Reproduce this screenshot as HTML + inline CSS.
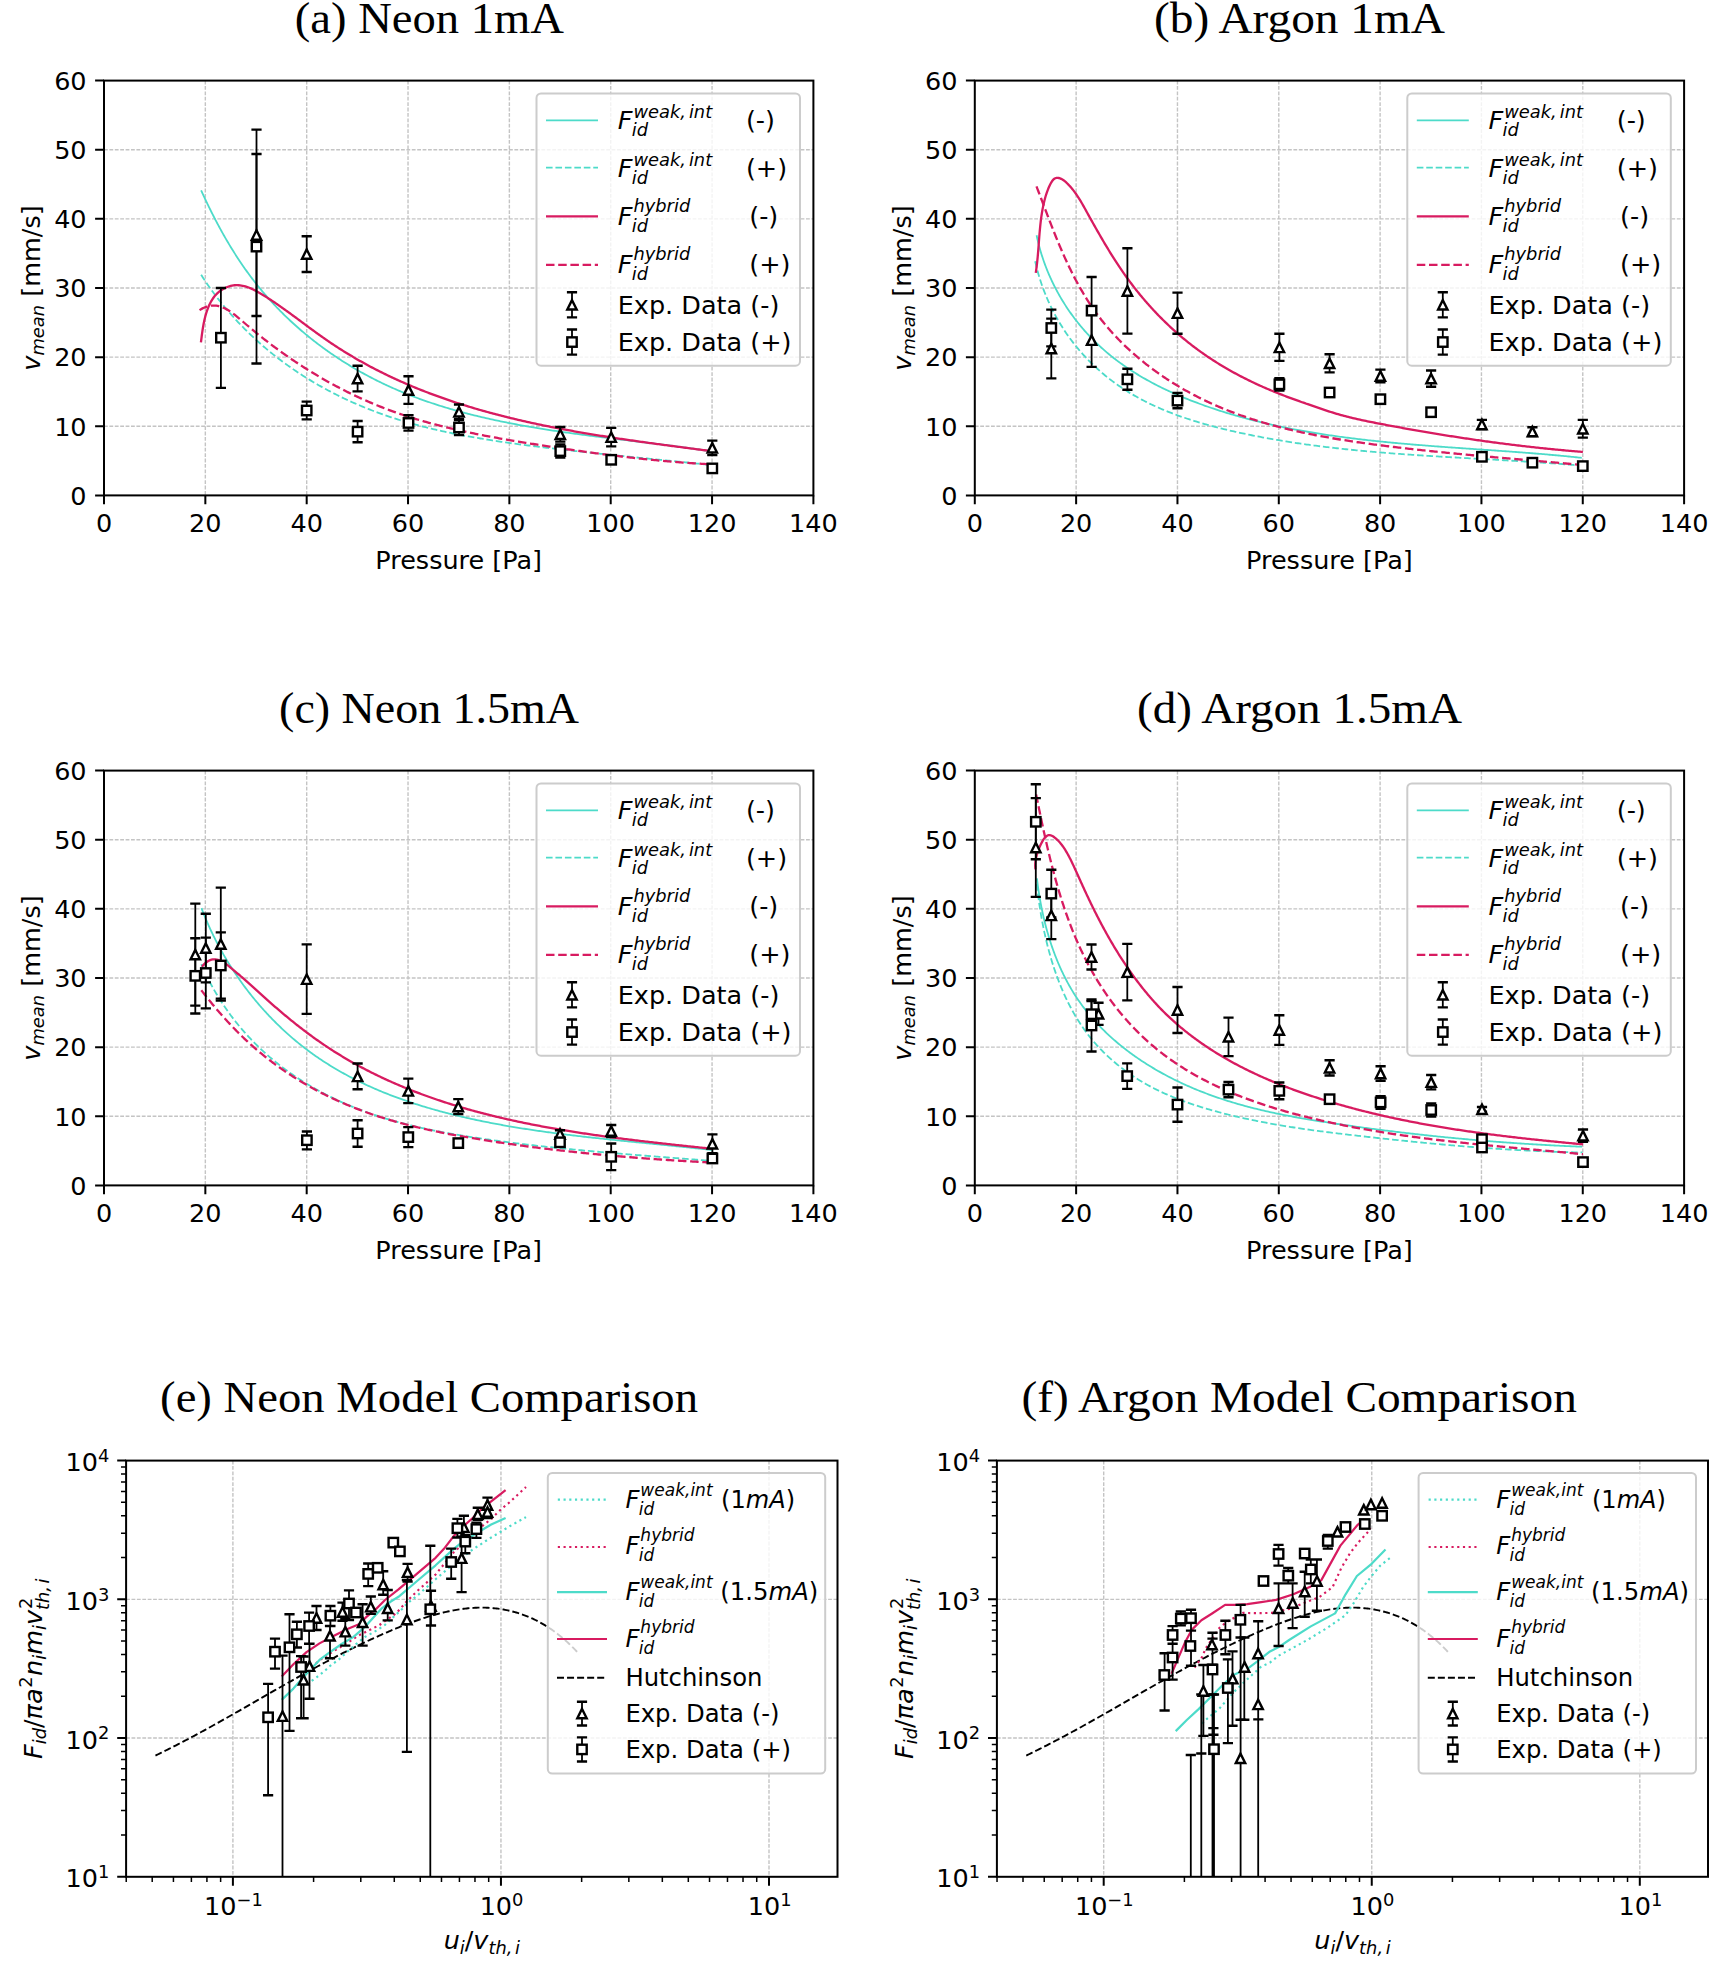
<!DOCTYPE html><html><head><meta charset="utf-8"><style>html,body{margin:0;padding:0;background:#fff;}svg{display:block;}.grid{stroke:#c4c4c4;stroke-width:1.4;stroke-dasharray:3.8 1.6;fill:none;}.spine{fill:none;stroke:#000;stroke-width:2.0;}.tick{stroke:#000;stroke-width:2;fill:none;}.mtick{stroke:#000;stroke-width:1.5;fill:none;}.eb{stroke:#000;stroke-width:1.8;fill:none;}.cap{stroke:#000;stroke-width:2.4;fill:none;}.mk{stroke:#000;stroke-width:2.4;fill:#fff;stroke-linejoin:miter;}</style></head><body>
<svg xmlns="http://www.w3.org/2000/svg" width="1727" height="1976" viewBox="0 0 1727 1976">
<rect width="1727" height="1976" fill="#fff"/>
<text x="294.8" y="33" font-size="44" font-family="'Liberation Serif', 'DejaVu Serif', serif" textLength="269.2" lengthAdjust="spacingAndGlyphs">(a) Neon 1mA</text>
<text x="1154" y="33" font-size="44" font-family="'Liberation Serif', 'DejaVu Serif', serif" textLength="291" lengthAdjust="spacingAndGlyphs">(b) Argon 1mA</text>
<text x="279.1" y="723" font-size="44" font-family="'Liberation Serif', 'DejaVu Serif', serif" textLength="299.9" lengthAdjust="spacingAndGlyphs">(c) Neon 1.5mA</text>
<text x="1137.1" y="723" font-size="44" font-family="'Liberation Serif', 'DejaVu Serif', serif" textLength="324.8" lengthAdjust="spacingAndGlyphs">(d) Argon 1.5mA</text>
<text x="160.1" y="1412" font-size="44" font-family="'Liberation Serif', 'DejaVu Serif', serif" textLength="537.9" lengthAdjust="spacingAndGlyphs">(e) Neon Model Comparison</text>
<text x="1021.5" y="1412" font-size="44" font-family="'Liberation Serif', 'DejaVu Serif', serif" textLength="555.3" lengthAdjust="spacingAndGlyphs">(f) Argon Model Comparison</text>
<path d="M205.34 80.6V495.4M306.69 80.6V495.4M408.03 80.6V495.4M509.37 80.6V495.4M610.71 80.6V495.4M712.06 80.6V495.4M104 426.27H813.4M104 357.13H813.4M104 288H813.4M104 218.87H813.4M104 149.73H813.4" class="grid"/>
<path d="M1076.13 80.6V495.4M1177.46 80.6V495.4M1278.79 80.6V495.4M1380.11 80.6V495.4M1481.44 80.6V495.4M1582.77 80.6V495.4M974.8 426.27H1684.1M974.8 357.13H1684.1M974.8 288H1684.1M974.8 218.87H1684.1M974.8 149.73H1684.1" class="grid"/>
<path d="M205.34 770.6V1185.4M306.69 770.6V1185.4M408.03 770.6V1185.4M509.37 770.6V1185.4M610.71 770.6V1185.4M712.06 770.6V1185.4M104 1116.27H813.4M104 1047.13H813.4M104 978H813.4M104 908.87H813.4M104 839.73H813.4" class="grid"/>
<path d="M1076.13 770.6V1185.4M1177.46 770.6V1185.4M1278.79 770.6V1185.4M1380.11 770.6V1185.4M1481.44 770.6V1185.4M1582.77 770.6V1185.4M974.8 1116.27H1684.1M974.8 1047.13H1684.1M974.8 978H1684.1M974.8 908.87H1684.1M974.8 839.73H1684.1" class="grid"/>
<path d="M232.9 1460.6V1876.8M500.95 1460.6V1876.8M769 1460.6V1876.8M126.1 1738.06H837.5M126.1 1599.33H837.5" class="grid"/>
<path d="M1103.7 1460.6V1876.8M1371.75 1460.6V1876.8M1639.8 1460.6V1876.8M996.9 1738.06H1708M996.9 1599.33H1708" class="grid"/>
<path d="M201.1 190.35L201.73 191.72L202.36 193.1L203 194.47L203.64 195.85L204.28 197.22L204.92 198.59L205.57 199.96L206.22 201.33L206.88 202.7L207.53 204.07L208.2 205.43L208.86 206.79L209.53 208.15L210.2 209.51L210.87 210.87L211.55 212.23L212.23 213.58L212.92 214.93L213.61 216.28L214.3 217.63L215 218.98L215.7 220.32L216.4 221.67L217.11 223.01L217.82 224.34L218.53 225.68L219.25 227.01L219.98 228.34L220.7 229.67L221.44 231L222.17 232.32L222.91 233.64L223.65 234.96L224.4 236.28L225.15 237.59L225.91 238.9L226.67 240.21L227.44 241.51L228.21 242.81L228.98 244.11L229.76 245.41L230.54 246.7L231.33 247.99L232.12 249.28L232.92 250.56L233.72 251.84L234.52 253.12L235.33 254.39L236.15 255.66L236.97 256.93L237.79 258.19L238.62 259.45L239.45 260.71L240.29 261.96L241.14 263.21L241.98 264.46L242.84 265.7L243.7 266.94L244.56 268.17L245.43 269.4L246.3 270.63L247.18 271.85L248.06 273.07L248.95 274.28L249.84 275.49L250.74 276.7L251.65 277.9L252.55 279.1L253.47 280.29L254.39 281.48L255.31 282.67L256.24 283.85L257.18 285.02L258.12 286.19L259.07 287.36L260.02 288.52L260.97 289.68L261.94 290.83L262.9 291.98L263.88 293.13L264.85 294.26L265.84 295.4L266.82 296.53L267.82 297.66L268.81 298.78L269.82 299.89L270.82 301L271.84 302.11L272.85 303.21L273.88 304.31L274.9 305.41L275.93 306.5L276.97 307.58L278.01 308.66L279.06 309.73L280.11 310.8L281.17 311.87L282.23 312.93L283.29 313.99L284.36 315.04L285.43 316.08L286.51 317.13L287.6 318.16L288.68 319.2L289.78 320.22L290.87 321.25L291.97 322.26L293.08 323.28L294.19 324.29L295.3 325.29L296.42 326.29L297.54 327.28L298.67 328.27L299.8 329.26L300.93 330.24L302.07 331.21L303.22 332.18L304.36 333.15L305.52 334.11L306.67 335.06L307.83 336.02L308.99 336.96L310.16 337.9L311.33 338.84L312.51 339.77L313.69 340.7L314.87 341.62L316.06 342.53L317.25 343.45L318.44 344.35L319.64 345.25L320.84 346.15L322.05 347.04L323.26 347.93L324.47 348.81L325.68 349.69L326.9 350.56L328.13 351.43L329.35 352.29L330.58 353.14L331.82 354L333.05 354.84L334.3 355.68L335.54 356.52L336.79 357.35L338.04 358.18L339.29 359L340.55 359.81L341.81 360.63L343.07 361.43L344.34 362.23L345.61 363.03L346.88 363.82L348.16 364.6L349.44 365.39L350.72 366.16L352 366.93L353.29 367.7L354.58 368.45L355.88 369.21L357.17 369.96L358.47 370.7L359.77 371.44L361.08 372.18L362.39 372.9L363.7 373.63L365.01 374.35L366.33 375.06L367.65 375.77L368.97 376.47L370.29 377.16L371.62 377.86L372.95 378.54L374.28 379.22L375.61 379.9L376.95 380.57L378.29 381.24L379.63 381.89L380.97 382.55L382.32 383.2L383.67 383.84L385.02 384.48L386.37 385.11L387.73 385.74L389.09 386.36L390.45 386.98L391.81 387.59L393.17 388.2L394.54 388.8L395.91 389.4L397.28 389.99L398.65 390.58L400.03 391.16L401.4 391.74L402.78 392.31L404.16 392.87L405.55 393.44L406.93 393.99L408.32 394.55L409.71 395.09L411.1 395.64L412.49 396.17L413.89 396.71L415.28 397.24L416.68 397.76L418.08 398.28L419.49 398.79L420.89 399.3L422.3 399.81L423.71 400.31L425.12 400.81L426.53 401.3L427.94 401.79L429.36 402.27L430.77 402.75L432.19 403.23L433.61 403.7L435.04 404.16L436.46 404.63L437.89 405.09L439.31 405.54L440.74 405.99L442.17 406.44L443.6 406.88L445.04 407.32L446.47 407.75L447.91 408.18L449.35 408.6L450.79 409.03L452.23 409.45L453.67 409.86L455.11 410.27L456.56 410.68L458.01 411.08L459.45 411.48L460.9 411.88L462.35 412.27L463.81 412.66L465.26 413.04L466.71 413.42L468.17 413.8L469.63 414.17L471.09 414.54L472.55 414.91L474.01 415.28L475.47 415.64L476.93 415.99L478.4 416.35L479.86 416.7L481.33 417.05L482.8 417.39L484.27 417.73L485.74 418.07L487.21 418.41L488.68 418.74L490.16 419.07L491.63 419.39L493.11 419.71L494.58 420.03L496.06 420.35L497.54 420.66L499.02 420.98L500.5 421.28L501.98 421.59L503.46 421.89L504.94 422.19L506.43 422.49L507.91 422.78L509.4 423.08L510.88 423.37L512.37 423.65L513.86 423.94L515.34 424.22L516.83 424.5L518.32 424.77L519.81 425.05L521.3 425.32L522.8 425.59L524.29 425.86L525.78 426.12L527.28 426.38L528.77 426.64L530.26 426.9L531.76 427.16L533.26 427.41L534.75 427.66L536.25 427.91L537.75 428.16L539.24 428.41L540.74 428.65L542.24 428.89L543.74 429.13L545.24 429.37L546.74 429.6L548.24 429.84L549.74 430.07L551.24 430.3L552.74 430.53L554.24 430.75L555.75 430.98L557.25 431.2L558.75 431.42L560.25 431.65L561.75 431.86L563.26 432.08L564.76 432.3L566.26 432.51L567.77 432.72L569.27 432.93L570.77 433.14L572.28 433.35L573.78 433.56L575.29 433.77L576.79 433.97L578.29 434.18L579.8 434.38L581.3 434.58L582.81 434.78L584.31 434.98L585.81 435.18L587.32 435.37L588.82 435.57L590.32 435.76L591.83 435.96L593.33 436.15L594.83 436.34L596.34 436.53L597.84 436.72L599.34 436.91L600.84 437.1L602.34 437.29L603.85 437.48L605.35 437.66L606.85 437.85L608.35 438.04L609.85 438.22L611.35 438.41L612.85 438.59L614.35 438.77L615.85 438.96L617.34 439.14L618.84 439.32L620.34 439.5L621.84 439.68L623.33 439.87L624.83 440.05L626.32 440.23L627.82 440.41L629.31 440.59L630.81 440.77L632.3 440.95L633.79 441.13L635.29 441.31L636.78 441.49L638.27 441.67L639.76 441.85L641.25 442.03L642.73 442.21L644.22 442.39L645.71 442.57L647.2 442.75L648.68 442.93L650.17 443.11L651.65 443.3L653.13 443.48L654.61 443.66L656.1 443.84L657.58 444.03L659.06 444.21L660.53 444.39L662.01 444.58L663.49 444.76L664.96 444.95L666.44 445.13L667.91 445.32L669.38 445.51L670.86 445.7L672.33 445.89L673.8 446.08L675.26 446.27L676.73 446.46L678.2 446.65L679.66 446.84L681.13 447.04L682.59 447.23L684.05 447.43L685.51 447.62L686.97 447.82L688.43 448.02L689.88 448.22L691.34 448.42L692.79 448.63L694.25 448.83L695.7 449.03L697.15 449.24L698.6 449.45L700.04 449.66L701.49 449.87L702.93 450.08L704.37 450.29L705.82 450.51L707.26 450.72L708.69 450.94L710.13 451.16L711.57 451.38" style="stroke:#4ddbc9;stroke-width:1.8;fill:none;"/>
<path d="M201.12 274.8L201.97 276.11L202.82 277.43L203.68 278.73L204.55 280.03L205.42 281.33L206.29 282.62L207.17 283.9L208.06 285.18L208.95 286.45L209.84 287.72L210.75 288.98L211.65 290.23L212.56 291.48L213.48 292.73L214.4 293.96L215.33 295.2L216.26 296.43L217.19 297.65L218.14 298.86L219.08 300.08L220.03 301.28L220.99 302.48L221.95 303.67L222.92 304.86L223.89 306.05L224.86 307.22L225.84 308.4L226.83 309.56L227.82 310.72L228.81 311.88L229.81 313.03L230.82 314.18L231.82 315.31L232.84 316.45L233.86 317.58L234.88 318.7L235.91 319.82L236.94 320.93L237.97 322.03L239.01 323.14L240.06 324.23L241.11 325.32L242.16 326.41L243.22 327.48L244.28 328.56L245.35 329.63L246.42 330.69L247.5 331.75L248.58 332.8L249.66 333.84L250.75 334.89L251.84 335.92L252.94 336.95L254.04 337.98L255.15 339L256.26 340.01L257.37 341.02L258.49 342.02L259.61 343.02L260.74 344.01L261.86 345L263 345.98L264.14 346.96L265.28 347.93L266.42 348.89L267.57 349.85L268.73 350.81L269.88 351.76L271.04 352.7L272.21 353.64L273.38 354.58L274.55 355.5L275.73 356.43L276.91 357.34L278.09 358.26L279.28 359.16L280.47 360.07L281.66 360.96L282.86 361.85L284.06 362.74L285.27 363.62L286.48 364.49L287.69 365.36L288.9 366.23L290.12 367.09L291.35 367.94L292.57 368.79L293.8 369.63L295.04 370.47L296.27 371.31L297.51 372.13L298.75 372.96L300 373.77L301.25 374.59L302.5 375.39L303.76 376.19L305.02 376.99L306.28 377.78L307.55 378.57L308.81 379.35L310.09 380.12L311.36 380.89L312.64 381.66L313.92 382.42L315.2 383.17L316.49 383.92L317.78 384.67L319.07 385.41L320.37 386.14L321.67 386.87L322.97 387.59L324.27 388.31L325.58 389.02L326.89 389.73L328.2 390.44L329.52 391.13L330.83 391.83L332.16 392.51L333.48 393.2L334.81 393.87L336.13 394.55L337.47 395.21L338.8 395.87L340.14 396.53L341.48 397.18L342.82 397.83L344.16 398.47L345.51 399.11L346.86 399.74L348.21 400.37L349.56 400.99L350.92 401.6L352.28 402.21L353.64 402.82L355 403.42L356.37 404.02L357.74 404.61L359.11 405.19L360.48 405.77L361.85 406.35L363.23 406.92L364.61 407.48L365.99 408.05L367.37 408.6L368.76 409.15L370.15 409.7L371.54 410.24L372.93 410.77L374.32 411.3L375.72 411.83L377.12 412.35L378.52 412.86L379.92 413.37L381.32 413.88L382.72 414.38L384.13 414.87L385.54 415.37L386.95 415.85L388.36 416.33L389.78 416.81L391.19 417.28L392.61 417.74L394.03 418.21L395.45 418.66L396.87 419.12L398.3 419.56L399.73 420.01L401.15 420.44L402.58 420.88L404.01 421.31L405.45 421.73L406.88 422.15L408.32 422.57L409.75 422.98L411.19 423.39L412.63 423.8L414.08 424.19L415.52 424.59L416.96 424.98L418.41 425.37L419.86 425.75L421.31 426.13L422.76 426.51L424.21 426.88L425.66 427.25L427.12 427.61L428.57 427.97L430.03 428.33L431.49 428.68L432.95 429.03L434.41 429.37L435.88 429.71L437.34 430.05L438.8 430.39L440.27 430.72L441.74 431.05L443.21 431.37L444.68 431.69L446.15 432.01L447.62 432.32L449.09 432.63L450.57 432.94L452.04 433.25L453.52 433.55L455 433.85L456.48 434.14L457.96 434.44L459.44 434.72L460.92 435.01L462.4 435.29L463.89 435.58L465.37 435.85L466.86 436.13L468.34 436.4L469.83 436.67L471.32 436.94L472.81 437.2L474.3 437.46L475.79 437.72L477.28 437.98L478.77 438.23L480.27 438.49L481.76 438.73L483.26 438.98L484.75 439.23L486.25 439.47L487.74 439.71L489.24 439.95L490.74 440.18L492.24 440.42L493.74 440.65L495.24 440.88L496.74 441.11L498.24 441.33L499.74 441.55L501.25 441.78L502.75 442L504.25 442.21L505.76 442.43L507.26 442.65L508.77 442.86L510.27 443.07L511.78 443.28L513.29 443.49L514.79 443.69L516.3 443.9L517.81 444.1L519.32 444.3L520.83 444.5L522.34 444.7L523.84 444.9L525.35 445.1L526.86 445.29L528.37 445.49L529.88 445.68L531.4 445.87L532.91 446.06L534.42 446.25L535.93 446.44L537.44 446.63L538.95 446.82L540.46 447L541.98 447.19L543.49 447.37L545 447.56L546.51 447.74L548.02 447.92L549.54 448.1L551.05 448.28L552.56 448.46L554.07 448.64L555.59 448.81L557.1 448.99L558.61 449.17L560.12 449.34L561.64 449.52L563.15 449.69L564.66 449.86L566.17 450.03L567.69 450.21L569.2 450.38L570.71 450.55L572.22 450.72L573.73 450.88L575.24 451.05L576.75 451.22L578.26 451.39L579.77 451.55L581.28 451.72L582.79 451.88L584.3 452.05L585.81 452.21L587.32 452.37L588.83 452.53L590.34 452.7L591.84 452.86L593.35 453.02L594.86 453.18L596.36 453.34L597.87 453.5L599.38 453.65L600.88 453.81L602.38 453.97L603.89 454.13L605.39 454.28L606.89 454.44L608.4 454.59L609.9 454.75L611.4 454.9L612.9 455.06L614.4 455.21L615.9 455.37L617.4 455.52L618.9 455.67L620.39 455.83L621.89 455.98L623.38 456.13L624.88 456.28L626.37 456.43L627.87 456.58L629.36 456.73L630.85 456.88L632.34 457.03L633.83 457.18L635.32 457.33L636.81 457.48L638.3 457.63L639.78 457.78L641.27 457.93L642.76 458.08L644.24 458.23L645.72 458.37L647.2 458.52L648.68 458.67L650.16 458.82L651.64 458.97L653.12 459.11L654.6 459.26L656.07 459.41L657.55 459.55L659.02 459.7L660.49 459.85L661.97 460L663.44 460.14L664.9 460.29L666.37 460.44L667.84 460.58L669.3 460.73L670.77 460.88L672.23 461.02L673.69 461.17L675.15 461.32L676.61 461.46L678.07 461.61L679.53 461.76L680.98 461.9L682.44 462.05L683.89 462.2L685.34 462.35L686.79 462.49L688.24 462.64L689.68 462.79L691.13 462.94L692.57 463.08L694.01 463.23L695.45 463.38L696.89 463.53L698.33 463.68L699.77 463.83L701.2 463.98L702.63 464.13L704.07 464.28L705.5 464.43L706.92 464.58L708.35 464.73L709.77 464.88L711.2 465.03" style="stroke:#4ddbc9;stroke-width:1.8;fill:none;stroke-dasharray:6.6 2.85;"/>
<path d="M200.92 342.48L201.07 341.26L201.23 340L201.4 338.68L201.57 337.33L201.74 335.93L201.93 334.5L202.13 333.04L202.34 331.55L202.57 330.04L202.81 328.5L203.06 326.95L203.34 325.38L203.63 323.8L203.95 322.21L204.29 320.61L204.65 319.01L205.04 317.42L205.45 315.82L205.9 314.24L206.37 312.67L206.88 311.11L207.41 309.56L207.99 308.04L208.59 306.55L209.24 305.08L209.92 303.64L210.65 302.24L211.42 300.87L212.22 299.55L213.08 298.27L213.98 297.03L214.93 295.85L215.92 294.72L216.97 293.65L218.06 292.63L219.19 291.68L220.36 290.78L221.57 289.95L222.8 289.18L224.07 288.47L225.36 287.83L226.66 287.25L227.99 286.74L229.32 286.31L230.67 285.94L232.02 285.64L233.37 285.41L234.72 285.26L236.06 285.18L237.4 285.17L238.74 285.23L240.07 285.36L241.4 285.54L242.72 285.79L244.04 286.09L245.36 286.44L246.67 286.85L247.97 287.29L249.28 287.79L250.57 288.32L251.87 288.89L253.16 289.5L254.45 290.14L255.74 290.81L257.02 291.5L258.3 292.21L259.57 292.95L260.85 293.7L262.12 294.47L263.38 295.24L264.65 296.03L265.91 296.82L267.17 297.62L268.43 298.43L269.68 299.24L270.94 300.06L272.19 300.89L273.44 301.72L274.68 302.56L275.93 303.41L277.17 304.26L278.41 305.12L279.65 305.98L280.89 306.85L282.13 307.72L283.36 308.6L284.6 309.48L285.83 310.36L287.07 311.25L288.3 312.14L289.53 313.04L290.76 313.93L291.99 314.83L293.22 315.73L294.45 316.64L295.68 317.54L296.91 318.45L298.13 319.36L299.36 320.27L300.59 321.18L301.82 322.09L303.05 323L304.28 323.91L305.51 324.83L306.74 325.74L307.97 326.65L309.2 327.56L310.44 328.46L311.67 329.37L312.9 330.27L314.14 331.18L315.38 332.08L316.62 332.97L317.86 333.87L319.1 334.76L320.34 335.65L321.58 336.53L322.83 337.42L324.08 338.29L325.33 339.17L326.58 340.03L327.84 340.9L329.09 341.76L330.35 342.61L331.61 343.46L332.88 344.3L334.14 345.14L335.41 345.97L336.68 346.8L337.96 347.62L339.23 348.44L340.51 349.26L341.79 350.07L343.07 350.87L344.35 351.67L345.64 352.46L346.92 353.25L348.21 354.04L349.5 354.82L350.8 355.59L352.09 356.36L353.39 357.13L354.69 357.89L356 358.64L357.3 359.4L358.61 360.14L359.91 360.89L361.22 361.62L362.54 362.36L363.85 363.08L365.17 363.81L366.48 364.53L367.8 365.24L369.13 365.95L370.45 366.66L371.78 367.36L373.1 368.06L374.43 368.75L375.77 369.44L377.1 370.12L378.43 370.8L379.77 371.48L381.11 372.15L382.45 372.82L383.79 373.48L385.14 374.14L386.48 374.79L387.83 375.44L389.18 376.09L390.53 376.73L391.89 377.37L393.24 378L394.6 378.63L395.96 379.25L397.32 379.87L398.68 380.49L400.04 381.1L401.41 381.71L402.77 382.32L404.14 382.92L405.51 383.51L406.88 384.11L408.26 384.7L409.63 385.28L411.01 385.86L412.38 386.44L413.76 387.01L415.15 387.58L416.53 388.15L417.91 388.71L419.3 389.27L420.69 389.82L422.07 390.37L423.46 390.92L424.86 391.46L426.25 392L427.64 392.54L429.04 393.07L430.44 393.6L431.84 394.13L433.24 394.65L434.64 395.17L436.04 395.68L437.45 396.19L438.85 396.7L440.26 397.2L441.67 397.7L443.08 398.2L444.49 398.69L445.9 399.18L447.32 399.67L448.73 400.15L450.15 400.63L451.56 401.11L452.98 401.58L454.4 402.05L455.83 402.52L457.25 402.98L458.67 403.45L460.1 403.9L461.52 404.36L462.95 404.81L464.38 405.26L465.81 405.7L467.24 406.14L468.67 406.58L470.1 407.02L471.54 407.45L472.97 407.88L474.41 408.3L475.85 408.73L477.29 409.15L478.73 409.56L480.17 409.98L481.61 410.39L483.05 410.8L484.5 411.2L485.94 411.61L487.39 412.01L488.83 412.4L490.28 412.8L491.73 413.19L493.18 413.58L494.63 413.96L496.08 414.35L497.53 414.73L498.99 415.11L500.44 415.48L501.9 415.85L503.35 416.22L504.81 416.59L506.27 416.95L507.72 417.32L509.18 417.68L510.64 418.03L512.1 418.39L513.57 418.74L515.03 419.09L516.49 419.44L517.96 419.78L519.42 420.12L520.89 420.46L522.35 420.8L523.82 421.14L525.29 421.47L526.75 421.8L528.22 422.13L529.69 422.45L531.16 422.78L532.63 423.1L534.11 423.42L535.58 423.73L537.05 424.05L538.52 424.36L540 424.67L541.47 424.98L542.95 425.28L544.42 425.59L545.9 425.89L547.38 426.19L548.85 426.49L550.33 426.78L551.81 427.08L553.29 427.37L554.77 427.66L556.25 427.95L557.73 428.23L559.21 428.52L560.69 428.8L562.17 429.08L563.65 429.36L565.14 429.63L566.62 429.91L568.1 430.18L569.58 430.45L571.07 430.72L572.55 430.99L574.04 431.26L575.52 431.52L577.01 431.78L578.49 432.05L579.98 432.31L581.46 432.56L582.95 432.82L584.44 433.07L585.92 433.33L587.41 433.58L588.9 433.83L590.39 434.08L591.87 434.32L593.36 434.57L594.85 434.81L596.34 435.06L597.83 435.3L599.31 435.54L600.8 435.78L602.29 436.01L603.78 436.25L605.27 436.49L606.76 436.72L608.25 436.95L609.74 437.18L611.23 437.41L612.71 437.64L614.2 437.87L615.69 438.09L617.18 438.32L618.67 438.54L620.16 438.77L621.65 438.99L623.14 439.21L624.63 439.43L626.12 439.65L627.61 439.86L629.1 440.08L630.58 440.29L632.07 440.51L633.56 440.72L635.05 440.94L636.54 441.15L638.03 441.36L639.52 441.57L641 441.78L642.49 441.99L643.98 442.19L645.47 442.4L646.95 442.61L648.44 442.81L649.93 443.02L651.41 443.22L652.9 443.42L654.39 443.63L655.87 443.83L657.36 444.03L658.84 444.23L660.33 444.43L661.81 444.63L663.3 444.83L664.78 445.03L666.26 445.22L667.75 445.42L669.23 445.62L670.71 445.81L672.19 446.01L673.68 446.21L675.16 446.4L676.64 446.6L678.12 446.79L679.6 446.98L681.08 447.18L682.56 447.37L684.03 447.56L685.51 447.76L686.99 447.95L688.47 448.14L689.94 448.34L691.42 448.53L692.89 448.72L694.37 448.91L695.84 449.1L697.32 449.29L698.79 449.49L700.26 449.68L701.73 449.87L703.2 450.06L704.67 450.25L706.14 450.44L707.61 450.63L709.08 450.82L710.55 451.02L712.02 451.21" style="stroke:#D81B60;stroke-width:2.3;fill:none;"/>
<path d="M199.53 310.11L201.03 309.19L202.51 308.38L203.97 307.68L205.42 307.09L206.84 306.6L208.24 306.2L209.62 305.9L210.99 305.69L212.34 305.57L213.68 305.54L215 305.59L216.3 305.71L217.59 305.91L218.87 306.18L220.14 306.52L221.39 306.93L222.63 307.39L223.87 307.92L225.09 308.5L226.3 309.13L227.51 309.8L228.71 310.53L229.9 311.29L231.08 312.1L232.26 312.93L233.43 313.8L234.61 314.7L235.77 315.63L236.94 316.57L238.1 317.53L239.26 318.51L240.42 319.5L241.58 320.5L242.74 321.5L243.9 322.5L245.06 323.5L246.23 324.5L247.4 325.5L248.57 326.49L249.74 327.48L250.92 328.46L252.1 329.44L253.28 330.42L254.46 331.39L255.65 332.36L256.84 333.33L258.03 334.29L259.22 335.25L260.42 336.2L261.61 337.15L262.81 338.1L264.02 339.05L265.22 339.99L266.43 340.92L267.64 341.85L268.85 342.78L270.07 343.71L271.28 344.63L272.5 345.55L273.72 346.46L274.94 347.37L276.17 348.27L277.4 349.18L278.63 350.07L279.86 350.97L281.1 351.86L282.33 352.74L283.57 353.62L284.81 354.5L286.06 355.38L287.3 356.25L288.55 357.11L289.8 357.97L291.05 358.83L292.31 359.69L293.56 360.54L294.82 361.38L296.09 362.22L297.35 363.06L298.61 363.89L299.88 364.72L301.15 365.55L302.42 366.37L303.7 367.18L304.97 368L306.25 368.8L307.53 369.61L308.81 370.41L310.1 371.2L311.38 371.99L312.67 372.78L313.96 373.56L315.26 374.34L316.55 375.11L317.85 375.88L319.15 376.65L320.45 377.41L321.75 378.17L323.05 378.92L324.36 379.67L325.67 380.41L326.98 381.15L328.29 381.88L329.61 382.61L330.92 383.34L332.24 384.06L333.56 384.77L334.88 385.48L336.21 386.19L337.53 386.89L338.86 387.59L340.19 388.28L341.52 388.97L342.86 389.66L344.19 390.34L345.53 391.01L346.87 391.68L348.21 392.35L349.56 393.01L350.9 393.66L352.25 394.32L353.6 394.96L354.95 395.6L356.3 396.24L357.65 396.87L359.01 397.5L360.37 398.12L361.73 398.74L363.09 399.35L364.45 399.96L365.81 400.57L367.18 401.16L368.55 401.76L369.92 402.35L371.29 402.93L372.66 403.51L374.04 404.08L375.42 404.65L376.79 405.22L378.17 405.78L379.56 406.33L380.94 406.88L382.33 407.42L383.71 407.96L385.1 408.5L386.49 409.02L387.88 409.55L389.28 410.07L390.67 410.58L392.07 411.09L393.47 411.6L394.87 412.1L396.27 412.59L397.67 413.08L399.07 413.57L400.48 414.05L401.89 414.52L403.3 415L404.71 415.46L406.12 415.93L407.53 416.38L408.95 416.84L410.36 417.29L411.78 417.73L413.2 418.18L414.62 418.61L416.04 419.05L417.47 419.48L418.89 419.9L420.32 420.32L421.74 420.74L423.17 421.15L424.6 421.56L426.03 421.97L427.47 422.37L428.9 422.77L430.33 423.16L431.77 423.55L433.21 423.94L434.65 424.32L436.09 424.7L437.53 425.08L438.97 425.45L440.41 425.82L441.86 426.18L443.3 426.55L444.75 426.91L446.2 427.26L447.65 427.61L449.1 427.96L450.55 428.31L452 428.65L453.46 428.99L454.91 429.33L456.37 429.67L457.82 430L459.28 430.33L460.74 430.65L462.2 430.97L463.66 431.29L465.12 431.61L466.59 431.93L468.05 432.24L469.51 432.55L470.98 432.86L472.45 433.16L473.91 433.46L475.38 433.76L476.85 434.06L478.32 434.35L479.79 434.65L481.26 434.94L482.74 435.22L484.21 435.51L485.68 435.79L487.16 436.08L488.63 436.36L490.11 436.63L491.59 436.91L493.06 437.18L494.54 437.46L496.02 437.73L497.5 437.99L498.98 438.26L500.46 438.52L501.95 438.79L503.43 439.05L504.91 439.31L506.4 439.57L507.88 439.82L509.37 440.08L510.85 440.33L512.34 440.59L513.83 440.84L515.31 441.09L516.8 441.34L518.29 441.58L519.78 441.83L521.27 442.08L522.76 442.32L524.25 442.56L525.74 442.81L527.23 443.05L528.72 443.29L530.22 443.53L531.71 443.77L533.2 444L534.7 444.24L536.19 444.48L537.68 444.71L539.18 444.95L540.67 445.18L542.17 445.42L543.67 445.65L545.16 445.88L546.66 446.11L548.15 446.34L549.65 446.57L551.15 446.8L552.65 447.03L554.14 447.26L555.64 447.49L557.14 447.71L558.64 447.94L560.14 448.17L561.64 448.39L563.13 448.61L564.63 448.83L566.13 449.06L567.63 449.28L569.13 449.5L570.63 449.71L572.13 449.93L573.63 450.15L575.13 450.36L576.63 450.58L578.13 450.79L579.63 451.01L581.13 451.22L582.63 451.43L584.13 451.64L585.63 451.85L587.13 452.06L588.63 452.26L590.13 452.47L591.63 452.67L593.13 452.88L594.63 453.08L596.13 453.28L597.63 453.48L599.13 453.68L600.63 453.88L602.12 454.07L603.62 454.27L605.12 454.46L606.62 454.65L608.12 454.84L609.62 455.04L611.11 455.22L612.61 455.41L614.11 455.6L615.61 455.78L617.1 455.97L618.6 456.15L620.1 456.33L621.59 456.51L623.09 456.69L624.58 456.86L626.08 457.04L627.57 457.21L629.07 457.39L630.56 457.56L632.05 457.73L633.55 457.9L635.04 458.06L636.53 458.23L638.02 458.39L639.51 458.55L641 458.71L642.5 458.87L643.98 459.03L645.47 459.19L646.96 459.34L648.45 459.49L649.94 459.65L651.43 459.79L652.91 459.94L654.4 460.09L655.88 460.23L657.37 460.38L658.85 460.52L660.34 460.66L661.82 460.79L663.3 460.93L664.78 461.06L666.26 461.2L667.74 461.33L669.22 461.46L670.7 461.58L672.18 461.71L673.66 461.83L675.14 461.95L676.61 462.07L678.09 462.19L679.56 462.31L681.03 462.42L682.51 462.53L683.98 462.64L685.45 462.75L686.92 462.86L688.39 462.96L689.86 463.06L691.33 463.16L692.79 463.26L694.26 463.36L695.72 463.45L697.19 463.55L698.65 463.64L700.11 463.72L701.57 463.81L703.03 463.89L704.49 463.97L705.95 464.05L707.41 464.13L708.86 464.21L710.32 464.28L711.77 464.35" style="stroke:#D81B60;stroke-width:2.3;fill:none;stroke-dasharray:8.5 3.7;"/>
<path d="M256.5 154V316" class="eb"/>
<path d="M251.4 154h10.2M251.4 316h10.2" class="cap"/>
<path d="M306.7 236.3V272" class="eb"/>
<path d="M301.6 236.3h10.2M301.6 272h10.2" class="cap"/>
<path d="M357.6 365.7V391.4" class="eb"/>
<path d="M352.5 365.7h10.2M352.5 391.4h10.2" class="cap"/>
<path d="M408.5 376.3V403.9" class="eb"/>
<path d="M403.4 376.3h10.2M403.4 403.9h10.2" class="cap"/>
<path d="M459 404.5V419.1" class="eb"/>
<path d="M453.9 404.5h10.2M453.9 419.1h10.2" class="cap"/>
<path d="M560.3 427V441.6" class="eb"/>
<path d="M555.2 427h10.2M555.2 441.6h10.2" class="cap"/>
<path d="M611.2 427.9V446.4" class="eb"/>
<path d="M606.1 427.9h10.2M606.1 446.4h10.2" class="cap"/>
<path d="M712.3 440.6V455.1" class="eb"/>
<path d="M707.2 440.6h10.2M707.2 455.1h10.2" class="cap"/>
<path d="M220.9 288V387.9" class="eb"/>
<path d="M215.8 288h10.2M215.8 387.9h10.2" class="cap"/>
<path d="M256.5 129.6V363.5" class="eb"/>
<path d="M251.4 129.6h10.2M251.4 363.5h10.2" class="cap"/>
<path d="M306.7 401.6V419.4" class="eb"/>
<path d="M301.6 401.6h10.2M301.6 419.4h10.2" class="cap"/>
<path d="M357.6 421V442.3" class="eb"/>
<path d="M352.5 421h10.2M352.5 442.3h10.2" class="cap"/>
<path d="M408.5 415.3V430.6" class="eb"/>
<path d="M403.4 415.3h10.2M403.4 430.6h10.2" class="cap"/>
<path d="M459 420V435" class="eb"/>
<path d="M453.9 420h10.2M453.9 435h10.2" class="cap"/>
<path d="M560.3 444.5V457.5" class="eb"/>
<path d="M555.2 444.5h10.2M555.2 457.5h10.2" class="cap"/>
<path d="M611.2 456V463" class="eb"/>
<path d="M606.1 456h10.2M606.1 463h10.2" class="cap"/>
<path d="M712.3 466V471" class="eb"/>
<path d="M707.2 466h10.2M707.2 471h10.2" class="cap"/>
<path d="M256.5 230.3L251.8 239.7L261.2 239.7Z" class="mk"/>
<path d="M306.7 249.4L302 258.8L311.4 258.8Z" class="mk"/>
<path d="M357.6 373.85L352.9 383.25L362.3 383.25Z" class="mk"/>
<path d="M408.5 385.4L403.8 394.8L413.2 394.8Z" class="mk"/>
<path d="M459 407.1L454.3 416.5L463.7 416.5Z" class="mk"/>
<path d="M560.3 429.6L555.6 439L565 439Z" class="mk"/>
<path d="M611.2 432.45L606.5 441.85L615.9 441.85Z" class="mk"/>
<path d="M712.3 443.15L707.6 452.55L717 452.55Z" class="mk"/>
<rect x="216.2" y="333" width="9.4" height="9.4" class="mk"/>
<rect x="251.8" y="241.9" width="9.4" height="9.4" class="mk"/>
<rect x="302" y="405.8" width="9.4" height="9.4" class="mk"/>
<rect x="352.9" y="426.95" width="9.4" height="9.4" class="mk"/>
<rect x="403.8" y="418.25" width="9.4" height="9.4" class="mk"/>
<rect x="454.3" y="422.8" width="9.4" height="9.4" class="mk"/>
<rect x="555.6" y="446.4" width="9.4" height="9.4" class="mk"/>
<rect x="606.5" y="455.1" width="9.4" height="9.4" class="mk"/>
<rect x="707.6" y="463.7" width="9.4" height="9.4" class="mk"/>
<path d="M1036.59 235.24L1036.91 236.76L1037.23 238.27L1037.58 239.77L1037.93 241.28L1038.29 242.78L1038.67 244.28L1039.06 245.77L1039.46 247.26L1039.87 248.75L1040.29 250.23L1040.72 251.71L1041.16 253.19L1041.62 254.66L1042.08 256.12L1042.56 257.59L1043.04 259.05L1043.54 260.5L1044.05 261.95L1044.57 263.4L1045.1 264.84L1045.64 266.27L1046.19 267.71L1046.75 269.13L1047.32 270.56L1047.9 271.97L1048.49 273.39L1049.1 274.8L1049.71 276.2L1050.33 277.6L1050.96 278.99L1051.6 280.38L1052.26 281.76L1052.92 283.13L1053.59 284.5L1054.27 285.87L1054.96 287.23L1055.66 288.58L1056.37 289.93L1057.09 291.27L1057.82 292.61L1058.55 293.94L1059.3 295.27L1060.06 296.58L1060.82 297.9L1061.59 299.2L1062.38 300.5L1063.17 301.79L1063.97 303.08L1064.78 304.36L1065.6 305.63L1066.42 306.9L1067.26 308.16L1068.1 309.42L1068.95 310.66L1069.81 311.9L1070.68 313.14L1071.56 314.36L1072.45 315.58L1073.34 316.79L1074.24 318L1075.15 319.2L1076.07 320.39L1076.99 321.57L1077.93 322.75L1078.87 323.92L1079.82 325.08L1080.78 326.24L1081.74 327.39L1082.71 328.53L1083.69 329.66L1084.68 330.78L1085.67 331.9L1086.67 333.01L1087.68 334.11L1088.7 335.21L1089.72 336.29L1090.75 337.37L1091.79 338.44L1092.83 339.5L1093.88 340.56L1094.94 341.6L1096 342.64L1097.07 343.67L1098.15 344.7L1099.23 345.71L1100.32 346.71L1101.42 347.71L1102.52 348.7L1103.63 349.68L1104.75 350.66L1105.87 351.62L1107 352.58L1108.13 353.53L1109.27 354.47L1110.42 355.41L1111.57 356.34L1112.73 357.26L1113.89 358.17L1115.06 359.07L1116.23 359.97L1117.41 360.86L1118.6 361.74L1119.79 362.62L1120.99 363.48L1122.19 364.34L1123.4 365.2L1124.61 366.04L1125.82 366.88L1127.05 367.71L1128.27 368.54L1129.51 369.36L1130.74 370.17L1131.99 370.97L1133.23 371.77L1134.48 372.56L1135.74 373.34L1137 374.12L1138.26 374.89L1139.53 375.66L1140.81 376.41L1142.09 377.17L1143.37 377.91L1144.65 378.65L1145.94 379.38L1147.24 380.11L1148.54 380.83L1149.84 381.54L1151.15 382.25L1152.46 382.95L1153.77 383.64L1155.09 384.33L1156.41 385.01L1157.73 385.69L1159.06 386.36L1160.4 387.03L1161.73 387.69L1163.07 388.34L1164.41 388.99L1165.76 389.63L1167.1 390.27L1168.45 390.9L1169.81 391.53L1171.17 392.15L1172.53 392.76L1173.89 393.37L1175.25 393.98L1176.62 394.57L1177.99 395.17L1179.37 395.76L1180.74 396.34L1182.12 396.92L1183.5 397.49L1184.88 398.06L1186.27 398.63L1187.66 399.18L1189.05 399.74L1190.44 400.29L1191.83 400.83L1193.23 401.37L1194.63 401.91L1196.02 402.44L1197.43 402.96L1198.83 403.49L1200.23 404L1201.64 404.51L1203.05 405.02L1204.46 405.53L1205.87 406.03L1207.28 406.52L1208.69 407.01L1210.11 407.5L1211.52 407.98L1212.94 408.46L1214.36 408.94L1215.78 409.41L1217.2 409.87L1218.62 410.33L1220.05 410.79L1221.47 411.25L1222.9 411.7L1224.33 412.14L1225.75 412.58L1227.18 413.02L1228.62 413.46L1230.05 413.89L1231.48 414.31L1232.92 414.74L1234.35 415.16L1235.79 415.57L1237.23 415.98L1238.67 416.39L1240.11 416.79L1241.55 417.19L1243 417.59L1244.44 417.98L1245.89 418.37L1247.33 418.76L1248.78 419.14L1250.23 419.52L1251.68 419.89L1253.13 420.26L1254.58 420.63L1256.04 421L1257.49 421.36L1258.95 421.72L1260.4 422.07L1261.86 422.42L1263.32 422.77L1264.78 423.11L1266.24 423.45L1267.7 423.79L1269.16 424.12L1270.62 424.45L1272.09 424.78L1273.55 425.11L1275.02 425.43L1276.49 425.75L1277.95 426.06L1279.42 426.37L1280.89 426.68L1282.36 426.99L1283.83 427.29L1285.31 427.59L1286.78 427.89L1288.25 428.18L1289.73 428.47L1291.2 428.76L1292.68 429.04L1294.16 429.33L1295.63 429.61L1297.11 429.88L1298.59 430.16L1300.07 430.43L1301.55 430.69L1303.03 430.96L1304.52 431.22L1306 431.48L1307.48 431.74L1308.97 431.99L1310.45 432.25L1311.94 432.49L1313.42 432.74L1314.91 432.99L1316.4 433.23L1317.89 433.47L1319.38 433.7L1320.87 433.94L1322.36 434.17L1323.85 434.4L1325.34 434.63L1326.83 434.85L1328.32 435.07L1329.81 435.29L1331.31 435.51L1332.8 435.73L1334.3 435.94L1335.79 436.15L1337.29 436.36L1338.78 436.56L1340.28 436.77L1341.78 436.97L1343.27 437.17L1344.77 437.37L1346.27 437.56L1347.77 437.76L1349.27 437.95L1350.77 438.14L1352.27 438.33L1353.77 438.51L1355.27 438.7L1356.77 438.88L1358.27 439.06L1359.77 439.24L1361.27 439.41L1362.78 439.59L1364.28 439.76L1365.78 439.93L1367.29 440.1L1368.79 440.27L1370.29 440.44L1371.8 440.6L1373.3 440.76L1374.81 440.92L1376.31 441.08L1377.82 441.24L1379.32 441.4L1380.83 441.55L1382.33 441.7L1383.84 441.85L1385.35 442L1386.85 442.15L1388.36 442.3L1389.87 442.45L1391.37 442.59L1392.88 442.73L1394.39 442.87L1395.89 443.02L1397.4 443.15L1398.91 443.29L1400.42 443.43L1401.92 443.56L1403.43 443.7L1404.94 443.83L1406.45 443.96L1407.95 444.09L1409.46 444.22L1410.97 444.35L1412.48 444.48L1413.98 444.6L1415.49 444.73L1417 444.85L1418.51 444.98L1420.01 445.1L1421.52 445.22L1423.03 445.34L1424.53 445.46L1426.04 445.58L1427.55 445.7L1429.06 445.82L1430.56 445.93L1432.07 446.05L1433.58 446.16L1435.08 446.28L1436.59 446.39L1438.09 446.5L1439.6 446.62L1441.11 446.73L1442.61 446.84L1444.12 446.95L1445.62 447.06L1447.13 447.17L1448.63 447.28L1450.13 447.38L1451.64 447.49L1453.14 447.6L1454.65 447.71L1456.15 447.81L1457.65 447.92L1459.15 448.02L1460.66 448.13L1462.16 448.24L1463.66 448.34L1465.16 448.44L1466.66 448.55L1468.16 448.65L1469.66 448.76L1471.16 448.86L1472.66 448.96L1474.16 449.07L1475.66 449.17L1477.15 449.28L1478.65 449.38L1480.15 449.48L1481.65 449.59L1483.14 449.69L1484.64 449.79L1486.13 449.9L1487.63 450L1489.12 450.1L1490.61 450.21L1492.11 450.31L1493.6 450.41L1495.09 450.52L1496.58 450.62L1498.07 450.73L1499.56 450.83L1501.05 450.94L1502.54 451.04L1504.03 451.15L1505.52 451.26L1507 451.36L1508.49 451.47L1509.98 451.58L1511.46 451.68L1512.95 451.79L1514.43 451.9L1515.91 452.01L1517.39 452.12L1518.88 452.23L1520.36 452.34L1521.84 452.46L1523.32 452.57L1524.79 452.68L1526.27 452.79L1527.75 452.91L1529.23 453.02L1530.7 453.14L1532.18 453.26L1533.65 453.37L1535.12 453.49L1536.59 453.61L1538.07 453.73L1539.54 453.85L1541.01 453.97L1542.47 454.1L1543.94 454.22L1545.41 454.35L1546.88 454.47L1548.34 454.6L1549.8 454.73L1551.27 454.86L1552.73 454.99L1554.19 455.12L1555.65 455.25L1557.11 455.38L1558.57 455.52L1560.03 455.65L1561.48 455.79L1562.94 455.93L1564.39 456.07L1565.85 456.21L1567.3 456.35L1568.75 456.49L1570.2 456.64L1571.65 456.78L1573.1 456.93L1574.54 457.08L1575.99 457.23L1577.43 457.38L1578.88 457.54L1580.32 457.69L1581.76 457.85" style="stroke:#4ddbc9;stroke-width:1.8;fill:none;"/>
<path d="M1035.15 261.22L1035.5 262.78L1035.86 264.33L1036.23 265.87L1036.61 267.42L1037 268.95L1037.41 270.48L1037.82 272.01L1038.25 273.52L1038.69 275.04L1039.13 276.55L1039.59 278.05L1040.06 279.55L1040.55 281.04L1041.04 282.53L1041.54 284.01L1042.05 285.48L1042.58 286.95L1043.11 288.42L1043.65 289.87L1044.21 291.33L1044.77 292.77L1045.35 294.21L1045.93 295.65L1046.53 297.07L1047.14 298.49L1047.75 299.91L1048.38 301.32L1049.01 302.72L1049.66 304.12L1050.32 305.51L1050.98 306.89L1051.66 308.27L1052.34 309.64L1053.03 311.01L1053.74 312.36L1054.45 313.71L1055.17 315.06L1055.91 316.4L1056.65 317.73L1057.4 319.05L1058.16 320.37L1058.93 321.68L1059.7 322.98L1060.49 324.28L1061.29 325.57L1062.09 326.85L1062.9 328.13L1063.73 329.39L1064.56 330.65L1065.4 331.91L1066.24 333.15L1067.1 334.39L1067.97 335.62L1068.84 336.85L1069.72 338.06L1070.61 339.27L1071.51 340.47L1072.42 341.66L1073.33 342.85L1074.25 344.03L1075.19 345.2L1076.12 346.36L1077.07 347.52L1078.03 348.66L1078.99 349.8L1079.96 350.94L1080.94 352.06L1081.92 353.18L1082.91 354.28L1083.91 355.38L1084.92 356.48L1085.94 357.56L1086.96 358.64L1087.99 359.71L1089.03 360.77L1090.07 361.82L1091.12 362.86L1092.18 363.9L1093.25 364.93L1094.32 365.95L1095.4 366.96L1096.48 367.96L1097.58 368.96L1098.68 369.95L1099.78 370.93L1100.89 371.9L1102.01 372.86L1103.14 373.81L1104.27 374.76L1105.41 375.69L1106.55 376.62L1107.7 377.54L1108.86 378.45L1110.02 379.35L1111.19 380.25L1112.37 381.13L1113.55 382.01L1114.74 382.88L1115.93 383.74L1117.13 384.59L1118.33 385.43L1119.54 386.26L1120.76 387.09L1121.98 387.91L1123.2 388.71L1124.43 389.51L1125.67 390.3L1126.91 391.09L1128.16 391.86L1129.41 392.62L1130.67 393.38L1131.94 394.13L1133.2 394.87L1134.48 395.61L1135.75 396.33L1137.04 397.05L1138.32 397.76L1139.62 398.46L1140.91 399.16L1142.22 399.85L1143.52 400.53L1144.83 401.2L1146.15 401.87L1147.47 402.52L1148.79 403.17L1150.12 403.82L1151.45 404.45L1152.79 405.08L1154.13 405.71L1155.47 406.32L1156.82 406.93L1158.17 407.53L1159.53 408.13L1160.89 408.72L1162.25 409.3L1163.62 409.87L1164.99 410.44L1166.36 411.01L1167.74 411.56L1169.12 412.11L1170.51 412.66L1171.9 413.19L1173.29 413.73L1174.68 414.25L1176.08 414.77L1177.48 415.29L1178.88 415.79L1180.29 416.3L1181.7 416.79L1183.11 417.28L1184.53 417.77L1185.95 418.25L1187.37 418.73L1188.79 419.2L1190.22 419.66L1191.65 420.12L1193.08 420.57L1194.51 421.02L1195.95 421.47L1197.39 421.9L1198.83 422.34L1200.27 422.77L1201.71 423.19L1203.16 423.61L1204.61 424.03L1206.06 424.44L1207.51 424.84L1208.97 425.24L1210.42 425.64L1211.88 426.03L1213.34 426.42L1214.8 426.81L1216.26 427.19L1217.73 427.56L1219.19 427.94L1220.66 428.3L1222.13 428.67L1223.6 429.03L1225.07 429.39L1226.54 429.74L1228.02 430.09L1229.49 430.44L1230.96 430.78L1232.44 431.12L1233.92 431.46L1235.39 431.79L1236.87 432.12L1238.35 432.44L1239.83 432.77L1241.31 433.09L1242.79 433.41L1244.27 433.72L1245.75 434.03L1247.24 434.34L1248.72 434.65L1250.2 434.95L1251.69 435.25L1253.17 435.55L1254.65 435.84L1256.14 436.13L1257.62 436.42L1259.11 436.71L1260.6 436.99L1262.08 437.27L1263.57 437.55L1265.06 437.83L1266.55 438.1L1268.04 438.37L1269.52 438.64L1271.01 438.9L1272.5 439.16L1273.99 439.42L1275.48 439.68L1276.98 439.94L1278.47 440.19L1279.96 440.44L1281.45 440.68L1282.94 440.93L1284.44 441.17L1285.93 441.41L1287.42 441.65L1288.92 441.88L1290.41 442.12L1291.91 442.35L1293.4 442.57L1294.9 442.8L1296.39 443.02L1297.89 443.24L1299.39 443.46L1300.88 443.68L1302.38 443.89L1303.88 444.11L1305.38 444.32L1306.87 444.52L1308.37 444.73L1309.87 444.93L1311.37 445.14L1312.87 445.33L1314.37 445.53L1315.87 445.73L1317.37 445.92L1318.87 446.11L1320.37 446.3L1321.87 446.49L1323.37 446.67L1324.87 446.86L1326.37 447.04L1327.87 447.22L1329.37 447.4L1330.88 447.57L1332.38 447.75L1333.88 447.92L1335.38 448.09L1336.89 448.26L1338.39 448.42L1339.89 448.59L1341.4 448.75L1342.9 448.91L1344.4 449.07L1345.91 449.23L1347.41 449.39L1348.91 449.54L1350.42 449.7L1351.92 449.85L1353.43 450L1354.93 450.15L1356.44 450.3L1357.94 450.44L1359.45 450.59L1360.95 450.73L1362.46 450.87L1363.96 451.01L1365.47 451.15L1366.97 451.28L1368.48 451.42L1369.98 451.55L1371.49 451.69L1372.99 451.82L1374.5 451.95L1376.01 452.08L1377.51 452.2L1379.02 452.33L1380.52 452.45L1382.03 452.58L1383.54 452.7L1385.04 452.82L1386.55 452.94L1388.05 453.06L1389.56 453.18L1391.07 453.3L1392.57 453.41L1394.08 453.53L1395.58 453.64L1397.09 453.75L1398.6 453.86L1400.1 453.97L1401.61 454.08L1403.11 454.19L1404.62 454.3L1406.12 454.41L1407.63 454.51L1409.14 454.62L1410.64 454.72L1412.15 454.82L1413.65 454.92L1415.16 455.03L1416.66 455.13L1418.17 455.23L1419.67 455.33L1421.18 455.42L1422.68 455.52L1424.19 455.62L1425.69 455.71L1427.2 455.81L1428.7 455.91L1430.2 456L1431.71 456.09L1433.21 456.19L1434.71 456.28L1436.22 456.37L1437.72 456.46L1439.22 456.55L1440.73 456.64L1442.23 456.73L1443.73 456.82L1445.24 456.91L1446.74 457L1448.24 457.09L1449.74 457.18L1451.24 457.26L1452.74 457.35L1454.25 457.44L1455.75 457.52L1457.25 457.61L1458.75 457.69L1460.25 457.78L1461.75 457.87L1463.25 457.95L1464.75 458.04L1466.25 458.12L1467.74 458.2L1469.24 458.29L1470.74 458.37L1472.24 458.46L1473.74 458.54L1475.23 458.62L1476.73 458.71L1478.23 458.79L1479.73 458.88L1481.22 458.96L1482.72 459.04L1484.21 459.13L1485.71 459.21L1487.2 459.3L1488.7 459.38L1490.19 459.46L1491.69 459.55L1493.18 459.63L1494.67 459.72L1496.16 459.8L1497.66 459.89L1499.15 459.97L1500.64 460.06L1502.13 460.14L1503.62 460.23L1505.11 460.32L1506.6 460.4L1508.09 460.49L1509.58 460.58L1511.07 460.67L1512.56 460.75L1514.05 460.84L1515.53 460.93L1517.02 461.02L1518.51 461.11L1519.99 461.2L1521.48 461.29L1522.96 461.38L1524.45 461.48L1525.93 461.57L1527.42 461.66L1528.9 461.75L1530.38 461.85L1531.86 461.94L1533.35 462.04L1534.83 462.14L1536.31 462.23L1537.79 462.33L1539.27 462.43L1540.75 462.53L1542.23 462.63L1543.7 462.73L1545.18 462.83L1546.66 462.93L1548.13 463.04L1549.61 463.14L1551.09 463.24L1552.56 463.35L1554.03 463.46L1555.51 463.56L1556.98 463.67L1558.45 463.78L1559.93 463.89L1561.4 464.01L1562.87 464.12L1564.34 464.23L1565.81 464.35L1567.27 464.46L1568.74 464.58L1570.21 464.7L1571.68 464.82L1573.14 464.94L1574.61 465.06L1576.07 465.18L1577.54 465.3L1579 465.43L1580.46 465.56L1581.93 465.68" style="stroke:#4ddbc9;stroke-width:1.8;fill:none;stroke-dasharray:6.6 2.85;"/>
<path d="M1035.75 272.92L1035.98 271.41L1036.2 269.91L1036.41 268.4L1036.61 266.9L1036.79 265.4L1036.97 263.89L1037.14 262.39L1037.3 260.89L1037.45 259.39L1037.6 257.89L1037.74 256.4L1037.87 254.9L1038 253.4L1038.12 251.91L1038.24 250.41L1038.36 248.92L1038.48 247.42L1038.59 245.93L1038.7 244.44L1038.81 242.94L1038.92 241.45L1039.04 239.96L1039.15 238.47L1039.26 236.99L1039.38 235.5L1039.5 234.01L1039.63 232.52L1039.76 231.04L1039.89 229.55L1040.03 228.07L1040.18 226.58L1040.33 225.1L1040.49 223.62L1040.66 222.13L1040.84 220.65L1041.02 219.17L1041.22 217.69L1041.43 216.21L1041.65 214.73L1041.88 213.25L1042.12 211.77L1042.38 210.3L1042.65 208.82L1042.93 207.34L1043.23 205.87L1043.55 204.39L1043.88 202.92L1044.23 201.44L1044.6 199.97L1044.99 198.49L1045.4 197.02L1045.84 195.54L1046.31 194.06L1046.81 192.57L1047.35 191.07L1047.93 189.57L1048.54 188.06L1049.21 186.54L1049.92 185.01L1050.68 183.51L1051.5 182.08L1052.37 180.79L1053.3 179.68L1054.29 178.82L1055.34 178.24L1056.45 177.92L1057.6 177.85L1058.78 177.99L1059.97 178.32L1061.18 178.84L1062.39 179.5L1063.58 180.3L1064.76 181.2L1065.92 182.19L1067.06 183.25L1068.16 184.34L1069.23 185.46L1070.27 186.6L1071.28 187.76L1072.26 188.94L1073.21 190.13L1074.14 191.34L1075.04 192.56L1075.92 193.79L1076.78 195.04L1077.62 196.3L1078.44 197.57L1079.25 198.85L1080.04 200.13L1080.82 201.43L1081.58 202.73L1082.34 204.04L1083.09 205.35L1083.83 206.67L1084.57 207.98L1085.3 209.3L1086.03 210.62L1086.76 211.94L1087.49 213.26L1088.22 214.58L1088.95 215.9L1089.68 217.22L1090.41 218.54L1091.15 219.85L1091.88 221.17L1092.62 222.48L1093.35 223.79L1094.09 225.1L1094.83 226.41L1095.57 227.72L1096.31 229.03L1097.05 230.33L1097.8 231.64L1098.55 232.94L1099.3 234.24L1100.05 235.54L1100.8 236.84L1101.56 238.14L1102.31 239.43L1103.07 240.73L1103.84 242.02L1104.6 243.31L1105.37 244.6L1106.14 245.88L1106.91 247.17L1107.69 248.45L1108.47 249.73L1109.25 251.01L1110.04 252.28L1110.83 253.55L1111.62 254.83L1112.42 256.09L1113.22 257.36L1114.02 258.62L1114.83 259.89L1115.64 261.14L1116.46 262.4L1117.28 263.65L1118.1 264.9L1118.93 266.15L1119.77 267.4L1120.61 268.64L1121.45 269.88L1122.3 271.12L1123.15 272.35L1124.01 273.58L1124.87 274.81L1125.74 276.03L1126.61 277.25L1127.49 278.47L1128.38 279.68L1129.27 280.9L1130.16 282.1L1131.06 283.31L1131.97 284.51L1132.88 285.71L1133.8 286.9L1134.73 288.09L1135.66 289.28L1136.59 290.46L1137.53 291.64L1138.48 292.81L1139.43 293.98L1140.39 295.15L1141.35 296.31L1142.32 297.47L1143.3 298.63L1144.28 299.78L1145.26 300.92L1146.25 302.07L1147.25 303.21L1148.25 304.34L1149.26 305.47L1150.27 306.59L1151.28 307.71L1152.31 308.83L1153.33 309.94L1154.36 311.05L1155.4 312.15L1156.44 313.25L1157.49 314.34L1158.54 315.43L1159.6 316.51L1160.66 317.59L1161.73 318.66L1162.8 319.73L1163.88 320.79L1164.96 321.85L1166.04 322.9L1167.13 323.95L1168.23 324.99L1169.33 326.03L1170.43 327.06L1171.54 328.08L1172.66 329.1L1173.78 330.12L1174.9 331.13L1176.03 332.13L1177.16 333.13L1178.29 334.12L1179.43 335.11L1180.58 336.09L1181.73 337.06L1182.88 338.03L1184.04 338.99L1185.2 339.95L1186.37 340.9L1187.54 341.84L1188.71 342.78L1189.89 343.71L1191.08 344.64L1192.26 345.56L1193.45 346.47L1194.65 347.38L1195.85 348.28L1197.05 349.17L1198.26 350.06L1199.47 350.94L1200.68 351.81L1201.9 352.68L1203.12 353.54L1204.35 354.4L1205.58 355.25L1206.81 356.09L1208.05 356.93L1209.29 357.76L1210.53 358.58L1211.78 359.4L1213.03 360.21L1214.29 361.02L1215.54 361.82L1216.81 362.61L1218.07 363.4L1219.34 364.18L1220.61 364.96L1221.89 365.73L1223.17 366.5L1224.45 367.26L1225.73 368.01L1227.02 368.76L1228.31 369.5L1229.61 370.24L1230.91 370.97L1232.21 371.69L1233.51 372.41L1234.82 373.13L1236.13 373.84L1237.44 374.54L1238.76 375.24L1240.08 375.93L1241.4 376.62L1242.73 377.3L1244.06 377.98L1245.39 378.65L1246.72 379.32L1248.06 379.98L1249.4 380.64L1250.74 381.29L1252.08 381.93L1253.43 382.58L1254.78 383.21L1256.13 383.84L1257.49 384.47L1258.85 385.09L1260.21 385.71L1261.57 386.32L1262.94 386.93L1264.3 387.53L1265.67 388.13L1267.05 388.72L1268.42 389.31L1269.8 389.89L1271.18 390.47L1272.56 391.05L1273.95 391.62L1275.33 392.18L1276.72 392.74L1278.11 393.3L1279.51 393.85L1280.9 394.4L1282.3 394.94L1283.7 395.48L1285.1 396.02L1286.5 396.55L1287.91 397.08L1289.31 397.61L1290.72 398.13L1292.14 398.65L1293.55 399.16L1294.96 399.68L1296.38 400.19L1297.8 400.7L1299.22 401.2L1300.64 401.71L1302.06 402.21L1303.49 402.71L1304.92 403.21L1306.34 403.71L1307.77 404.21L1309.2 404.7L1310.64 405.2L1312.07 405.69L1313.51 406.19L1314.95 406.68L1316.38 407.17L1317.82 407.67L1319.27 408.16L1320.71 408.65L1322.15 409.14L1323.6 409.63L1325.04 410.12L1326.49 410.6L1327.94 411.07L1329.39 411.54L1330.84 412.01L1332.3 412.47L1333.75 412.92L1335.2 413.36L1336.66 413.8L1338.11 414.22L1339.57 414.64L1341.03 415.05L1342.49 415.45L1343.95 415.84L1345.41 416.23L1346.87 416.6L1348.33 416.98L1349.8 417.34L1351.26 417.7L1352.73 418.05L1354.19 418.39L1355.66 418.73L1357.12 419.07L1358.59 419.4L1360.06 419.72L1361.53 420.04L1363 420.35L1364.46 420.66L1365.93 420.97L1367.4 421.27L1368.87 421.57L1370.35 421.87L1371.82 422.16L1373.29 422.46L1374.76 422.75L1376.23 423.03L1377.7 423.32L1379.18 423.6L1380.65 423.88L1382.12 424.17L1383.59 424.45L1385.07 424.73L1386.54 425.01L1388.01 425.28L1389.48 425.56L1390.96 425.84L1392.43 426.11L1393.9 426.38L1395.38 426.66L1396.85 426.93L1398.33 427.2L1399.8 427.47L1401.27 427.74L1402.75 428.01L1404.22 428.27L1405.7 428.54L1407.17 428.8L1408.65 429.07L1410.12 429.33L1411.6 429.59L1413.08 429.85L1414.55 430.11L1416.03 430.37L1417.5 430.63L1418.98 430.88L1420.46 431.14L1421.93 431.39L1423.41 431.65L1424.89 431.9L1426.36 432.15L1427.84 432.4L1429.32 432.65L1430.8 432.9L1432.27 433.14L1433.75 433.39L1435.23 433.63L1436.71 433.88L1438.19 434.12L1439.67 434.36L1441.15 434.6L1442.63 434.84L1444.1 435.08L1445.58 435.32L1447.06 435.55L1448.54 435.79L1450.03 436.02L1451.51 436.25L1452.99 436.48L1454.47 436.71L1455.95 436.94L1457.43 437.17L1458.91 437.4L1460.39 437.62L1461.88 437.85L1463.36 438.07L1464.84 438.29L1466.32 438.51L1467.81 438.73L1469.29 438.95L1470.78 439.17L1472.26 439.39L1473.74 439.6L1475.23 439.82L1476.71 440.03L1478.2 440.24L1479.68 440.45L1481.17 440.66L1482.65 440.87L1484.14 441.08L1485.63 441.28L1487.11 441.49L1488.6 441.69L1490.09 441.89L1491.57 442.09L1493.06 442.29L1494.55 442.49L1496.04 442.69L1497.53 442.88L1499.01 443.08L1500.5 443.27L1501.99 443.46L1503.48 443.66L1504.97 443.85L1506.46 444.03L1507.95 444.22L1509.44 444.41L1510.93 444.59L1512.43 444.78L1513.92 444.96L1515.41 445.14L1516.9 445.32L1518.39 445.5L1519.89 445.68L1521.38 445.85L1522.87 446.03L1524.37 446.2L1525.86 446.37L1527.36 446.54L1528.85 446.71L1530.35 446.88L1531.84 447.05L1533.34 447.22L1534.83 447.38L1536.33 447.54L1537.83 447.71L1539.32 447.87L1540.82 448.03L1542.32 448.18L1543.82 448.34L1545.31 448.5L1546.81 448.65L1548.31 448.8L1549.81 448.95L1551.31 449.1L1552.81 449.25L1554.31 449.4L1555.81 449.55L1557.31 449.69L1558.82 449.83L1560.32 449.97L1561.82 450.12L1563.32 450.25L1564.83 450.39L1566.33 450.53L1567.83 450.66L1569.34 450.8L1570.84 450.93L1572.35 451.06L1573.85 451.19L1575.36 451.32L1576.86 451.45L1578.37 451.57L1579.88 451.7L1581.39 451.82L1582.89 451.94" style="stroke:#D81B60;stroke-width:2.3;fill:none;"/>
<path d="M1036.5 186.43L1037.05 187.88L1037.61 189.33L1038.17 190.78L1038.72 192.23L1039.28 193.68L1039.83 195.13L1040.38 196.58L1040.93 198.02L1041.48 199.47L1042.03 200.92L1042.58 202.36L1043.13 203.81L1043.67 205.25L1044.22 206.69L1044.77 208.14L1045.32 209.58L1045.86 211.02L1046.41 212.46L1046.96 213.9L1047.51 215.33L1048.06 216.77L1048.61 218.2L1049.16 219.63L1049.71 221.07L1050.27 222.5L1050.82 223.92L1051.38 225.35L1051.93 226.78L1052.49 228.2L1053.05 229.62L1053.62 231.04L1054.18 232.46L1054.75 233.88L1055.32 235.29L1055.89 236.7L1056.46 238.11L1057.04 239.52L1057.62 240.93L1058.2 242.33L1058.78 243.73L1059.37 245.13L1059.96 246.53L1060.55 247.92L1061.15 249.31L1061.75 250.7L1062.35 252.09L1062.96 253.47L1063.57 254.85L1064.19 256.23L1064.81 257.61L1065.43 258.98L1066.06 260.35L1066.69 261.71L1067.33 263.08L1067.97 264.44L1068.61 265.8L1069.26 267.15L1069.92 268.5L1070.58 269.85L1071.24 271.19L1071.91 272.53L1072.59 273.87L1073.27 275.21L1073.95 276.54L1074.64 277.86L1075.34 279.18L1076.04 280.5L1076.75 281.82L1077.46 283.13L1078.18 284.44L1078.9 285.74L1079.63 287.04L1080.37 288.34L1081.11 289.63L1081.86 290.92L1082.61 292.2L1083.37 293.48L1084.14 294.75L1084.91 296.02L1085.69 297.29L1086.48 298.55L1087.27 299.81L1088.07 301.06L1088.87 302.3L1089.69 303.55L1090.51 304.78L1091.34 306.02L1092.17 307.25L1093.01 308.47L1093.86 309.69L1094.72 310.9L1095.58 312.11L1096.45 313.31L1097.33 314.51L1098.22 315.7L1099.11 316.89L1100.02 318.07L1100.93 319.24L1101.85 320.42L1102.77 321.58L1103.71 322.74L1104.65 323.9L1105.6 325.04L1106.55 326.19L1107.52 327.33L1108.49 328.46L1109.47 329.59L1110.45 330.71L1111.44 331.82L1112.44 332.93L1113.45 334.04L1114.47 335.14L1115.49 336.23L1116.51 337.32L1117.55 338.4L1118.59 339.48L1119.64 340.55L1120.69 341.61L1121.75 342.67L1122.82 343.73L1123.89 344.78L1124.97 345.82L1126.06 346.86L1127.15 347.89L1128.25 348.91L1129.35 349.93L1130.46 350.95L1131.58 351.95L1132.7 352.96L1133.83 353.95L1134.96 354.94L1136.1 355.93L1137.25 356.91L1138.4 357.88L1139.55 358.85L1140.71 359.81L1141.88 360.76L1143.05 361.71L1144.23 362.66L1145.41 363.6L1146.59 364.53L1147.79 365.45L1148.98 366.37L1150.18 367.29L1151.39 368.19L1152.6 369.1L1153.82 369.99L1155.04 370.88L1156.26 371.76L1157.49 372.64L1158.72 373.51L1159.96 374.38L1161.2 375.24L1162.45 376.09L1163.7 376.94L1164.95 377.78L1166.21 378.61L1167.47 379.44L1168.73 380.26L1170 381.08L1171.28 381.89L1172.55 382.69L1173.83 383.49L1175.12 384.28L1176.4 385.07L1177.69 385.85L1178.99 386.62L1180.28 387.38L1181.58 388.14L1182.89 388.9L1184.19 389.65L1185.5 390.39L1186.81 391.12L1188.13 391.85L1189.45 392.57L1190.77 393.29L1192.09 393.99L1193.41 394.7L1194.74 395.39L1196.07 396.08L1197.4 396.76L1198.74 397.44L1200.08 398.11L1201.42 398.78L1202.76 399.43L1204.1 400.08L1205.45 400.73L1206.8 401.37L1208.15 402L1209.5 402.63L1210.86 403.25L1212.21 403.86L1213.57 404.47L1214.94 405.08L1216.3 405.67L1217.67 406.26L1219.04 406.85L1220.41 407.43L1221.78 408L1223.15 408.57L1224.53 409.13L1225.91 409.69L1227.29 410.24L1228.67 410.79L1230.06 411.33L1231.44 411.86L1232.83 412.39L1234.22 412.92L1235.62 413.44L1237.01 413.95L1238.41 414.46L1239.81 414.96L1241.21 415.46L1242.61 415.95L1244.01 416.44L1245.42 416.93L1246.83 417.4L1248.24 417.88L1249.65 418.35L1251.06 418.81L1252.47 419.27L1253.89 419.72L1255.31 420.17L1256.73 420.61L1258.15 421.05L1259.57 421.49L1261 421.92L1262.43 422.35L1263.85 422.77L1265.28 423.18L1266.72 423.6L1268.15 424L1269.58 424.41L1271.02 424.81L1272.46 425.2L1273.9 425.59L1275.34 425.98L1276.78 426.36L1278.22 426.74L1279.67 427.12L1281.12 427.49L1282.56 427.85L1284.01 428.22L1285.46 428.58L1286.92 428.93L1288.37 429.28L1289.82 429.63L1291.28 429.97L1292.74 430.31L1294.2 430.65L1295.66 430.98L1297.12 431.31L1298.58 431.64L1300.05 431.96L1301.51 432.28L1302.98 432.59L1304.45 432.91L1305.92 433.21L1307.39 433.52L1308.86 433.82L1310.33 434.12L1311.8 434.42L1313.28 434.71L1314.75 435L1316.23 435.29L1317.71 435.57L1319.19 435.85L1320.67 436.13L1322.15 436.4L1323.63 436.67L1325.11 436.94L1326.6 437.21L1328.08 437.47L1329.57 437.74L1331.05 437.99L1332.54 438.25L1334.03 438.5L1335.52 438.75L1337.01 439L1338.5 439.25L1339.99 439.49L1341.48 439.73L1342.98 439.97L1344.47 440.21L1345.97 440.44L1347.46 440.67L1348.96 440.9L1350.46 441.13L1351.96 441.36L1353.45 441.58L1354.95 441.8L1356.45 442.02L1357.95 442.24L1359.46 442.46L1360.96 442.67L1362.46 442.88L1363.96 443.09L1365.47 443.3L1366.97 443.51L1368.48 443.72L1369.98 443.92L1371.49 444.12L1372.99 444.33L1374.5 444.53L1376.01 444.72L1377.52 444.92L1379.02 445.12L1380.53 445.31L1382.04 445.5L1383.55 445.7L1385.06 445.89L1386.57 446.07L1388.08 446.26L1389.59 446.45L1391.1 446.64L1392.61 446.82L1394.13 447L1395.64 447.19L1397.15 447.37L1398.66 447.55L1400.18 447.73L1401.69 447.9L1403.2 448.08L1404.71 448.26L1406.23 448.43L1407.74 448.6L1409.25 448.78L1410.77 448.95L1412.28 449.12L1413.8 449.29L1415.31 449.46L1416.82 449.62L1418.34 449.79L1419.85 449.95L1421.37 450.12L1422.88 450.28L1424.39 450.45L1425.91 450.61L1427.42 450.77L1428.94 450.93L1430.45 451.09L1431.96 451.25L1433.48 451.4L1434.99 451.56L1436.5 451.72L1438.02 451.87L1439.53 452.02L1441.04 452.18L1442.55 452.33L1444.07 452.48L1445.58 452.63L1447.09 452.78L1448.6 452.93L1450.11 453.08L1451.62 453.23L1453.13 453.38L1454.64 453.52L1456.15 453.67L1457.66 453.82L1459.17 453.96L1460.68 454.11L1462.19 454.25L1463.7 454.39L1465.2 454.53L1466.71 454.68L1468.22 454.82L1469.72 454.96L1471.23 455.1L1472.73 455.24L1474.24 455.38L1475.74 455.52L1477.24 455.65L1478.75 455.79L1480.25 455.93L1481.75 456.07L1483.25 456.2L1484.75 456.34L1486.25 456.47L1487.75 456.61L1489.25 456.74L1490.74 456.88L1492.24 457.01L1493.74 457.14L1495.23 457.28L1496.73 457.41L1498.22 457.54L1499.71 457.68L1501.21 457.81L1502.7 457.94L1504.19 458.07L1505.68 458.2L1507.16 458.33L1508.65 458.46L1510.14 458.59L1511.62 458.72L1513.11 458.85L1514.59 458.98L1516.08 459.11L1517.56 459.24L1519.04 459.37L1520.52 459.5L1522 459.63L1523.48 459.76L1524.95 459.89L1526.43 460.02L1527.9 460.15L1529.38 460.27L1530.85 460.4L1532.32 460.53L1533.79 460.66L1535.26 460.79L1536.73 460.92L1538.19 461.05L1539.66 461.17L1541.12 461.3L1542.59 461.43L1544.05 461.56L1545.51 461.69L1546.97 461.82L1548.43 461.95L1549.88 462.08L1551.34 462.2L1552.79 462.33L1554.24 462.46L1555.69 462.59L1557.14 462.72L1558.59 462.85L1560.04 462.98L1561.48 463.11L1562.93 463.24L1564.37 463.37L1565.81 463.51L1567.25 463.64L1568.69 463.77L1570.13 463.9L1571.56 464.03L1572.99 464.16L1574.42 464.3L1575.85 464.43L1577.28 464.56L1578.71 464.7L1580.13 464.83L1581.56 464.97" style="stroke:#D81B60;stroke-width:2.3;fill:none;stroke-dasharray:8.5 3.7;"/>
<path d="M1051.3 318.6V378.4" class="eb"/>
<path d="M1046.2 318.6h10.2M1046.2 378.4h10.2" class="cap"/>
<path d="M1091.6 313.5V366.9" class="eb"/>
<path d="M1086.5 313.5h10.2M1086.5 366.9h10.2" class="cap"/>
<path d="M1127.4 248.3V333.6" class="eb"/>
<path d="M1122.3 248.3h10.2M1122.3 333.6h10.2" class="cap"/>
<path d="M1177.5 292.6V333.8" class="eb"/>
<path d="M1172.4 292.6h10.2M1172.4 333.8h10.2" class="cap"/>
<path d="M1279.4 333.8V360.9" class="eb"/>
<path d="M1274.3 333.8h10.2M1274.3 360.9h10.2" class="cap"/>
<path d="M1329.6 354.3V372.4" class="eb"/>
<path d="M1324.5 354.3h10.2M1324.5 372.4h10.2" class="cap"/>
<path d="M1380.4 369.6V382.4" class="eb"/>
<path d="M1375.3 369.6h10.2M1375.3 382.4h10.2" class="cap"/>
<path d="M1431.1 370.5V386.7" class="eb"/>
<path d="M1426 370.5h10.2M1426 386.7h10.2" class="cap"/>
<path d="M1481.9 419.9V429.1" class="eb"/>
<path d="M1476.8 419.9h10.2M1476.8 429.1h10.2" class="cap"/>
<path d="M1532.4 427.2V436" class="eb"/>
<path d="M1527.3 427.2h10.2M1527.3 436h10.2" class="cap"/>
<path d="M1582.8 419.9V437.6" class="eb"/>
<path d="M1577.7 419.9h10.2M1577.7 437.6h10.2" class="cap"/>
<path d="M1051.3 309.6V346.4" class="eb"/>
<path d="M1046.2 309.6h10.2M1046.2 346.4h10.2" class="cap"/>
<path d="M1091.6 277V344.3" class="eb"/>
<path d="M1086.5 277h10.2M1086.5 344.3h10.2" class="cap"/>
<path d="M1127.4 368.8V389.7" class="eb"/>
<path d="M1122.3 368.8h10.2M1122.3 389.7h10.2" class="cap"/>
<path d="M1177.5 392.9V408.2" class="eb"/>
<path d="M1172.4 392.9h10.2M1172.4 408.2h10.2" class="cap"/>
<path d="M1279.4 378.1V390.6" class="eb"/>
<path d="M1274.3 378.1h10.2M1274.3 390.6h10.2" class="cap"/>
<path d="M1051.3 343.8L1046.6 353.2L1056 353.2Z" class="mk"/>
<path d="M1091.6 335.5L1086.9 344.9L1096.3 344.9Z" class="mk"/>
<path d="M1127.4 286.3L1122.7 295.7L1132.1 295.7Z" class="mk"/>
<path d="M1177.5 308.5L1172.8 317.9L1182.2 317.9Z" class="mk"/>
<path d="M1279.4 342.7L1274.7 352.1L1284.1 352.1Z" class="mk"/>
<path d="M1329.6 358.65L1324.9 368.05L1334.3 368.05Z" class="mk"/>
<path d="M1380.4 371.3L1375.7 380.7L1385.1 380.7Z" class="mk"/>
<path d="M1431.1 373.9L1426.4 383.3L1435.8 383.3Z" class="mk"/>
<path d="M1481.9 419.8L1477.2 429.2L1486.6 429.2Z" class="mk"/>
<path d="M1532.4 426.9L1527.7 436.3L1537.1 436.3Z" class="mk"/>
<path d="M1582.8 424.05L1578.1 433.45L1587.5 433.45Z" class="mk"/>
<rect x="1046.6" y="323.3" width="9.4" height="9.4" class="mk"/>
<rect x="1086.9" y="305.95" width="9.4" height="9.4" class="mk"/>
<rect x="1122.7" y="374.6" width="9.4" height="9.4" class="mk"/>
<rect x="1172.8" y="395.9" width="9.4" height="9.4" class="mk"/>
<rect x="1274.7" y="379.6" width="9.4" height="9.4" class="mk"/>
<rect x="1324.9" y="387.8" width="9.4" height="9.4" class="mk"/>
<rect x="1375.7" y="394.5" width="9.4" height="9.4" class="mk"/>
<rect x="1426.4" y="407.5" width="9.4" height="9.4" class="mk"/>
<rect x="1477.2" y="452.1" width="9.4" height="9.4" class="mk"/>
<rect x="1527.7" y="458" width="9.4" height="9.4" class="mk"/>
<rect x="1578.1" y="461.4" width="9.4" height="9.4" class="mk"/>
<path d="M201.5 908.17L202.03 909.56L202.56 910.95L203.1 912.33L203.65 913.71L204.21 915.09L204.77 916.47L205.34 917.85L205.91 919.22L206.49 920.59L207.08 921.96L207.68 923.33L208.28 924.7L208.89 926.06L209.51 927.42L210.13 928.78L210.76 930.14L211.4 931.49L212.05 932.84L212.7 934.19L213.35 935.54L214.02 936.88L214.69 938.22L215.36 939.56L216.05 940.9L216.74 942.23L217.43 943.56L218.13 944.89L218.84 946.22L219.56 947.54L220.28 948.86L221.01 950.18L221.74 951.49L222.48 952.8L223.23 954.11L223.98 955.41L224.74 956.71L225.51 958.01L226.28 959.31L227.06 960.6L227.84 961.89L228.63 963.17L229.43 964.45L230.23 965.73L231.04 967L231.86 968.28L232.68 969.54L233.5 970.81L234.33 972.07L235.17 973.32L236.02 974.58L236.87 975.83L237.72 977.07L238.58 978.31L239.45 979.55L240.32 980.79L241.2 982.02L242.09 983.24L242.98 984.46L243.87 985.68L244.77 986.9L245.68 988.1L246.59 989.31L247.51 990.51L248.43 991.71L249.36 992.9L250.3 994.09L251.24 995.27L252.18 996.45L253.13 997.63L254.09 998.8L255.05 999.96L256.02 1001.12L256.99 1002.28L257.97 1003.43L258.95 1004.58L259.94 1005.72L260.93 1006.86L261.93 1007.99L262.93 1009.12L263.94 1010.24L264.96 1011.36L265.97 1012.47L267 1013.58L268.03 1014.69L269.06 1015.78L270.1 1016.88L271.14 1017.96L272.19 1019.05L273.25 1020.12L274.3 1021.19L275.37 1022.26L276.43 1023.32L277.51 1024.38L278.59 1025.43L279.67 1026.47L280.75 1027.51L281.85 1028.54L282.94 1029.57L284.04 1030.59L285.15 1031.61L286.26 1032.62L287.37 1033.62L288.49 1034.62L289.62 1035.61L290.75 1036.6L291.88 1037.58L293.02 1038.56L294.16 1039.53L295.3 1040.49L296.46 1041.45L297.61 1042.4L298.77 1043.34L299.93 1044.28L301.1 1045.21L302.27 1046.14L303.45 1047.05L304.63 1047.97L305.81 1048.87L307 1049.77L308.2 1050.67L309.39 1051.55L310.59 1052.43L311.8 1053.31L313.01 1054.17L314.22 1055.04L315.44 1055.89L316.66 1056.74L317.88 1057.58L319.11 1058.42L320.34 1059.25L321.58 1060.07L322.82 1060.89L324.06 1061.7L325.31 1062.5L326.56 1063.3L327.82 1064.09L329.08 1064.88L330.34 1065.66L331.6 1066.43L332.87 1067.2L334.14 1067.97L335.42 1068.72L336.7 1069.47L337.98 1070.22L339.27 1070.96L340.56 1071.69L341.85 1072.42L343.14 1073.14L344.44 1073.86L345.75 1074.57L347.05 1075.27L348.36 1075.97L349.67 1076.67L350.99 1077.36L352.3 1078.04L353.62 1078.72L354.95 1079.39L356.27 1080.05L357.6 1080.72L358.94 1081.37L360.27 1082.02L361.61 1082.67L362.95 1083.31L364.3 1083.94L365.64 1084.57L366.99 1085.2L368.34 1085.82L369.7 1086.43L371.06 1087.04L372.41 1087.64L373.78 1088.24L375.14 1088.84L376.51 1089.43L377.88 1090.01L379.25 1090.59L380.63 1091.16L382 1091.73L383.38 1092.3L384.76 1092.86L386.15 1093.41L387.53 1093.96L388.92 1094.51L390.31 1095.05L391.71 1095.58L393.1 1096.12L394.5 1096.64L395.9 1097.17L397.3 1097.68L398.7 1098.2L400.11 1098.71L401.51 1099.21L402.92 1099.71L404.34 1100.21L405.75 1100.7L407.16 1101.19L408.58 1101.67L410 1102.15L411.42 1102.62L412.84 1103.09L414.27 1103.56L415.69 1104.02L417.12 1104.48L418.55 1104.93L419.98 1105.38L421.41 1105.83L422.85 1106.27L424.28 1106.7L425.72 1107.14L427.16 1107.57L428.6 1107.99L430.04 1108.42L431.49 1108.83L432.93 1109.25L434.38 1109.66L435.83 1110.07L437.28 1110.47L438.73 1110.87L440.18 1111.27L441.63 1111.66L443.09 1112.05L444.54 1112.43L446 1112.81L447.46 1113.19L448.92 1113.57L450.38 1113.94L451.84 1114.31L453.3 1114.67L454.77 1115.03L456.23 1115.39L457.7 1115.74L459.16 1116.1L460.63 1116.44L462.1 1116.79L463.57 1117.13L465.04 1117.47L466.51 1117.8L467.99 1118.14L469.46 1118.47L470.93 1118.79L472.41 1119.12L473.88 1119.44L475.36 1119.75L476.84 1120.07L478.32 1120.38L479.79 1120.69L481.27 1121L482.75 1121.3L484.23 1121.6L485.71 1121.9L487.19 1122.19L488.68 1122.48L490.16 1122.77L491.64 1123.06L493.13 1123.35L494.61 1123.63L496.09 1123.91L497.58 1124.18L499.06 1124.46L500.55 1124.73L502.04 1125L503.52 1125.27L505.01 1125.53L506.5 1125.79L507.99 1126.05L509.48 1126.31L510.97 1126.57L512.46 1126.82L513.95 1127.07L515.44 1127.32L516.93 1127.56L518.42 1127.81L519.91 1128.05L521.4 1128.29L522.9 1128.53L524.39 1128.76L525.88 1128.99L527.38 1129.23L528.87 1129.45L530.36 1129.68L531.86 1129.91L533.35 1130.13L534.85 1130.35L536.34 1130.57L537.84 1130.79L539.33 1131L540.83 1131.22L542.33 1131.43L543.82 1131.64L545.32 1131.85L546.82 1132.06L548.31 1132.26L549.81 1132.46L551.31 1132.67L552.81 1132.87L554.3 1133.06L555.8 1133.26L557.3 1133.46L558.8 1133.65L560.29 1133.84L561.79 1134.03L563.29 1134.22L564.79 1134.41L566.29 1134.6L567.79 1134.78L569.28 1134.97L570.78 1135.15L572.28 1135.33L573.78 1135.51L575.28 1135.69L576.78 1135.87L578.28 1136.04L579.78 1136.22L581.27 1136.39L582.77 1136.56L584.27 1136.74L585.77 1136.91L587.27 1137.08L588.77 1137.24L590.26 1137.41L591.76 1137.58L593.26 1137.74L594.76 1137.91L596.26 1138.07L597.75 1138.23L599.25 1138.4L600.75 1138.56L602.25 1138.72L603.74 1138.88L605.24 1139.04L606.74 1139.19L608.23 1139.35L609.73 1139.51L611.22 1139.66L612.72 1139.82L614.22 1139.97L615.71 1140.13L617.21 1140.28L618.7 1140.43L620.19 1140.59L621.69 1140.74L623.18 1140.89L624.68 1141.04L626.17 1141.19L627.66 1141.34L629.15 1141.49L630.65 1141.64L632.14 1141.79L633.63 1141.94L635.12 1142.09L636.61 1142.23L638.1 1142.38L639.59 1142.53L641.08 1142.68L642.57 1142.82L644.06 1142.97L645.55 1143.12L647.03 1143.27L648.52 1143.41L650.01 1143.56L651.49 1143.71L652.98 1143.85L654.47 1144L655.95 1144.15L657.43 1144.3L658.92 1144.44L660.4 1144.59L661.88 1144.74L663.37 1144.89L664.85 1145.03L666.33 1145.18L667.81 1145.33L669.29 1145.48L670.77 1145.63L672.24 1145.78L673.72 1145.93L675.2 1146.08L676.68 1146.23L678.15 1146.38L679.63 1146.53L681.1 1146.68L682.57 1146.84L684.05 1146.99L685.52 1147.14L686.99 1147.3L688.46 1147.45L689.93 1147.61L691.4 1147.77L692.87 1147.92L694.34 1148.08L695.81 1148.24L697.27 1148.4L698.74 1148.56L700.2 1148.72L701.67 1148.88L703.13 1149.04L704.59 1149.2L706.05 1149.37L707.51 1149.53L708.97 1149.7L710.43 1149.87L711.89 1150.03" style="stroke:#4ddbc9;stroke-width:1.8;fill:none;"/>
<path d="M201.36 964.2L201.97 965.62L202.58 967.03L203.21 968.44L203.84 969.85L204.49 971.25L205.14 972.65L205.8 974.04L206.46 975.42L207.14 976.8L207.82 978.18L208.52 979.55L209.22 980.91L209.93 982.27L210.64 983.63L211.37 984.98L212.1 986.32L212.84 987.66L213.59 988.99L214.34 990.32L215.11 991.64L215.88 992.96L216.66 994.27L217.45 995.57L218.24 996.87L219.04 998.17L219.85 999.46L220.67 1000.74L221.49 1002.02L222.33 1003.29L223.16 1004.56L224.01 1005.82L224.86 1007.08L225.73 1008.33L226.59 1009.57L227.47 1010.81L228.35 1012.04L229.24 1013.27L230.14 1014.49L231.04 1015.7L231.95 1016.91L232.87 1018.12L233.79 1019.31L234.72 1020.5L235.66 1021.69L236.6 1022.87L237.55 1024.04L238.51 1025.21L239.47 1026.37L240.44 1027.53L241.42 1028.68L242.4 1029.82L243.39 1030.96L244.38 1032.09L245.39 1033.21L246.39 1034.33L247.41 1035.44L248.43 1036.55L249.45 1037.65L250.49 1038.74L251.53 1039.83L252.57 1040.91L253.62 1041.99L254.68 1043.06L255.74 1044.12L256.81 1045.17L257.88 1046.22L258.96 1047.26L260.04 1048.3L261.13 1049.33L262.23 1050.35L263.33 1051.37L264.44 1052.38L265.55 1053.38L266.67 1054.38L267.79 1055.37L268.92 1056.35L270.05 1057.33L271.19 1058.3L272.33 1059.26L273.48 1060.21L274.64 1061.16L275.8 1062.11L276.96 1063.04L278.13 1063.97L279.3 1064.89L280.48 1065.81L281.67 1066.72L282.85 1067.62L284.05 1068.52L285.25 1069.41L286.45 1070.29L287.65 1071.17L288.87 1072.03L290.08 1072.9L291.3 1073.75L292.53 1074.6L293.76 1075.45L294.99 1076.28L296.23 1077.11L297.47 1077.94L298.72 1078.76L299.97 1079.57L301.22 1080.37L302.48 1081.17L303.74 1081.96L305.01 1082.75L306.28 1083.53L307.55 1084.3L308.83 1085.07L310.11 1085.83L311.4 1086.58L312.69 1087.33L313.98 1088.07L315.28 1088.8L316.58 1089.53L317.88 1090.25L319.19 1090.97L320.5 1091.68L321.81 1092.38L323.13 1093.08L324.45 1093.77L325.77 1094.46L327.1 1095.14L328.43 1095.81L329.77 1096.48L331.1 1097.14L332.44 1097.8L333.78 1098.45L335.13 1099.09L336.48 1099.73L337.83 1100.36L339.18 1100.98L340.54 1101.6L341.9 1102.21L343.26 1102.82L344.63 1103.42L345.99 1104.02L347.36 1104.61L348.74 1105.19L350.11 1105.77L351.49 1106.34L352.87 1106.91L354.25 1107.47L355.63 1108.02L357.02 1108.57L358.41 1109.12L359.8 1109.65L361.19 1110.19L362.59 1110.71L363.99 1111.23L365.38 1111.75L366.79 1112.26L368.19 1112.76L369.59 1113.26L371 1113.75L372.41 1114.23L373.82 1114.72L375.23 1115.19L376.64 1115.66L378.06 1116.13L379.47 1116.58L380.89 1117.04L382.31 1117.49L383.73 1117.93L385.16 1118.37L386.58 1118.8L388.01 1119.23L389.44 1119.65L390.86 1120.07L392.3 1120.48L393.73 1120.89L395.16 1121.29L396.6 1121.69L398.03 1122.09L399.47 1122.48L400.91 1122.86L402.35 1123.24L403.8 1123.62L405.24 1123.99L406.68 1124.36L408.13 1124.72L409.58 1125.08L411.03 1125.43L412.48 1125.79L413.93 1126.13L415.38 1126.47L416.84 1126.81L418.29 1127.15L419.75 1127.48L421.21 1127.81L422.67 1128.13L424.13 1128.45L425.59 1128.77L427.05 1129.08L428.52 1129.39L429.98 1129.69L431.45 1129.99L432.92 1130.29L434.39 1130.59L435.86 1130.88L437.33 1131.17L438.8 1131.46L440.27 1131.74L441.75 1132.02L443.22 1132.3L444.7 1132.57L446.18 1132.84L447.65 1133.11L449.13 1133.38L450.61 1133.64L452.09 1133.9L453.58 1134.16L455.06 1134.41L456.54 1134.67L458.03 1134.92L459.51 1135.17L461 1135.41L462.49 1135.65L463.97 1135.9L465.46 1136.14L466.95 1136.37L468.44 1136.61L469.93 1136.84L471.43 1137.07L472.92 1137.3L474.41 1137.53L475.91 1137.76L477.4 1137.98L478.9 1138.2L480.39 1138.42L481.89 1138.64L483.39 1138.86L484.89 1139.08L486.38 1139.29L487.88 1139.51L489.38 1139.72L490.88 1139.93L492.38 1140.14L493.89 1140.34L495.39 1140.55L496.89 1140.76L498.39 1140.96L499.9 1141.16L501.4 1141.36L502.91 1141.56L504.41 1141.76L505.92 1141.95L507.42 1142.15L508.93 1142.34L510.44 1142.53L511.94 1142.72L513.45 1142.91L514.96 1143.1L516.47 1143.29L517.97 1143.48L519.48 1143.66L520.99 1143.84L522.5 1144.02L524.01 1144.21L525.52 1144.38L527.03 1144.56L528.54 1144.74L530.05 1144.92L531.56 1145.09L533.07 1145.26L534.58 1145.44L536.09 1145.61L537.61 1145.78L539.12 1145.95L540.63 1146.11L542.14 1146.28L543.65 1146.45L545.16 1146.61L546.68 1146.77L548.19 1146.94L549.7 1147.1L551.21 1147.26L552.72 1147.42L554.23 1147.57L555.75 1147.73L557.26 1147.89L558.77 1148.04L560.28 1148.2L561.79 1148.35L563.3 1148.5L564.82 1148.65L566.33 1148.8L567.84 1148.95L569.35 1149.1L570.86 1149.25L572.37 1149.4L573.88 1149.54L575.39 1149.69L576.9 1149.83L578.41 1149.98L579.92 1150.12L581.43 1150.26L582.94 1150.4L584.44 1150.54L585.95 1150.68L587.46 1150.82L588.97 1150.96L590.48 1151.09L591.98 1151.23L593.49 1151.37L594.99 1151.5L596.5 1151.64L598 1151.77L599.51 1151.9L601.01 1152.03L602.52 1152.17L604.02 1152.3L605.52 1152.43L607.03 1152.56L608.53 1152.69L610.03 1152.81L611.53 1152.94L613.03 1153.07L614.53 1153.2L616.03 1153.32L617.53 1153.45L619.02 1153.57L620.52 1153.7L622.02 1153.82L623.51 1153.95L625.01 1154.07L626.5 1154.19L627.99 1154.31L629.49 1154.44L630.98 1154.56L632.47 1154.68L633.96 1154.8L635.45 1154.92L636.94 1155.04L638.43 1155.16L639.92 1155.27L641.4 1155.39L642.89 1155.51L644.37 1155.63L645.86 1155.75L647.34 1155.86L648.82 1155.98L650.3 1156.1L651.78 1156.21L653.26 1156.33L654.74 1156.44L656.22 1156.56L657.69 1156.68L659.17 1156.79L660.64 1156.9L662.12 1157.02L663.59 1157.13L665.06 1157.25L666.53 1157.36L668 1157.48L669.47 1157.59L670.93 1157.7L672.4 1157.82L673.86 1157.93L675.33 1158.04L676.79 1158.16L678.25 1158.27L679.71 1158.38L681.17 1158.49L682.62 1158.61L684.08 1158.72L685.54 1158.83L686.99 1158.94L688.44 1159.06L689.89 1159.17L691.34 1159.28L692.79 1159.39L694.24 1159.51L695.68 1159.62L697.13 1159.73L698.57 1159.85L700.01 1159.96L701.45 1160.07L702.89 1160.19L704.32 1160.3L705.76 1160.41L707.19 1160.53L708.63 1160.64L710.06 1160.75L711.49 1160.87" style="stroke:#4ddbc9;stroke-width:1.8;fill:none;stroke-dasharray:6.6 2.85;"/>
<path d="M201.91 966.7L203.31 965.07L204.7 963.67L206.08 962.49L207.45 961.51L208.8 960.73L210.14 960.13L211.47 959.71L212.79 959.45L214.1 959.34L215.4 959.38L216.69 959.56L217.97 959.85L219.24 960.26L220.5 960.78L221.75 961.38L223 962.07L224.23 962.83L225.45 963.66L226.67 964.53L227.88 965.45L229.09 966.39L230.28 967.36L231.47 968.34L232.65 969.32L233.83 970.31L235 971.29L236.16 972.28L237.32 973.27L238.47 974.25L239.62 975.24L240.76 976.24L241.9 977.23L243.04 978.22L244.17 979.21L245.3 980.21L246.42 981.2L247.54 982.2L248.66 983.19L249.77 984.19L250.89 985.19L252 986.18L253.11 987.18L254.22 988.18L255.32 989.17L256.43 990.17L257.53 991.17L258.64 992.16L259.74 993.16L260.84 994.15L261.95 995.15L263.05 996.14L264.16 997.13L265.27 998.13L266.37 999.12L267.48 1000.11L268.6 1001.1L269.71 1002.09L270.83 1003.07L271.95 1004.06L273.07 1005.04L274.19 1006.03L275.32 1007.01L276.45 1007.99L277.59 1008.96L278.72 1009.94L279.86 1010.91L281.01 1011.88L282.15 1012.85L283.3 1013.82L284.45 1014.79L285.61 1015.75L286.76 1016.71L287.93 1017.67L289.09 1018.63L290.25 1019.58L291.42 1020.53L292.59 1021.48L293.77 1022.42L294.95 1023.36L296.13 1024.3L297.31 1025.23L298.5 1026.17L299.68 1027.1L300.88 1028.02L302.07 1028.94L303.27 1029.86L304.47 1030.77L305.67 1031.68L306.88 1032.59L308.08 1033.49L309.29 1034.39L310.51 1035.29L311.72 1036.18L312.94 1037.06L314.16 1037.95L315.39 1038.82L316.62 1039.7L317.85 1040.56L319.08 1041.43L320.31 1042.29L321.55 1043.14L322.79 1043.99L324.03 1044.83L325.28 1045.67L326.53 1046.51L327.78 1047.34L329.03 1048.16L330.29 1048.98L331.55 1049.79L332.81 1050.6L334.07 1051.41L335.34 1052.2L336.61 1053L337.88 1053.79L339.15 1054.57L340.43 1055.35L341.71 1056.13L342.99 1056.9L344.27 1057.66L345.56 1058.42L346.85 1059.18L348.14 1059.93L349.43 1060.67L350.73 1061.42L352.03 1062.15L353.33 1062.89L354.63 1063.61L355.93 1064.34L357.24 1065.05L358.55 1065.77L359.86 1066.48L361.18 1067.18L362.49 1067.88L363.81 1068.58L365.13 1069.27L366.46 1069.96L367.78 1070.64L369.11 1071.32L370.44 1071.99L371.77 1072.66L373.1 1073.32L374.44 1073.98L375.78 1074.64L377.12 1075.29L378.46 1075.94L379.8 1076.58L381.15 1077.22L382.5 1077.85L383.85 1078.48L385.2 1079.11L386.55 1079.73L387.91 1080.35L389.27 1080.96L390.63 1081.57L391.99 1082.18L393.35 1082.78L394.72 1083.38L396.08 1083.97L397.45 1084.56L398.82 1085.14L400.2 1085.72L401.57 1086.3L402.95 1086.87L404.33 1087.44L405.71 1088.01L407.09 1088.57L408.47 1089.13L409.86 1089.68L411.25 1090.23L412.64 1090.78L414.03 1091.32L415.42 1091.86L416.81 1092.39L418.21 1092.92L419.61 1093.45L421 1093.97L422.41 1094.49L423.81 1095.01L425.21 1095.52L426.62 1096.03L428.02 1096.53L429.43 1097.03L430.84 1097.53L432.25 1098.03L433.67 1098.52L435.08 1099L436.5 1099.49L437.92 1099.97L439.33 1100.44L440.75 1100.92L442.18 1101.39L443.6 1101.85L445.02 1102.32L446.45 1102.77L447.88 1103.23L449.31 1103.68L450.74 1104.13L452.17 1104.58L453.6 1105.02L455.03 1105.46L456.47 1105.9L457.91 1106.33L459.34 1106.76L460.78 1107.19L462.22 1107.61L463.66 1108.03L465.11 1108.45L466.55 1108.86L468 1109.27L469.44 1109.68L470.89 1110.09L472.34 1110.49L473.79 1110.89L475.24 1111.28L476.69 1111.67L478.14 1112.06L479.6 1112.45L481.05 1112.83L482.51 1113.21L483.96 1113.59L485.42 1113.97L486.88 1114.34L488.34 1114.71L489.8 1115.08L491.26 1115.44L492.73 1115.8L494.19 1116.16L495.65 1116.51L497.12 1116.87L498.59 1117.22L500.05 1117.56L501.52 1117.91L502.99 1118.25L504.46 1118.59L505.93 1118.93L507.4 1119.26L508.87 1119.59L510.35 1119.92L511.82 1120.25L513.29 1120.57L514.77 1120.89L516.24 1121.21L517.72 1121.53L519.2 1121.84L520.68 1122.15L522.15 1122.46L523.63 1122.77L525.11 1123.07L526.59 1123.38L528.07 1123.67L529.56 1123.97L531.04 1124.27L532.52 1124.56L534 1124.85L535.49 1125.14L536.97 1125.42L538.46 1125.71L539.94 1125.99L541.43 1126.27L542.91 1126.55L544.4 1126.82L545.89 1127.09L547.37 1127.37L548.86 1127.63L550.35 1127.9L551.84 1128.17L553.33 1128.43L554.82 1128.69L556.31 1128.95L557.8 1129.2L559.29 1129.46L560.78 1129.71L562.27 1129.96L563.76 1130.21L565.25 1130.46L566.74 1130.7L568.23 1130.95L569.72 1131.19L571.22 1131.43L572.71 1131.67L574.2 1131.9L575.69 1132.14L577.19 1132.37L578.68 1132.6L580.17 1132.83L581.66 1133.06L583.16 1133.29L584.65 1133.51L586.14 1133.73L587.64 1133.95L589.13 1134.17L590.62 1134.39L592.12 1134.61L593.61 1134.82L595.1 1135.04L596.6 1135.25L598.09 1135.46L599.58 1135.67L601.07 1135.88L602.57 1136.08L604.06 1136.29L605.55 1136.49L607.04 1136.7L608.54 1136.9L610.03 1137.1L611.52 1137.29L613.01 1137.49L614.5 1137.69L615.99 1137.88L617.49 1138.08L618.98 1138.27L620.47 1138.46L621.96 1138.65L623.45 1138.84L624.94 1139.03L626.43 1139.21L627.91 1139.4L629.4 1139.58L630.89 1139.76L632.38 1139.95L633.87 1140.13L635.35 1140.31L636.84 1140.49L638.33 1140.67L639.81 1140.84L641.3 1141.02L642.78 1141.19L644.26 1141.37L645.75 1141.54L647.23 1141.72L648.71 1141.89L650.2 1142.06L651.68 1142.23L653.16 1142.4L654.64 1142.57L656.12 1142.74L657.6 1142.9L659.08 1143.07L660.55 1143.24L662.03 1143.4L663.51 1143.57L664.98 1143.73L666.46 1143.9L667.93 1144.06L669.41 1144.22L670.88 1144.38L672.35 1144.54L673.82 1144.71L675.29 1144.87L676.76 1145.03L678.23 1145.19L679.7 1145.34L681.17 1145.5L682.63 1145.66L684.1 1145.82L685.56 1145.98L687.03 1146.13L688.49 1146.29L689.95 1146.45L691.41 1146.6L692.87 1146.76L694.33 1146.91L695.79 1147.07L697.24 1147.23L698.7 1147.38L700.15 1147.54L701.61 1147.69L703.06 1147.84L704.51 1148L705.96 1148.15L707.41 1148.31L708.86 1148.46L710.31 1148.62L711.75 1148.77" style="stroke:#D81B60;stroke-width:2.3;fill:none;"/>
<path d="M201.27 990.19L202.2 991.39L203.13 992.59L204.06 993.79L205 994.98L205.94 996.17L206.88 997.35L207.83 998.53L208.78 999.71L209.73 1000.89L210.69 1002.06L211.65 1003.23L212.61 1004.4L213.57 1005.56L214.54 1006.72L215.52 1007.87L216.49 1009.02L217.47 1010.17L218.46 1011.31L219.44 1012.45L220.44 1013.59L221.43 1014.72L222.43 1015.85L223.43 1016.97L224.44 1018.09L225.45 1019.21L226.46 1020.32L227.48 1021.43L228.5 1022.53L229.52 1023.63L230.55 1024.73L231.59 1025.82L232.63 1026.91L233.67 1027.99L234.71 1029.07L235.76 1030.14L236.82 1031.21L237.88 1032.27L238.94 1033.33L240.01 1034.39L241.08 1035.44L242.16 1036.48L243.24 1037.52L244.32 1038.56L245.41 1039.59L246.51 1040.61L247.61 1041.63L248.71 1042.65L249.82 1043.66L250.93 1044.67L252.05 1045.67L253.18 1046.66L254.3 1047.65L255.44 1048.64L256.57 1049.62L257.72 1050.59L258.87 1051.56L260.02 1052.52L261.18 1053.48L262.34 1054.43L263.51 1055.38L264.68 1056.32L265.85 1057.26L267.03 1058.19L268.22 1059.11L269.41 1060.03L270.61 1060.94L271.81 1061.85L273.01 1062.76L274.22 1063.65L275.43 1064.55L276.65 1065.43L277.87 1066.31L279.09 1067.19L280.32 1068.06L281.55 1068.92L282.79 1069.78L284.03 1070.64L285.28 1071.48L286.53 1072.33L287.78 1073.16L289.04 1074L290.3 1074.82L291.56 1075.64L292.83 1076.46L294.1 1077.27L295.38 1078.07L296.66 1078.87L297.94 1079.66L299.23 1080.45L300.51 1081.23L301.81 1082L303.1 1082.77L304.4 1083.54L305.7 1084.29L307.01 1085.05L308.32 1085.8L309.63 1086.54L310.95 1087.27L312.26 1088L313.58 1088.73L314.91 1089.45L316.24 1090.16L317.56 1090.87L318.9 1091.57L320.23 1092.27L321.57 1092.96L322.91 1093.64L324.25 1094.32L325.6 1094.99L326.95 1095.66L328.3 1096.32L329.65 1096.98L331 1097.63L332.36 1098.27L333.72 1098.91L335.08 1099.55L336.45 1100.17L337.81 1100.79L339.18 1101.41L340.55 1102.02L341.92 1102.62L343.3 1103.22L344.68 1103.81L346.05 1104.4L347.43 1104.98L348.82 1105.56L350.2 1106.13L351.58 1106.69L352.97 1107.25L354.36 1107.8L355.75 1108.35L357.14 1108.89L358.53 1109.42L359.93 1109.95L361.33 1110.47L362.72 1110.99L364.12 1111.51L365.53 1112.01L366.93 1112.52L368.33 1113.01L369.74 1113.51L371.15 1113.99L372.56 1114.47L373.97 1114.95L375.38 1115.42L376.79 1115.89L378.21 1116.35L379.62 1116.81L381.04 1117.26L382.46 1117.71L383.88 1118.15L385.3 1118.59L386.73 1119.02L388.15 1119.45L389.58 1119.88L391.01 1120.3L392.43 1120.71L393.86 1121.12L395.3 1121.53L396.73 1121.93L398.16 1122.33L399.6 1122.73L401.04 1123.12L402.47 1123.5L403.91 1123.88L405.35 1124.26L406.8 1124.64L408.24 1125.01L409.68 1125.37L411.13 1125.74L412.58 1126.1L414.02 1126.45L415.47 1126.8L416.92 1127.15L418.37 1127.5L419.83 1127.84L421.28 1128.18L422.74 1128.51L424.19 1128.84L425.65 1129.17L427.11 1129.5L428.57 1129.82L430.03 1130.14L431.49 1130.45L432.95 1130.76L434.41 1131.07L435.88 1131.38L437.34 1131.68L438.81 1131.98L440.28 1132.28L441.74 1132.58L443.21 1132.87L444.68 1133.16L446.15 1133.45L447.63 1133.73L449.1 1134.02L450.57 1134.3L452.05 1134.57L453.52 1134.85L455 1135.12L456.48 1135.39L457.95 1135.66L459.43 1135.93L460.91 1136.19L462.39 1136.46L463.87 1136.72L465.36 1136.98L466.84 1137.23L468.32 1137.49L469.81 1137.74L471.29 1137.99L472.78 1138.24L474.26 1138.49L475.75 1138.74L477.24 1138.98L478.73 1139.23L480.22 1139.47L481.71 1139.71L483.2 1139.95L484.69 1140.18L486.18 1140.42L487.67 1140.66L489.17 1140.89L490.66 1141.12L492.15 1141.35L493.65 1141.58L495.14 1141.81L496.64 1142.04L498.13 1142.26L499.63 1142.49L501.13 1142.71L502.63 1142.93L504.12 1143.15L505.62 1143.37L507.12 1143.59L508.62 1143.8L510.12 1144.02L511.62 1144.23L513.12 1144.44L514.63 1144.66L516.13 1144.86L517.63 1145.07L519.13 1145.28L520.63 1145.49L522.14 1145.69L523.64 1145.89L525.15 1146.09L526.65 1146.29L528.15 1146.49L529.66 1146.69L531.16 1146.89L532.67 1147.08L534.17 1147.28L535.68 1147.47L537.19 1147.66L538.69 1147.85L540.2 1148.04L541.71 1148.23L543.21 1148.42L544.72 1148.6L546.23 1148.78L547.73 1148.97L549.24 1149.15L550.75 1149.33L552.26 1149.51L553.76 1149.69L555.27 1149.86L556.78 1150.04L558.29 1150.21L559.8 1150.39L561.3 1150.56L562.81 1150.73L564.32 1150.9L565.83 1151.07L567.34 1151.24L568.85 1151.4L570.35 1151.57L571.86 1151.73L573.37 1151.89L574.88 1152.05L576.39 1152.21L577.89 1152.37L579.4 1152.53L580.91 1152.69L582.42 1152.85L583.92 1153L585.43 1153.15L586.94 1153.31L588.45 1153.46L589.95 1153.61L591.46 1153.76L592.97 1153.9L594.47 1154.05L595.98 1154.2L597.48 1154.34L598.99 1154.49L600.5 1154.63L602 1154.77L603.51 1154.91L605.01 1155.05L606.51 1155.19L608.02 1155.33L609.52 1155.46L611.02 1155.6L612.53 1155.73L614.03 1155.86L615.53 1156L617.03 1156.13L618.54 1156.26L620.04 1156.39L621.54 1156.51L623.04 1156.64L624.54 1156.77L626.04 1156.89L627.54 1157.01L629.03 1157.14L630.53 1157.26L632.03 1157.38L633.53 1157.5L635.02 1157.62L636.52 1157.74L638.01 1157.85L639.51 1157.97L641 1158.08L642.5 1158.2L643.99 1158.31L645.48 1158.42L646.97 1158.53L648.47 1158.64L649.96 1158.75L651.45 1158.86L652.94 1158.97L654.42 1159.08L655.91 1159.18L657.4 1159.29L658.89 1159.39L660.37 1159.49L661.86 1159.59L663.34 1159.69L664.83 1159.79L666.31 1159.89L667.79 1159.99L669.27 1160.09L670.75 1160.19L672.23 1160.28L673.71 1160.38L675.19 1160.47L676.67 1160.56L678.14 1160.65L679.62 1160.75L681.1 1160.84L682.57 1160.92L684.04 1161.01L685.51 1161.1L686.99 1161.19L688.46 1161.27L689.93 1161.36L691.39 1161.44L692.86 1161.53L694.33 1161.61L695.79 1161.69L697.26 1161.77L698.72 1161.85L700.18 1161.93L701.65 1162.01L703.11 1162.09L704.57 1162.17L706.02 1162.24L707.48 1162.32L708.94 1162.39L710.39 1162.47L711.85 1162.54" style="stroke:#D81B60;stroke-width:2.3;fill:none;stroke-dasharray:8.5 3.7;"/>
<path d="M195.3 903.6V1005.6" class="eb"/>
<path d="M190.2 903.6h10.2M190.2 1005.6h10.2" class="cap"/>
<path d="M205.8 913.8V982.4" class="eb"/>
<path d="M200.7 913.8h10.2M200.7 982.4h10.2" class="cap"/>
<path d="M220.8 887.6V1000.6" class="eb"/>
<path d="M215.7 887.6h10.2M215.7 1000.6h10.2" class="cap"/>
<path d="M306.7 944.4V1013.9" class="eb"/>
<path d="M301.6 944.4h10.2M301.6 1013.9h10.2" class="cap"/>
<path d="M357.6 1063.5V1089.2" class="eb"/>
<path d="M352.5 1063.5h10.2M352.5 1089.2h10.2" class="cap"/>
<path d="M408.3 1078.6V1103.1" class="eb"/>
<path d="M403.2 1078.6h10.2M403.2 1103.1h10.2" class="cap"/>
<path d="M458.3 1099.1V1114.1" class="eb"/>
<path d="M453.2 1099.1h10.2M453.2 1114.1h10.2" class="cap"/>
<path d="M560 1130.2V1137.8" class="eb"/>
<path d="M554.9 1130.2h10.2M554.9 1137.8h10.2" class="cap"/>
<path d="M611.2 1125V1137" class="eb"/>
<path d="M606.1 1125h10.2M606.1 1137h10.2" class="cap"/>
<path d="M712.4 1134.4V1153.2" class="eb"/>
<path d="M707.3 1134.4h10.2M707.3 1153.2h10.2" class="cap"/>
<path d="M195.3 938.2V1013.5" class="eb"/>
<path d="M190.2 938.2h10.2M190.2 1013.5h10.2" class="cap"/>
<path d="M205.8 937.6V1008.4" class="eb"/>
<path d="M200.7 937.6h10.2M200.7 1008.4h10.2" class="cap"/>
<path d="M220.8 932.4V998.6" class="eb"/>
<path d="M215.7 932.4h10.2M215.7 998.6h10.2" class="cap"/>
<path d="M306.9 1131.5V1149.4" class="eb"/>
<path d="M301.8 1131.5h10.2M301.8 1149.4h10.2" class="cap"/>
<path d="M357.6 1120.3V1146.8" class="eb"/>
<path d="M352.5 1120.3h10.2M352.5 1146.8h10.2" class="cap"/>
<path d="M408.3 1127.1V1147.1" class="eb"/>
<path d="M403.2 1127.1h10.2M403.2 1147.1h10.2" class="cap"/>
<path d="M560 1138V1146.6" class="eb"/>
<path d="M554.9 1138h10.2M554.9 1146.6h10.2" class="cap"/>
<path d="M611.2 1143.5V1170.1" class="eb"/>
<path d="M606.1 1143.5h10.2M606.1 1170.1h10.2" class="cap"/>
<path d="M195.3 949.9L190.6 959.3L200 959.3Z" class="mk"/>
<path d="M205.8 943.4L201.1 952.8L210.5 952.8Z" class="mk"/>
<path d="M220.8 939.4L216.1 948.8L225.5 948.8Z" class="mk"/>
<path d="M306.7 974.5L302 983.9L311.4 983.9Z" class="mk"/>
<path d="M357.6 1071.7L352.9 1081.1L362.3 1081.1Z" class="mk"/>
<path d="M408.3 1086.2L403.6 1095.6L413 1095.6Z" class="mk"/>
<path d="M458.3 1101.9L453.6 1111.3L463 1111.3Z" class="mk"/>
<path d="M560 1129.3L555.3 1138.7L564.7 1138.7Z" class="mk"/>
<path d="M611.2 1126.3L606.5 1135.7L615.9 1135.7Z" class="mk"/>
<path d="M712.4 1139.1L707.7 1148.5L717.1 1148.5Z" class="mk"/>
<rect x="190.6" y="971.15" width="9.4" height="9.4" class="mk"/>
<rect x="201.1" y="968.3" width="9.4" height="9.4" class="mk"/>
<rect x="216.1" y="960.8" width="9.4" height="9.4" class="mk"/>
<rect x="302.2" y="1135.5" width="9.4" height="9.4" class="mk"/>
<rect x="352.9" y="1128.8" width="9.4" height="9.4" class="mk"/>
<rect x="403.6" y="1132.4" width="9.4" height="9.4" class="mk"/>
<rect x="453.6" y="1138.4" width="9.4" height="9.4" class="mk"/>
<rect x="555.3" y="1137.6" width="9.4" height="9.4" class="mk"/>
<rect x="606.5" y="1152.1" width="9.4" height="9.4" class="mk"/>
<rect x="707.7" y="1153.8" width="9.4" height="9.4" class="mk"/>
<path d="M1036.93 878.37L1037.11 879.85L1037.29 881.34L1037.48 882.83L1037.67 884.32L1037.87 885.81L1038.08 887.3L1038.29 888.79L1038.51 890.28L1038.74 891.78L1038.97 893.27L1039.21 894.76L1039.45 896.26L1039.7 897.75L1039.96 899.24L1040.22 900.74L1040.49 902.23L1040.77 903.72L1041.05 905.21L1041.34 906.7L1041.64 908.19L1041.94 909.68L1042.26 911.17L1042.57 912.66L1042.9 914.15L1043.23 915.63L1043.57 917.12L1043.91 918.6L1044.27 920.08L1044.63 921.56L1044.99 923.04L1045.37 924.52L1045.75 925.99L1046.14 927.47L1046.54 928.94L1046.94 930.41L1047.35 931.87L1047.77 933.34L1048.2 934.8L1048.63 936.26L1049.07 937.71L1049.52 939.17L1049.98 940.62L1050.44 942.07L1050.92 943.51L1051.4 944.95L1051.88 946.39L1052.38 947.83L1052.88 949.26L1053.4 950.69L1053.92 952.11L1054.44 953.53L1054.98 954.95L1055.52 956.36L1056.08 957.77L1056.64 959.18L1057.21 960.58L1057.78 961.97L1058.37 963.37L1058.96 964.75L1059.57 966.14L1060.18 967.51L1060.8 968.89L1061.43 970.26L1062.06 971.62L1062.71 972.98L1063.36 974.33L1064.03 975.68L1064.7 977.02L1065.38 978.36L1066.07 979.69L1066.77 981.01L1067.47 982.33L1068.19 983.65L1068.92 984.95L1069.65 986.25L1070.39 987.55L1071.15 988.84L1071.91 990.12L1072.68 991.4L1073.46 992.67L1074.25 993.93L1075.05 995.18L1075.86 996.43L1076.68 997.67L1077.51 998.91L1078.34 1000.14L1079.19 1001.36L1080.04 1002.57L1080.91 1003.78L1081.78 1004.98L1082.66 1006.17L1083.55 1007.36L1084.45 1008.54L1085.36 1009.71L1086.28 1010.88L1087.2 1012.04L1088.13 1013.19L1089.08 1014.34L1090.03 1015.48L1090.98 1016.61L1091.95 1017.74L1092.92 1018.85L1093.91 1019.97L1094.9 1021.07L1095.89 1022.17L1096.9 1023.26L1097.91 1024.35L1098.93 1025.42L1099.96 1026.49L1101 1027.56L1102.04 1028.62L1103.09 1029.67L1104.15 1030.71L1105.21 1031.75L1106.29 1032.78L1107.37 1033.81L1108.45 1034.82L1109.54 1035.84L1110.64 1036.84L1111.75 1037.84L1112.86 1038.83L1113.98 1039.81L1115.11 1040.79L1116.24 1041.76L1117.38 1042.73L1118.52 1043.69L1119.68 1044.64L1120.83 1045.58L1122 1046.52L1123.17 1047.45L1124.34 1048.38L1125.52 1049.3L1126.71 1050.21L1127.9 1051.11L1129.1 1052.01L1130.3 1052.91L1131.51 1053.79L1132.72 1054.67L1133.94 1055.54L1135.17 1056.41L1136.4 1057.27L1137.63 1058.12L1138.87 1058.97L1140.12 1059.81L1141.37 1060.65L1142.62 1061.47L1143.88 1062.29L1145.15 1063.11L1146.41 1063.92L1147.69 1064.72L1148.97 1065.52L1150.25 1066.31L1151.53 1067.09L1152.82 1067.86L1154.12 1068.63L1155.42 1069.4L1156.72 1070.16L1158.02 1070.91L1159.33 1071.65L1160.65 1072.39L1161.96 1073.12L1163.29 1073.85L1164.61 1074.57L1165.94 1075.28L1167.27 1075.99L1168.6 1076.69L1169.94 1077.38L1171.28 1078.07L1172.63 1078.75L1173.97 1079.43L1175.32 1080.09L1176.68 1080.76L1178.03 1081.41L1179.39 1082.06L1180.75 1082.71L1182.11 1083.35L1183.48 1083.98L1184.85 1084.6L1186.22 1085.22L1187.59 1085.84L1188.97 1086.44L1190.34 1087.04L1191.72 1087.64L1193.1 1088.23L1194.49 1088.81L1195.87 1089.39L1197.26 1089.96L1198.65 1090.52L1200.04 1091.08L1201.43 1091.63L1202.82 1092.17L1204.22 1092.71L1205.61 1093.25L1207.01 1093.78L1208.41 1094.3L1209.81 1094.81L1211.21 1095.33L1212.61 1095.83L1214.02 1096.33L1215.43 1096.82L1216.83 1097.31L1218.24 1097.8L1219.65 1098.27L1221.07 1098.75L1222.48 1099.21L1223.89 1099.67L1225.31 1100.13L1226.73 1100.58L1228.15 1101.03L1229.57 1101.47L1230.99 1101.91L1232.41 1102.34L1233.84 1102.76L1235.26 1103.19L1236.69 1103.6L1238.12 1104.02L1239.55 1104.42L1240.98 1104.83L1242.41 1105.23L1243.84 1105.62L1245.28 1106.01L1246.71 1106.4L1248.15 1106.78L1249.59 1107.15L1251.03 1107.53L1252.47 1107.9L1253.91 1108.26L1255.35 1108.62L1256.8 1108.98L1258.24 1109.33L1259.69 1109.68L1261.14 1110.02L1262.58 1110.36L1264.03 1110.7L1265.48 1111.03L1266.94 1111.36L1268.39 1111.69L1269.84 1112.01L1271.3 1112.33L1272.75 1112.65L1274.21 1112.96L1275.67 1113.27L1277.13 1113.58L1278.59 1113.88L1280.05 1114.18L1281.51 1114.48L1282.97 1114.77L1284.44 1115.06L1285.9 1115.35L1287.37 1115.63L1288.83 1115.92L1290.3 1116.2L1291.77 1116.47L1293.24 1116.75L1294.71 1117.02L1296.18 1117.29L1297.65 1117.55L1299.13 1117.82L1300.6 1118.08L1302.07 1118.34L1303.55 1118.6L1305.03 1118.85L1306.5 1119.1L1307.98 1119.35L1309.46 1119.6L1310.94 1119.85L1312.42 1120.09L1313.9 1120.34L1315.38 1120.58L1316.86 1120.81L1318.34 1121.05L1319.83 1121.29L1321.31 1121.52L1322.8 1121.75L1324.28 1121.98L1325.77 1122.21L1327.26 1122.44L1328.74 1122.67L1330.23 1122.89L1331.72 1123.12L1333.21 1123.34L1334.7 1123.56L1336.19 1123.78L1337.68 1124L1339.17 1124.22L1340.66 1124.44L1342.16 1124.65L1343.65 1124.87L1345.14 1125.08L1346.64 1125.3L1348.13 1125.51L1349.63 1125.72L1351.12 1125.93L1352.62 1126.14L1354.12 1126.35L1355.61 1126.56L1357.11 1126.77L1358.61 1126.97L1360.11 1127.18L1361.61 1127.38L1363.11 1127.58L1364.6 1127.79L1366.1 1127.99L1367.61 1128.19L1369.11 1128.39L1370.61 1128.59L1372.11 1128.78L1373.61 1128.98L1375.11 1129.18L1376.61 1129.37L1378.12 1129.56L1379.62 1129.76L1381.12 1129.95L1382.63 1130.14L1384.13 1130.33L1385.63 1130.52L1387.14 1130.71L1388.64 1130.89L1390.15 1131.08L1391.65 1131.26L1393.16 1131.45L1394.66 1131.63L1396.17 1131.81L1397.67 1131.99L1399.18 1132.17L1400.68 1132.35L1402.19 1132.53L1403.69 1132.71L1405.2 1132.89L1406.71 1133.06L1408.21 1133.24L1409.72 1133.41L1411.23 1133.58L1412.73 1133.75L1414.24 1133.92L1415.74 1134.09L1417.25 1134.26L1418.76 1134.43L1420.26 1134.6L1421.77 1134.76L1423.28 1134.93L1424.78 1135.09L1426.29 1135.25L1427.8 1135.41L1429.3 1135.57L1430.81 1135.73L1432.31 1135.89L1433.82 1136.05L1435.33 1136.21L1436.83 1136.36L1438.34 1136.52L1439.84 1136.67L1441.35 1136.82L1442.85 1136.98L1444.36 1137.13L1445.86 1137.28L1447.37 1137.43L1448.87 1137.57L1450.37 1137.72L1451.88 1137.87L1453.38 1138.01L1454.89 1138.15L1456.39 1138.3L1457.89 1138.44L1459.39 1138.58L1460.9 1138.72L1462.4 1138.86L1463.9 1139L1465.4 1139.13L1466.9 1139.27L1468.4 1139.4L1469.9 1139.54L1471.4 1139.67L1472.9 1139.8L1474.4 1139.93L1475.9 1140.06L1477.4 1140.19L1478.9 1140.32L1480.4 1140.45L1481.89 1140.57L1483.39 1140.7L1484.89 1140.82L1486.38 1140.94L1487.88 1141.07L1489.37 1141.19L1490.87 1141.31L1492.36 1141.43L1493.86 1141.54L1495.35 1141.66L1496.84 1141.78L1498.33 1141.89L1499.82 1142L1501.31 1142.12L1502.8 1142.23L1504.29 1142.34L1505.78 1142.45L1507.27 1142.56L1508.76 1142.66L1510.25 1142.77L1511.73 1142.88L1513.22 1142.98L1514.7 1143.08L1516.19 1143.19L1517.67 1143.29L1519.15 1143.39L1520.64 1143.49L1522.12 1143.59L1523.6 1143.68L1525.08 1143.78L1526.56 1143.88L1528.04 1143.97L1529.51 1144.06L1530.99 1144.15L1532.47 1144.25L1533.94 1144.34L1535.42 1144.42L1536.89 1144.51L1538.37 1144.6L1539.84 1144.69L1541.31 1144.77L1542.78 1144.85L1544.25 1144.94L1545.72 1145.02L1547.19 1145.1L1548.65 1145.18L1550.12 1145.26L1551.58 1145.34L1553.05 1145.41L1554.51 1145.49L1555.97 1145.56L1557.43 1145.64L1558.89 1145.71L1560.35 1145.78L1561.81 1145.85L1563.27 1145.92L1564.73 1145.99L1566.18 1146.05L1567.64 1146.12L1569.09 1146.18L1570.54 1146.25L1571.99 1146.31L1573.44 1146.37L1574.89 1146.43L1576.34 1146.49L1577.78 1146.55L1579.23 1146.61L1580.67 1146.67L1582.12 1146.72" style="stroke:#4ddbc9;stroke-width:1.8;fill:none;"/>
<path d="M1036.8 884.17L1036.96 885.58L1037.11 887L1037.27 888.43L1037.44 889.86L1037.61 891.29L1037.78 892.72L1037.96 894.16L1038.15 895.6L1038.33 897.05L1038.53 898.49L1038.73 899.94L1038.93 901.4L1039.14 902.85L1039.35 904.31L1039.57 905.77L1039.79 907.23L1040.02 908.7L1040.25 910.17L1040.49 911.64L1040.73 913.11L1040.98 914.58L1041.24 916.05L1041.5 917.53L1041.76 919.01L1042.03 920.48L1042.31 921.96L1042.59 923.44L1042.88 924.93L1043.17 926.41L1043.47 927.89L1043.78 929.37L1044.09 930.86L1044.4 932.34L1044.73 933.83L1045.06 935.31L1045.39 936.8L1045.73 938.28L1046.08 939.76L1046.43 941.25L1046.79 942.73L1047.16 944.21L1047.53 945.69L1047.91 947.17L1048.3 948.65L1048.69 950.13L1049.09 951.61L1049.5 953.09L1049.91 954.56L1050.33 956.03L1050.76 957.51L1051.19 958.97L1051.63 960.44L1052.08 961.91L1052.53 963.37L1052.99 964.83L1053.46 966.29L1053.94 967.75L1054.42 969.2L1054.91 970.65L1055.41 972.1L1055.92 973.54L1056.43 974.98L1056.95 976.42L1057.48 977.86L1058.01 979.29L1058.56 980.72L1059.11 982.14L1059.67 983.56L1060.24 984.98L1060.81 986.39L1061.39 987.8L1061.98 989.21L1062.58 990.61L1063.19 992L1063.81 993.39L1064.43 994.78L1065.06 996.16L1065.7 997.54L1066.35 998.91L1067.01 1000.27L1067.67 1001.64L1068.35 1002.99L1069.03 1004.34L1069.72 1005.69L1070.42 1007.02L1071.13 1008.36L1071.85 1009.68L1072.58 1011L1073.31 1012.32L1074.06 1013.63L1074.81 1014.93L1075.57 1016.22L1076.34 1017.51L1077.12 1018.79L1077.92 1020.07L1078.71 1021.33L1079.52 1022.59L1080.34 1023.85L1081.17 1025.09L1082.01 1026.33L1082.85 1027.56L1083.71 1028.78L1084.58 1030L1085.45 1031.21L1086.34 1032.4L1087.23 1033.59L1088.14 1034.78L1089.06 1035.95L1089.98 1037.12L1090.92 1038.27L1091.86 1039.42L1092.81 1040.56L1093.78 1041.69L1094.75 1042.82L1095.73 1043.93L1096.72 1045.04L1097.72 1046.14L1098.73 1047.23L1099.75 1048.31L1100.78 1049.38L1101.81 1050.44L1102.86 1051.5L1103.91 1052.55L1104.97 1053.58L1106.04 1054.61L1107.12 1055.63L1108.2 1056.65L1109.3 1057.65L1110.4 1058.65L1111.51 1059.63L1112.63 1060.61L1113.75 1061.58L1114.89 1062.54L1116.03 1063.5L1117.17 1064.44L1118.33 1065.37L1119.49 1066.3L1120.66 1067.22L1121.84 1068.13L1123.02 1069.03L1124.21 1069.92L1125.41 1070.8L1126.61 1071.68L1127.82 1072.54L1129.04 1073.4L1130.26 1074.25L1131.49 1075.09L1132.73 1075.92L1133.97 1076.74L1135.22 1077.55L1136.48 1078.36L1137.74 1079.15L1139 1079.94L1140.27 1080.71L1141.55 1081.48L1142.83 1082.24L1144.12 1082.99L1145.42 1083.74L1146.71 1084.47L1148.02 1085.2L1149.33 1085.91L1150.64 1086.62L1151.96 1087.32L1153.28 1088L1154.61 1088.68L1155.94 1089.36L1157.28 1090.02L1158.62 1090.67L1159.97 1091.32L1161.32 1091.96L1162.68 1092.58L1164.03 1093.21L1165.4 1093.82L1166.76 1094.42L1168.13 1095.02L1169.51 1095.61L1170.89 1096.19L1172.27 1096.77L1173.65 1097.33L1175.04 1097.89L1176.43 1098.45L1177.82 1098.99L1179.22 1099.53L1180.62 1100.06L1182.02 1100.59L1183.43 1101.11L1184.84 1101.62L1186.25 1102.12L1187.66 1102.62L1189.08 1103.12L1190.5 1103.6L1191.92 1104.08L1193.34 1104.56L1194.77 1105.03L1196.19 1105.49L1197.62 1105.95L1199.05 1106.41L1200.49 1106.85L1201.92 1107.3L1203.36 1107.74L1204.79 1108.17L1206.23 1108.6L1207.67 1109.02L1209.11 1109.44L1210.55 1109.85L1211.99 1110.26L1213.44 1110.67L1214.88 1111.07L1216.33 1111.47L1217.77 1111.86L1219.22 1112.25L1220.67 1112.63L1222.12 1113.02L1223.57 1113.39L1225.02 1113.76L1226.47 1114.13L1227.92 1114.5L1229.37 1114.86L1230.83 1115.22L1232.28 1115.57L1233.74 1115.92L1235.19 1116.27L1236.65 1116.61L1238.11 1116.95L1239.57 1117.28L1241.03 1117.61L1242.49 1117.94L1243.95 1118.26L1245.41 1118.59L1246.87 1118.9L1248.33 1119.22L1249.8 1119.53L1251.26 1119.84L1252.73 1120.14L1254.19 1120.44L1255.66 1120.74L1257.13 1121.03L1258.6 1121.32L1260.07 1121.61L1261.54 1121.9L1263.01 1122.18L1264.48 1122.46L1265.95 1122.74L1267.42 1123.01L1268.89 1123.28L1270.37 1123.55L1271.84 1123.82L1273.32 1124.08L1274.79 1124.34L1276.27 1124.6L1277.74 1124.85L1279.22 1125.1L1280.7 1125.35L1282.18 1125.6L1283.66 1125.84L1285.14 1126.09L1286.62 1126.33L1288.1 1126.56L1289.58 1126.8L1291.06 1127.03L1292.54 1127.26L1294.03 1127.49L1295.51 1127.72L1296.99 1127.94L1298.48 1128.17L1299.96 1128.39L1301.45 1128.6L1302.94 1128.82L1304.42 1129.04L1305.91 1129.25L1307.4 1129.46L1308.89 1129.67L1310.37 1129.88L1311.86 1130.08L1313.35 1130.28L1314.84 1130.49L1316.33 1130.69L1317.82 1130.89L1319.32 1131.08L1320.81 1131.28L1322.3 1131.47L1323.79 1131.67L1325.28 1131.86L1326.78 1132.05L1328.27 1132.24L1329.77 1132.43L1331.26 1132.61L1332.75 1132.8L1334.25 1132.98L1335.75 1133.17L1337.24 1133.35L1338.74 1133.53L1340.23 1133.71L1341.73 1133.89L1343.23 1134.07L1344.73 1134.25L1346.22 1134.42L1347.72 1134.6L1349.22 1134.77L1350.72 1134.95L1352.22 1135.12L1353.72 1135.29L1355.22 1135.47L1356.72 1135.64L1358.22 1135.81L1359.72 1135.98L1361.22 1136.15L1362.72 1136.32L1364.22 1136.49L1365.72 1136.66L1367.22 1136.83L1368.72 1137L1370.23 1137.17L1371.73 1137.33L1373.23 1137.5L1374.73 1137.67L1376.24 1137.83L1377.74 1138L1379.24 1138.16L1380.75 1138.32L1382.25 1138.49L1383.75 1138.65L1385.26 1138.81L1386.76 1138.98L1388.26 1139.14L1389.77 1139.3L1391.27 1139.46L1392.78 1139.62L1394.28 1139.78L1395.78 1139.93L1397.29 1140.09L1398.79 1140.25L1400.3 1140.41L1401.8 1140.56L1403.31 1140.72L1404.81 1140.87L1406.32 1141.02L1407.82 1141.18L1409.33 1141.33L1410.83 1141.48L1412.34 1141.63L1413.84 1141.78L1415.35 1141.93L1416.85 1142.08L1418.36 1142.23L1419.86 1142.38L1421.37 1142.52L1422.87 1142.67L1424.38 1142.82L1425.88 1142.96L1427.39 1143.1L1428.89 1143.25L1430.4 1143.39L1431.9 1143.53L1433.41 1143.67L1434.91 1143.81L1436.42 1143.95L1437.92 1144.09L1439.42 1144.22L1440.93 1144.36L1442.43 1144.5L1443.94 1144.63L1445.44 1144.77L1446.94 1144.9L1448.45 1145.03L1449.95 1145.16L1451.45 1145.29L1452.96 1145.42L1454.46 1145.55L1455.96 1145.68L1457.47 1145.81L1458.97 1145.93L1460.47 1146.06L1461.97 1146.18L1463.47 1146.3L1464.98 1146.43L1466.48 1146.55L1467.98 1146.67L1469.48 1146.79L1470.98 1146.91L1472.48 1147.02L1473.98 1147.14L1475.48 1147.25L1476.98 1147.37L1478.48 1147.48L1479.98 1147.59L1481.48 1147.71L1482.98 1147.82L1484.48 1147.93L1485.97 1148.03L1487.47 1148.14L1488.97 1148.25L1490.47 1148.35L1491.96 1148.46L1493.46 1148.56L1494.96 1148.66L1496.45 1148.76L1497.95 1148.86L1499.44 1148.96L1500.94 1149.06L1502.43 1149.15L1503.92 1149.25L1505.42 1149.34L1506.91 1149.43L1508.4 1149.52L1509.9 1149.62L1511.39 1149.7L1512.88 1149.79L1514.37 1149.88L1515.86 1149.96L1517.35 1150.05L1518.84 1150.13L1520.33 1150.21L1521.82 1150.29L1523.31 1150.37L1524.8 1150.45L1526.28 1150.53L1527.77 1150.61L1529.26 1150.68L1530.74 1150.75L1532.23 1150.83L1533.71 1150.9L1535.2 1150.97L1536.68 1151.03L1538.16 1151.1L1539.65 1151.17L1541.13 1151.23L1542.61 1151.29L1544.09 1151.35L1545.57 1151.41L1547.05 1151.47L1548.53 1151.53L1550.01 1151.59L1551.49 1151.64L1552.97 1151.69L1554.44 1151.75L1555.92 1151.8L1557.4 1151.85L1558.87 1151.89L1560.35 1151.94L1561.82 1151.98L1563.29 1152.03L1564.77 1152.07L1566.24 1152.11L1567.71 1152.15L1569.18 1152.19L1570.65 1152.22L1572.12 1152.26L1573.59 1152.29L1575.06 1152.32L1576.52 1152.35L1577.99 1152.38L1579.46 1152.41L1580.92 1152.43L1582.39 1152.46" style="stroke:#4ddbc9;stroke-width:1.8;fill:none;stroke-dasharray:6.6 2.85;"/>
<path d="M1035.49 869.37L1035.34 868.04L1035.26 866.69L1035.24 865.31L1035.28 863.9L1035.39 862.46L1035.55 861.01L1035.78 859.53L1036.06 858.03L1036.4 856.52L1036.79 854.99L1037.24 853.44L1037.75 851.88L1038.3 850.31L1038.91 848.73L1039.56 847.14L1040.26 845.55L1041.01 843.95L1041.81 842.36L1042.65 840.83L1043.54 839.4L1044.46 838.11L1045.43 837.01L1046.44 836.15L1047.48 835.53L1048.54 835.17L1049.62 835.09L1050.71 835.29L1051.8 835.71L1052.89 836.31L1053.96 837.03L1055 837.82L1056.02 838.67L1057.02 839.57L1058 840.52L1058.96 841.53L1059.89 842.58L1060.81 843.68L1061.7 844.81L1062.58 845.99L1063.44 847.21L1064.28 848.46L1065.11 849.74L1065.92 851.05L1066.71 852.38L1067.49 853.74L1068.25 855.12L1069 856.52L1069.74 857.93L1070.46 859.35L1071.17 860.79L1071.88 862.23L1072.57 863.67L1073.25 865.12L1073.92 866.57L1074.58 868.01L1075.24 869.45L1075.88 870.87L1076.52 872.29L1077.16 873.69L1077.79 875.08L1078.41 876.47L1079.03 877.84L1079.65 879.2L1080.26 880.56L1080.87 881.91L1081.48 883.25L1082.09 884.59L1082.69 885.92L1083.3 887.25L1083.91 888.58L1084.52 889.9L1085.13 891.22L1085.74 892.55L1086.36 893.87L1086.98 895.2L1087.6 896.52L1088.23 897.85L1088.86 899.18L1089.5 900.51L1090.13 901.84L1090.78 903.17L1091.42 904.5L1092.07 905.83L1092.72 907.16L1093.38 908.49L1094.04 909.82L1094.71 911.15L1095.38 912.48L1096.05 913.81L1096.72 915.14L1097.4 916.47L1098.09 917.8L1098.78 919.13L1099.47 920.46L1100.16 921.79L1100.86 923.11L1101.57 924.44L1102.28 925.77L1102.99 927.09L1103.7 928.41L1104.43 929.74L1105.15 931.06L1105.88 932.38L1106.61 933.7L1107.35 935.01L1108.09 936.33L1108.84 937.64L1109.59 938.96L1110.34 940.27L1111.1 941.57L1111.86 942.88L1112.63 944.19L1113.4 945.49L1114.18 946.79L1114.96 948.09L1115.75 949.38L1116.54 950.68L1117.33 951.97L1118.13 953.25L1118.93 954.54L1119.74 955.82L1120.55 957.1L1121.37 958.38L1122.19 959.65L1123.02 960.92L1123.85 962.19L1124.69 963.45L1125.53 964.72L1126.38 965.97L1127.23 967.23L1128.08 968.48L1128.94 969.72L1129.81 970.97L1130.68 972.21L1131.55 973.44L1132.43 974.67L1133.32 975.9L1134.21 977.12L1135.1 978.34L1136 979.55L1136.91 980.76L1137.82 981.97L1138.73 983.17L1139.66 984.37L1140.58 985.56L1141.51 986.74L1142.45 987.93L1143.39 989.1L1144.34 990.27L1145.29 991.44L1146.25 992.6L1147.21 993.76L1148.18 994.91L1149.15 996.05L1150.13 997.19L1151.11 998.32L1152.1 999.45L1153.1 1000.57L1154.1 1001.69L1155.1 1002.8L1156.12 1003.9L1157.13 1005L1158.16 1006.09L1159.19 1007.18L1160.22 1008.26L1161.26 1009.33L1162.3 1010.4L1163.36 1011.46L1164.41 1012.51L1165.48 1013.56L1166.54 1014.59L1167.62 1015.63L1168.7 1016.65L1169.78 1017.67L1170.87 1018.69L1171.97 1019.69L1173.07 1020.69L1174.17 1021.69L1175.28 1022.68L1176.4 1023.66L1177.52 1024.63L1178.65 1025.6L1179.78 1026.57L1180.92 1027.52L1182.06 1028.47L1183.21 1029.42L1184.36 1030.35L1185.52 1031.29L1186.68 1032.21L1187.85 1033.13L1189.02 1034.05L1190.19 1034.95L1191.37 1035.86L1192.56 1036.75L1193.75 1037.64L1194.94 1038.53L1196.14 1039.4L1197.35 1040.28L1198.56 1041.14L1199.77 1042L1200.99 1042.86L1202.21 1043.71L1203.43 1044.55L1204.66 1045.39L1205.9 1046.22L1207.13 1047.05L1208.38 1047.87L1209.62 1048.68L1210.87 1049.49L1212.13 1050.3L1213.39 1051.1L1214.65 1051.89L1215.91 1052.68L1217.18 1053.46L1218.46 1054.24L1219.74 1055.01L1221.02 1055.78L1222.3 1056.54L1223.59 1057.3L1224.88 1058.05L1226.18 1058.79L1227.48 1059.53L1228.78 1060.27L1230.08 1061L1231.39 1061.73L1232.71 1062.45L1234.02 1063.16L1235.34 1063.87L1236.66 1064.58L1237.99 1065.28L1239.32 1065.97L1240.65 1066.66L1241.99 1067.35L1243.32 1068.03L1244.66 1068.71L1246.01 1069.38L1247.36 1070.04L1248.7 1070.71L1250.06 1071.36L1251.41 1072.02L1252.77 1072.66L1254.13 1073.31L1255.49 1073.94L1256.86 1074.58L1258.23 1075.21L1259.6 1075.83L1260.97 1076.45L1262.35 1077.07L1263.73 1077.68L1265.11 1078.29L1266.49 1078.89L1267.87 1079.49L1269.26 1080.08L1270.65 1080.67L1272.04 1081.26L1273.44 1081.84L1274.83 1082.42L1276.23 1082.99L1277.63 1083.56L1279.03 1084.13L1280.44 1084.69L1281.84 1085.24L1283.25 1085.8L1284.66 1086.34L1286.07 1086.89L1287.48 1087.43L1288.9 1087.97L1290.31 1088.5L1291.73 1089.03L1293.15 1089.55L1294.57 1090.08L1295.99 1090.59L1297.41 1091.11L1298.84 1091.62L1300.27 1092.12L1301.69 1092.63L1303.12 1093.13L1304.55 1093.62L1305.98 1094.11L1307.41 1094.6L1308.85 1095.09L1310.28 1095.57L1311.72 1096.05L1313.15 1096.52L1314.59 1096.99L1316.03 1097.46L1317.47 1097.92L1318.91 1098.38L1320.35 1098.84L1321.79 1099.3L1323.23 1099.75L1324.67 1100.19L1326.11 1100.64L1327.56 1101.08L1329 1101.52L1330.45 1101.95L1331.89 1102.39L1333.34 1102.81L1334.78 1103.24L1336.23 1103.66L1337.68 1104.08L1339.12 1104.5L1340.57 1104.91L1342.02 1105.32L1343.47 1105.73L1344.91 1106.14L1346.36 1106.54L1347.81 1106.94L1349.26 1107.33L1350.71 1107.73L1352.16 1108.12L1353.61 1108.51L1355.07 1108.89L1356.52 1109.27L1357.97 1109.65L1359.42 1110.03L1360.88 1110.4L1362.33 1110.77L1363.78 1111.14L1365.24 1111.51L1366.69 1111.87L1368.15 1112.23L1369.6 1112.59L1371.06 1112.94L1372.52 1113.29L1373.97 1113.64L1375.43 1113.99L1376.89 1114.33L1378.35 1114.68L1379.8 1115.01L1381.26 1115.35L1382.72 1115.69L1384.18 1116.02L1385.64 1116.35L1387.1 1116.67L1388.56 1117L1390.02 1117.32L1391.49 1117.64L1392.95 1117.95L1394.41 1118.27L1395.87 1118.58L1397.34 1118.89L1398.8 1119.2L1400.26 1119.5L1401.73 1119.81L1403.19 1120.11L1404.66 1120.4L1406.12 1120.7L1407.59 1120.99L1409.06 1121.28L1410.52 1121.57L1411.99 1121.86L1413.46 1122.15L1414.93 1122.43L1416.39 1122.71L1417.86 1122.99L1419.33 1123.26L1420.8 1123.54L1422.27 1123.81L1423.74 1124.08L1425.21 1124.35L1426.68 1124.61L1428.15 1124.88L1429.62 1125.14L1431.1 1125.4L1432.57 1125.66L1434.04 1125.91L1435.51 1126.16L1436.99 1126.42L1438.46 1126.67L1439.94 1126.92L1441.41 1127.16L1442.89 1127.41L1444.36 1127.65L1445.84 1127.89L1447.31 1128.13L1448.79 1128.37L1450.27 1128.6L1451.74 1128.83L1453.22 1129.07L1454.7 1129.3L1456.18 1129.52L1457.66 1129.75L1459.14 1129.98L1460.62 1130.2L1462.1 1130.42L1463.58 1130.64L1465.06 1130.86L1466.54 1131.08L1468.02 1131.29L1469.5 1131.5L1470.98 1131.72L1472.47 1131.93L1473.95 1132.14L1475.43 1132.34L1476.91 1132.55L1478.4 1132.75L1479.88 1132.96L1481.37 1133.16L1482.85 1133.36L1484.34 1133.56L1485.82 1133.76L1487.31 1133.95L1488.8 1134.15L1490.28 1134.34L1491.77 1134.53L1493.26 1134.72L1494.74 1134.91L1496.23 1135.1L1497.72 1135.29L1499.21 1135.47L1500.7 1135.66L1502.19 1135.84L1503.68 1136.02L1505.17 1136.2L1506.66 1136.38L1508.15 1136.56L1509.64 1136.74L1511.13 1136.91L1512.62 1137.09L1514.12 1137.26L1515.61 1137.43L1517.1 1137.61L1518.6 1137.78L1520.09 1137.95L1521.58 1138.12L1523.08 1138.28L1524.57 1138.45L1526.07 1138.62L1527.56 1138.78L1529.06 1138.95L1530.55 1139.11L1532.05 1139.27L1533.55 1139.43L1535.04 1139.59L1536.54 1139.75L1538.04 1139.91L1539.54 1140.07L1541.04 1140.23L1542.54 1140.38L1544.03 1140.54L1545.53 1140.69L1547.03 1140.85L1548.53 1141L1550.03 1141.15L1551.53 1141.3L1553.04 1141.46L1554.54 1141.61L1556.04 1141.76L1557.54 1141.91L1559.04 1142.05L1560.55 1142.2L1562.05 1142.35L1563.55 1142.5L1565.06 1142.64L1566.56 1142.79L1568.06 1142.94L1569.57 1143.08L1571.07 1143.22L1572.58 1143.37L1574.08 1143.51L1575.59 1143.66L1577.1 1143.8L1578.6 1143.94L1580.11 1144.08L1581.62 1144.22L1583.13 1144.37" style="stroke:#D81B60;stroke-width:2.3;fill:none;"/>
<path d="M1036.09 794.36L1036.38 795.79L1036.67 797.21L1036.96 798.64L1037.25 800.07L1037.54 801.5L1037.84 802.93L1038.13 804.37L1038.43 805.8L1038.72 807.24L1039.02 808.68L1039.32 810.12L1039.62 811.56L1039.92 813.01L1040.22 814.45L1040.52 815.9L1040.82 817.35L1041.13 818.8L1041.43 820.25L1041.74 821.7L1042.05 823.15L1042.36 824.6L1042.67 826.06L1042.98 827.51L1043.3 828.97L1043.61 830.42L1043.93 831.88L1044.25 833.34L1044.57 834.8L1044.9 836.26L1045.22 837.72L1045.55 839.18L1045.88 840.64L1046.21 842.1L1046.55 843.56L1046.88 845.03L1047.22 846.49L1047.56 847.95L1047.9 849.42L1048.25 850.88L1048.6 852.34L1048.95 853.81L1049.3 855.27L1049.66 856.73L1050.01 858.2L1050.38 859.66L1050.74 861.13L1051.11 862.59L1051.47 864.05L1051.85 865.51L1052.22 866.98L1052.6 868.44L1052.98 869.9L1053.37 871.36L1053.76 872.82L1054.15 874.28L1054.54 875.74L1054.94 877.2L1055.34 878.66L1055.74 880.12L1056.15 881.57L1056.56 883.03L1056.98 884.48L1057.4 885.94L1057.82 887.39L1058.25 888.84L1058.68 890.29L1059.11 891.74L1059.55 893.19L1059.99 894.64L1060.44 896.09L1060.89 897.53L1061.34 898.98L1061.8 900.42L1062.26 901.86L1062.73 903.3L1063.2 904.73L1063.67 906.17L1064.15 907.61L1064.64 909.04L1065.13 910.47L1065.62 911.9L1066.12 913.33L1066.62 914.75L1067.13 916.17L1067.64 917.6L1068.16 919.02L1068.68 920.43L1069.21 921.85L1069.74 923.26L1070.28 924.67L1070.82 926.08L1071.37 927.49L1071.92 928.89L1072.48 930.3L1073.04 931.69L1073.61 933.09L1074.18 934.49L1074.76 935.88L1075.35 937.27L1075.94 938.65L1076.54 940.04L1077.14 941.42L1077.74 942.8L1078.36 944.17L1078.98 945.55L1079.6 946.92L1080.23 948.28L1080.87 949.65L1081.51 951.01L1082.15 952.36L1082.81 953.72L1083.47 955.07L1084.13 956.42L1084.8 957.76L1085.48 959.1L1086.16 960.44L1086.85 961.78L1087.54 963.11L1088.24 964.43L1088.95 965.76L1089.66 967.08L1090.38 968.39L1091.1 969.71L1091.84 971.01L1092.57 972.32L1093.31 973.62L1094.06 974.92L1094.82 976.21L1095.58 977.5L1096.35 978.79L1097.12 980.07L1097.9 981.34L1098.69 982.62L1099.48 983.88L1100.28 985.15L1101.08 986.41L1101.9 987.66L1102.71 988.92L1103.54 990.16L1104.37 991.4L1105.21 992.64L1106.05 993.87L1106.9 995.1L1107.76 996.33L1108.62 997.54L1109.49 998.76L1110.37 999.97L1111.25 1001.17L1112.14 1002.37L1113.04 1003.56L1113.94 1004.75L1114.85 1005.94L1115.76 1007.12L1116.68 1008.29L1117.61 1009.46L1118.54 1010.62L1119.48 1011.78L1120.43 1012.93L1121.38 1014.08L1122.34 1015.22L1123.3 1016.36L1124.27 1017.49L1125.25 1018.61L1126.23 1019.73L1127.22 1020.85L1128.22 1021.96L1129.22 1023.06L1130.22 1024.15L1131.24 1025.24L1132.25 1026.33L1133.28 1027.41L1134.31 1028.48L1135.34 1029.55L1136.39 1030.61L1137.43 1031.66L1138.49 1032.71L1139.55 1033.75L1140.61 1034.79L1141.68 1035.82L1142.76 1036.84L1143.84 1037.86L1144.93 1038.87L1146.02 1039.87L1147.12 1040.87L1148.22 1041.86L1149.33 1042.84L1150.45 1043.82L1151.57 1044.79L1152.7 1045.75L1153.83 1046.71L1154.97 1047.65L1156.11 1048.6L1157.26 1049.53L1158.41 1050.46L1159.57 1051.38L1160.73 1052.3L1161.9 1053.2L1163.08 1054.1L1164.26 1055L1165.44 1055.88L1166.63 1056.76L1167.83 1057.64L1169.03 1058.5L1170.23 1059.36L1171.44 1060.21L1172.66 1061.06L1173.88 1061.9L1175.1 1062.73L1176.33 1063.56L1177.56 1064.38L1178.8 1065.19L1180.05 1066L1181.29 1066.8L1182.55 1067.59L1183.8 1068.38L1185.06 1069.16L1186.33 1069.94L1187.6 1070.7L1188.87 1071.47L1190.15 1072.22L1191.43 1072.97L1192.72 1073.72L1194.01 1074.45L1195.3 1075.19L1196.6 1075.91L1197.9 1076.63L1199.21 1077.35L1200.52 1078.05L1201.84 1078.76L1203.15 1079.45L1204.47 1080.14L1205.8 1080.83L1207.13 1081.51L1208.46 1082.18L1209.8 1082.85L1211.14 1083.51L1212.48 1084.17L1213.83 1084.82L1215.18 1085.46L1216.53 1086.1L1217.89 1086.74L1219.25 1087.37L1220.61 1087.99L1221.98 1088.61L1223.35 1089.22L1224.72 1089.83L1226.09 1090.44L1227.47 1091.03L1228.85 1091.63L1230.24 1092.21L1231.62 1092.8L1233.01 1093.37L1234.41 1093.95L1235.8 1094.51L1237.2 1095.08L1238.6 1095.63L1240 1096.19L1241.41 1096.73L1242.82 1097.28L1244.23 1097.82L1245.64 1098.35L1247.06 1098.88L1248.48 1099.4L1249.9 1099.92L1251.32 1100.44L1252.74 1100.95L1254.17 1101.46L1255.6 1101.96L1257.03 1102.45L1258.46 1102.95L1259.9 1103.44L1261.33 1103.92L1262.77 1104.4L1264.21 1104.88L1265.65 1105.35L1267.1 1105.82L1268.54 1106.28L1269.99 1106.74L1271.44 1107.19L1272.89 1107.64L1274.34 1108.09L1275.79 1108.54L1277.25 1108.97L1278.7 1109.41L1280.16 1109.84L1281.62 1110.27L1283.08 1110.69L1284.54 1111.11L1286 1111.53L1287.46 1111.94L1288.93 1112.35L1290.39 1112.76L1291.86 1113.16L1293.33 1113.56L1294.79 1113.95L1296.26 1114.35L1297.73 1114.73L1299.2 1115.12L1300.67 1115.5L1302.15 1115.88L1303.62 1116.25L1305.09 1116.62L1306.57 1116.99L1308.04 1117.36L1309.51 1117.72L1310.99 1118.08L1312.46 1118.44L1313.94 1118.79L1315.41 1119.14L1316.89 1119.49L1318.37 1119.83L1319.84 1120.17L1321.32 1120.51L1322.79 1120.84L1324.27 1121.18L1325.75 1121.51L1327.22 1121.83L1328.7 1122.16L1330.18 1122.48L1331.65 1122.8L1333.13 1123.12L1334.6 1123.43L1336.08 1123.74L1337.56 1124.05L1339.03 1124.36L1340.51 1124.66L1341.99 1124.96L1343.46 1125.26L1344.94 1125.55L1346.42 1125.85L1347.9 1126.14L1349.37 1126.43L1350.85 1126.71L1352.33 1127L1353.8 1127.28L1355.28 1127.56L1356.76 1127.83L1358.24 1128.11L1359.71 1128.38L1361.19 1128.65L1362.67 1128.92L1364.15 1129.18L1365.62 1129.44L1367.1 1129.7L1368.58 1129.96L1370.06 1130.22L1371.53 1130.47L1373.01 1130.72L1374.49 1130.97L1375.97 1131.22L1377.45 1131.47L1378.93 1131.71L1380.4 1131.95L1381.88 1132.19L1383.36 1132.43L1384.84 1132.66L1386.32 1132.9L1387.8 1133.13L1389.28 1133.36L1390.76 1133.59L1392.24 1133.81L1393.72 1134.04L1395.2 1134.26L1396.67 1134.48L1398.15 1134.7L1399.63 1134.91L1401.11 1135.13L1402.59 1135.34L1404.07 1135.55L1405.55 1135.76L1407.04 1135.97L1408.52 1136.18L1410 1136.38L1411.48 1136.59L1412.96 1136.79L1414.44 1136.99L1415.92 1137.19L1417.4 1137.38L1418.88 1137.58L1420.36 1137.77L1421.85 1137.96L1423.33 1138.16L1424.81 1138.34L1426.29 1138.53L1427.77 1138.72L1429.26 1138.9L1430.74 1139.09L1432.22 1139.27L1433.71 1139.45L1435.19 1139.63L1436.67 1139.81L1438.15 1139.99L1439.64 1140.16L1441.12 1140.34L1442.61 1140.51L1444.09 1140.68L1445.57 1140.86L1447.06 1141.03L1448.54 1141.19L1450.03 1141.36L1451.51 1141.53L1453 1141.7L1454.48 1141.86L1455.97 1142.02L1457.45 1142.19L1458.94 1142.35L1460.42 1142.51L1461.91 1142.67L1463.4 1142.83L1464.88 1142.98L1466.37 1143.14L1467.86 1143.3L1469.34 1143.45L1470.83 1143.61L1472.32 1143.76L1473.8 1143.91L1475.29 1144.06L1476.78 1144.22L1478.27 1144.37L1479.76 1144.52L1481.25 1144.66L1482.73 1144.81L1484.22 1144.96L1485.71 1145.11L1487.2 1145.25L1488.69 1145.4L1490.18 1145.54L1491.67 1145.69L1493.16 1145.83L1494.65 1145.98L1496.14 1146.12L1497.63 1146.26L1499.12 1146.4L1500.61 1146.55L1502.11 1146.69L1503.6 1146.83L1505.09 1146.97L1506.58 1147.11L1508.07 1147.25L1509.57 1147.39L1511.06 1147.53L1512.55 1147.67L1514.05 1147.8L1515.54 1147.94L1517.03 1148.08L1518.53 1148.22L1520.02 1148.36L1521.52 1148.49L1523.01 1148.63L1524.51 1148.77L1526 1148.91L1527.5 1149.04L1528.99 1149.18L1530.49 1149.32L1531.98 1149.45L1533.48 1149.59L1534.98 1149.73L1536.47 1149.86L1537.97 1150L1539.47 1150.14L1540.97 1150.28L1542.46 1150.41L1543.96 1150.55L1545.46 1150.69L1546.96 1150.83L1548.46 1150.96L1549.96 1151.1L1551.46 1151.24L1552.96 1151.38L1554.46 1151.52L1555.96 1151.66L1557.46 1151.8L1558.96 1151.94L1560.46 1152.08L1561.96 1152.22L1563.47 1152.36L1564.97 1152.5L1566.47 1152.64L1567.97 1152.78L1569.48 1152.92L1570.98 1153.07L1572.48 1153.21L1573.99 1153.36L1575.49 1153.5L1577 1153.65L1578.5 1153.79L1580.01 1153.94L1581.51 1154.08L1583.02 1154.23" style="stroke:#D81B60;stroke-width:2.3;fill:none;stroke-dasharray:8.5 3.7;"/>
<path d="M1035.8 798.1V896.9" class="eb"/>
<path d="M1030.7 798.1h10.2M1030.7 896.9h10.2" class="cap"/>
<path d="M1051.3 891.7V939.1" class="eb"/>
<path d="M1046.2 891.7h10.2M1046.2 939.1h10.2" class="cap"/>
<path d="M1091.5 944.5V969.5" class="eb"/>
<path d="M1086.4 944.5h10.2M1086.4 969.5h10.2" class="cap"/>
<path d="M1098.5 1002.7V1024.9" class="eb"/>
<path d="M1093.4 1002.7h10.2M1093.4 1024.9h10.2" class="cap"/>
<path d="M1127.3 943.9V1000.4" class="eb"/>
<path d="M1122.2 943.9h10.2M1122.2 1000.4h10.2" class="cap"/>
<path d="M1177.5 987V1033" class="eb"/>
<path d="M1172.4 987h10.2M1172.4 1033h10.2" class="cap"/>
<path d="M1228.5 1017.6V1056.1" class="eb"/>
<path d="M1223.4 1017.6h10.2M1223.4 1056.1h10.2" class="cap"/>
<path d="M1279.3 1015.3V1044.9" class="eb"/>
<path d="M1274.2 1015.3h10.2M1274.2 1044.9h10.2" class="cap"/>
<path d="M1329.6 1060.2V1075.5" class="eb"/>
<path d="M1324.5 1060.2h10.2M1324.5 1075.5h10.2" class="cap"/>
<path d="M1380.6 1066.3V1080.7" class="eb"/>
<path d="M1375.5 1066.3h10.2M1375.5 1080.7h10.2" class="cap"/>
<path d="M1431.2 1075V1089.4" class="eb"/>
<path d="M1426.1 1075h10.2M1426.1 1089.4h10.2" class="cap"/>
<path d="M1482 1107V1111.6" class="eb"/>
<path d="M1476.9 1107h10.2M1476.9 1111.6h10.2" class="cap"/>
<path d="M1583 1129.5V1141.9" class="eb"/>
<path d="M1577.9 1129.5h10.2M1577.9 1141.9h10.2" class="cap"/>
<path d="M1035.8 784.2V859.3" class="eb"/>
<path d="M1030.7 784.2h10.2M1030.7 859.3h10.2" class="cap"/>
<path d="M1051.3 869.7V917.5" class="eb"/>
<path d="M1046.2 869.7h10.2M1046.2 917.5h10.2" class="cap"/>
<path d="M1091.5 1001.1V1027.3" class="eb"/>
<path d="M1086.4 1001.1h10.2M1086.4 1027.3h10.2" class="cap"/>
<path d="M1091.5 999.5V1051.5" class="eb"/>
<path d="M1086.4 999.5h10.2M1086.4 1051.5h10.2" class="cap"/>
<path d="M1127.2 1063.4V1088.9" class="eb"/>
<path d="M1122.1 1063.4h10.2M1122.1 1088.9h10.2" class="cap"/>
<path d="M1177.5 1087.5V1121.8" class="eb"/>
<path d="M1172.4 1087.5h10.2M1172.4 1121.8h10.2" class="cap"/>
<path d="M1228.5 1082V1097.3" class="eb"/>
<path d="M1223.4 1082h10.2M1223.4 1097.3h10.2" class="cap"/>
<path d="M1279.3 1082.5V1099.2" class="eb"/>
<path d="M1274.2 1082.5h10.2M1274.2 1099.2h10.2" class="cap"/>
<path d="M1380.6 1096.1V1108.7" class="eb"/>
<path d="M1375.5 1096.1h10.2M1375.5 1108.7h10.2" class="cap"/>
<path d="M1431.2 1103.4V1116.6" class="eb"/>
<path d="M1426.1 1103.4h10.2M1426.1 1116.6h10.2" class="cap"/>
<path d="M1035.8 842.8L1031.1 852.2L1040.5 852.2Z" class="mk"/>
<path d="M1051.3 910.7L1046.6 920.1L1056 920.1Z" class="mk"/>
<path d="M1091.5 952.3L1086.8 961.7L1096.2 961.7Z" class="mk"/>
<path d="M1098.5 1009.1L1093.8 1018.5L1103.2 1018.5Z" class="mk"/>
<path d="M1127.3 967.5L1122.6 976.9L1132 976.9Z" class="mk"/>
<path d="M1177.5 1005.3L1172.8 1014.7L1182.2 1014.7Z" class="mk"/>
<path d="M1228.5 1032.15L1223.8 1041.55L1233.2 1041.55Z" class="mk"/>
<path d="M1279.3 1025.4L1274.6 1034.8L1284 1034.8Z" class="mk"/>
<path d="M1329.6 1063.15L1324.9 1072.55L1334.3 1072.55Z" class="mk"/>
<path d="M1380.6 1068.8L1375.9 1078.2L1385.3 1078.2Z" class="mk"/>
<path d="M1431.2 1077.5L1426.5 1086.9L1435.9 1086.9Z" class="mk"/>
<path d="M1482 1104.6L1477.3 1114L1486.7 1114Z" class="mk"/>
<path d="M1583 1131L1578.3 1140.4L1587.7 1140.4Z" class="mk"/>
<rect x="1031.1" y="817.1" width="9.4" height="9.4" class="mk"/>
<rect x="1046.6" y="888.9" width="9.4" height="9.4" class="mk"/>
<rect x="1086.8" y="1009.5" width="9.4" height="9.4" class="mk"/>
<rect x="1086.8" y="1020.8" width="9.4" height="9.4" class="mk"/>
<rect x="1122.5" y="1071.4" width="9.4" height="9.4" class="mk"/>
<rect x="1172.8" y="1099.9" width="9.4" height="9.4" class="mk"/>
<rect x="1223.8" y="1084.95" width="9.4" height="9.4" class="mk"/>
<rect x="1274.6" y="1086.15" width="9.4" height="9.4" class="mk"/>
<rect x="1324.9" y="1094.5" width="9.4" height="9.4" class="mk"/>
<rect x="1375.9" y="1097.7" width="9.4" height="9.4" class="mk"/>
<rect x="1426.5" y="1105.3" width="9.4" height="9.4" class="mk"/>
<rect x="1477.3" y="1134.5" width="9.4" height="9.4" class="mk"/>
<rect x="1477.3" y="1142.8" width="9.4" height="9.4" class="mk"/>
<rect x="1578.3" y="1157.4" width="9.4" height="9.4" class="mk"/>
<path d="M155.46 1755.55L156.82 1754.9L158.17 1754.24L159.52 1753.59L160.87 1752.93L162.21 1752.27L163.56 1751.61L164.9 1750.94L166.24 1750.27L167.59 1749.6L168.93 1748.93L170.27 1748.26L171.6 1747.58L172.94 1746.9L174.27 1746.22L175.61 1745.54L176.94 1744.86L178.27 1744.17L179.6 1743.48L180.93 1742.79L182.26 1742.1L183.59 1741.41L184.91 1740.71L186.24 1740.02L187.56 1739.32L188.89 1738.62L190.21 1737.92L191.53 1737.21L192.85 1736.51L194.17 1735.8L195.49 1735.09L196.8 1734.38L198.12 1733.67L199.44 1732.96L200.75 1732.24L202.07 1731.53L203.38 1730.81L204.69 1730.09L206 1729.37L207.32 1728.65L208.63 1727.93L209.94 1727.21L211.24 1726.48L212.55 1725.76L213.86 1725.03L215.17 1724.3L216.48 1723.57L217.78 1722.84L219.09 1722.11L220.39 1721.38L221.7 1720.65L223 1719.92L224.3 1719.18L225.61 1718.45L226.91 1717.71L228.21 1716.97L229.52 1716.24L230.82 1715.5L232.12 1714.76L233.42 1714.02L234.72 1713.28L236.02 1712.54L237.32 1711.8L238.62 1711.06L239.92 1710.31L241.22 1709.57L242.52 1708.83L243.82 1708.08L245.12 1707.34L246.42 1706.59L247.72 1705.85L249.02 1705.11L250.32 1704.36L251.62 1703.61L252.91 1702.87L254.21 1702.12L255.51 1701.38L256.81 1700.63L258.11 1699.89L259.41 1699.14L260.71 1698.39L262.01 1697.65L263.31 1696.9L264.61 1696.16L265.91 1695.41L267.21 1694.66L268.51 1693.92L269.81 1693.17L271.11 1692.43L272.41 1691.68L273.71 1690.94L275.01 1690.19L276.32 1689.45L277.62 1688.71L278.92 1687.96L280.22 1687.22L281.53 1686.48L282.83 1685.74L284.14 1685L285.44 1684.26L286.75 1683.52L288.06 1682.78L289.36 1682.04L290.67 1681.3L291.98 1680.57L293.29 1679.83L294.6 1679.09L295.91 1678.36L297.22 1677.62L298.53 1676.89L299.84 1676.16L301.15 1675.43L302.47 1674.7L303.78 1673.97L305.1 1673.24L306.41 1672.51L307.73 1671.79L309.05 1671.06L310.36 1670.34L311.68 1669.62L313 1668.9L314.33 1668.18L315.65 1667.46L316.97 1666.74L318.29 1666.02L319.62 1665.31L320.95 1664.6L322.27 1663.89L323.6 1663.17L324.93 1662.47L326.26 1661.76L327.59 1661.05L328.93 1660.35L330.26 1659.65L331.6 1658.95L332.93 1658.25L334.27 1657.55L335.61 1656.85L336.95 1656.16L338.29 1655.47L339.63 1654.78L340.98 1654.09L342.32 1653.4L343.67 1652.72L345.02 1652.03L346.37 1651.35L347.72 1650.67L349.07 1650L350.43 1649.32L351.78 1648.65L353.14 1647.98L354.5 1647.31L355.86 1646.65L357.22 1645.98L358.59 1645.32L359.95 1644.66L361.32 1644L362.69 1643.35L364.06 1642.7L365.43 1642.05L366.8 1641.4L368.18 1640.76L369.56 1640.11L370.93 1639.47L372.32 1638.84L373.7 1638.2L375.08 1637.57L376.47 1636.94L377.86 1636.31L379.25 1635.69L380.64 1635.07L382.03 1634.45L383.43 1633.84L384.83 1633.22L386.23 1632.61L387.63 1632.01L389.03 1631.4L390.44 1630.8L391.85 1630.2L393.26 1629.61L394.67 1629.02L396.08 1628.43L397.5 1627.85L398.92 1627.27L400.33 1626.7L401.75 1626.13L403.18 1625.56L404.6 1625L406.03 1624.45L407.45 1623.9L408.88 1623.36L410.31 1622.82L411.74 1622.29L413.17 1621.76L414.6 1621.24L416.04 1620.73L417.47 1620.23L418.91 1619.73L420.35 1619.24L421.78 1618.75L423.22 1618.28L424.66 1617.81L426.1 1617.35L427.54 1616.89L428.99 1616.45L430.43 1616.01L431.87 1615.59L433.31 1615.17L434.76 1614.76L436.2 1614.36L437.65 1613.97L439.09 1613.59L440.54 1613.22L441.98 1612.86L443.43 1612.5L444.88 1612.16L446.32 1611.83L447.77 1611.52L449.21 1611.21L450.66 1610.91L452.11 1610.63L453.55 1610.35L455 1610.09L456.44 1609.84L457.89 1609.61L459.33 1609.38L460.78 1609.17L462.22 1608.97L463.66 1608.78L465.11 1608.61L466.55 1608.45L467.99 1608.3L469.43 1608.17L470.87 1608.05L472.31 1607.95L473.75 1607.86L475.18 1607.78L476.62 1607.72L478.05 1607.67L479.49 1607.64L480.92 1607.63L482.35 1607.63L483.78 1607.64L485.21 1607.67L486.64 1607.72L488.07 1607.78L489.49 1607.86L490.92 1607.96L492.34 1608.07L493.76 1608.2L495.18 1608.34L496.6 1608.5L498.01 1608.68L499.43 1608.87L500.84 1609.08L502.25 1609.31L503.66 1609.55L505.06 1609.81L506.47 1610.09L507.87 1610.39L509.27 1610.7L510.67 1611.03L512.07 1611.38L513.46 1611.74L514.85 1612.12L516.24 1612.52L517.63 1612.94L519.01 1613.37L520.39 1613.83L521.77 1614.3L523.15 1614.79L524.52 1615.29L525.89 1615.82L527.26 1616.36L528.63 1616.93L529.99 1617.51L531.35 1618.11L532.7 1618.72L534.06 1619.36L535.41 1620.02L536.76 1620.69L538.1 1621.39L539.44 1622.1L540.78 1622.83L542.11 1623.58L543.45 1624.35L544.77 1625.14L546.1 1625.95L547.42 1626.78L548.74 1627.63L550.05 1628.5L551.36 1629.39L552.67 1630.3L553.97 1631.23L555.27 1632.18L556.56 1633.15L557.85 1634.14L559.14 1635.15L560.43 1636.18L561.7 1637.23L562.98 1638.3L564.25 1639.39L565.52 1640.51L566.78 1641.64L568.04 1642.8L569.29 1643.97L570.54 1645.17L571.78 1646.39L573.03 1647.63L574.26 1648.89L575.49 1650.17L576.72 1651.48L577.94 1652.81L579.16 1654.15" style="stroke:#000;stroke-width:1.9;fill:none;stroke-dasharray:7.0 3.05;"/>
<path d="M311.7 1680.8L316.6 1677.3L321.3 1673.6L325.5 1670.2L330 1666L338.7 1659.6L356.1 1644L364.7 1637.1L376.3 1630.7L385 1624.9L393.7 1616.8L402.4 1608.7L407 1603.5L417.1 1595.8L435.6 1579.2L454.1 1563.4L472.7 1549.5L491.2 1537.5L509.7 1526.3L526 1517.1" style="stroke:#4ddbc9;stroke-width:2.16;fill:none;stroke-dasharray:2.16 3.56;"/>
<path d="M316 1663.4L320.2 1659.8L328.2 1654.5L349.1 1641.7L359 1635.3L369.4 1630.1L379.2 1625.2L387.9 1619.1L393.7 1615.1L399.5 1609.8L405.3 1602.9L417.1 1591.2L435.6 1574.5L454 1552L463 1544L472.7 1535L481.9 1526.3L491.2 1518.9L500.5 1509.7L509.7 1502.2L526 1487" style="stroke:#D81B60;stroke-width:2.16;fill:none;stroke-dasharray:2.16 3.56;"/>
<path d="M281.7 1699.9L293.4 1688.6L306.5 1673.8L319.5 1659.9L330 1652.1L341.6 1644L353.2 1637.1L364.7 1627.2L373.4 1617.4L382.1 1608.1L390.8 1601.5L398.5 1596.8L417.1 1581L435.6 1565.3L444.9 1556.9L454.1 1548.6L463.4 1541.2L472.7 1535.6L481.9 1530L491.2 1524.5L505.6 1518" style="stroke:#4ddbc9;stroke-width:2.2;fill:none;stroke-linejoin:round;"/>
<path d="M281.7 1676.4L293.4 1664.3L306.5 1652.1L319.5 1643.4L332.5 1636.5L347.4 1629L359 1624.3L365.9 1617.4L376.3 1608.7L385 1600L398.5 1589.4L417.1 1573.6L435.6 1557.8L444.9 1547.7L454.1 1535.6L463.4 1526.3L472.7 1518L481.9 1508.7L491.2 1501.3L505.6 1490.2" style="stroke:#D81B60;stroke-width:2.2;fill:none;stroke-linejoin:round;"/>
<path d="M268.1 1683.9V1795.3M275 1638.6V1668.6M282.5 1655.6V1877M289.5 1614.3V1730.9M296.9 1621.7V1647.5M301.1 1656.1V1718.2M303.6 1656.5V1718.2M309.5 1643.6V1698.8M309.1 1612.6V1643.8M316.5 1606V1630M330 1626V1658.2M330.4 1606V1626M342.5 1602.6V1620.8M345.3 1619.1V1645.6M349 1590.4V1620M362.6 1604.3V1645.6M368.2 1563.5V1586.1M370.8 1596.5V1613.9M383.2 1571.3V1594.8M387.7 1590V1620.4M407.6 1563.9V1581.5M406.9 1580V1751.9M430.3 1545.8V1877M431 1590.8V1625.5M451.2 1548.6V1578.7M457.4 1518.9V1537.5M461.6 1536.6V1592.1M463.9 1515.7V1537M465.3 1535.1V1553.2M476.4 1522.6V1537.9M477.8 1507.8V1519.9M487.5 1497.6V1518" class="eb"/>
<path d="M263 1683.9h10.2M263 1795.3h10.2M269.9 1638.6h10.2M269.9 1668.6h10.2M277.4 1655.6h10.2M284.4 1614.3h10.2M284.4 1730.9h10.2M291.8 1621.7h10.2M291.8 1647.5h10.2M296 1656.1h10.2M296 1718.2h10.2M298.5 1656.5h10.2M298.5 1718.2h10.2M304.4 1643.6h10.2M304.4 1698.8h10.2M304 1612.6h10.2M304 1643.8h10.2M311.4 1606h10.2M311.4 1630h10.2M324.9 1626h10.2M324.9 1658.2h10.2M325.3 1606h10.2M325.3 1626h10.2M337.4 1602.6h10.2M337.4 1620.8h10.2M340.2 1619.1h10.2M340.2 1645.6h10.2M343.9 1590.4h10.2M343.9 1620h10.2M357.5 1604.3h10.2M357.5 1645.6h10.2M363.1 1563.5h10.2M363.1 1586.1h10.2M365.7 1596.5h10.2M365.7 1613.9h10.2M378.1 1571.3h10.2M378.1 1594.8h10.2M382.6 1590h10.2M382.6 1620.4h10.2M402.5 1563.9h10.2M402.5 1581.5h10.2M401.8 1580h10.2M401.8 1751.9h10.2M425.2 1545.8h10.2M425.9 1590.8h10.2M425.9 1625.5h10.2M446.1 1548.6h10.2M446.1 1578.7h10.2M452.3 1518.9h10.2M452.3 1537.5h10.2M456.5 1536.6h10.2M456.5 1592.1h10.2M458.8 1515.7h10.2M458.8 1537h10.2M460.2 1535.1h10.2M460.2 1553.2h10.2M471.3 1522.6h10.2M471.3 1537.9h10.2M472.7 1507.8h10.2M472.7 1519.9h10.2M482.4 1497.6h10.2M482.4 1518h10.2" class="cap"/>
<path d="M282.5 1711.5L277.8 1720.9L287.2 1720.9Z" class="mk"/>
<path d="M303.6 1675.1L298.9 1684.5L308.3 1684.5Z" class="mk"/>
<path d="M309.5 1661.5L304.8 1670.9L314.2 1670.9Z" class="mk"/>
<path d="M316.5 1613.3L311.8 1622.7L321.2 1622.7Z" class="mk"/>
<path d="M330 1631.1L325.3 1640.5L334.7 1640.5Z" class="mk"/>
<path d="M342.5 1607.3L337.8 1616.7L347.2 1616.7Z" class="mk"/>
<path d="M345.3 1627L340.6 1636.4L350 1636.4Z" class="mk"/>
<path d="M362.6 1617.6L357.9 1627L367.3 1627Z" class="mk"/>
<path d="M370.8 1602L366.1 1611.4L375.5 1611.4Z" class="mk"/>
<path d="M383.2 1579.8L378.5 1589.2L387.9 1589.2Z" class="mk"/>
<path d="M387.7 1603.6L383 1613L392.4 1613Z" class="mk"/>
<path d="M407.6 1567.5L402.9 1576.9L412.3 1576.9Z" class="mk"/>
<path d="M406.9 1614.8L402.2 1624.2L411.6 1624.2Z" class="mk"/>
<path d="M431 1601.3L426.3 1610.7L435.7 1610.7Z" class="mk"/>
<path d="M461.6 1553.5L456.9 1562.9L466.3 1562.9Z" class="mk"/>
<path d="M463.9 1522.6L459.2 1532L468.6 1532Z" class="mk"/>
<path d="M477.8 1509.6L473.1 1519L482.5 1519Z" class="mk"/>
<path d="M487.5 1500.3L482.8 1509.7L492.2 1509.7Z" class="mk"/>
<path d="M487.5 1507.3L482.8 1516.7L492.2 1516.7Z" class="mk"/>
<rect x="263.4" y="1712.6" width="9.4" height="9.4" class="mk"/>
<rect x="270.3" y="1647" width="9.4" height="9.4" class="mk"/>
<rect x="284.8" y="1642.6" width="9.4" height="9.4" class="mk"/>
<rect x="292.2" y="1629.6" width="9.4" height="9.4" class="mk"/>
<rect x="296.4" y="1662.3" width="9.4" height="9.4" class="mk"/>
<rect x="304.4" y="1621.3" width="9.4" height="9.4" class="mk"/>
<rect x="325.7" y="1611" width="9.4" height="9.4" class="mk"/>
<rect x="344.3" y="1598.8" width="9.4" height="9.4" class="mk"/>
<rect x="351.3" y="1607.8" width="9.4" height="9.4" class="mk"/>
<rect x="363.5" y="1569.2" width="9.4" height="9.4" class="mk"/>
<rect x="373" y="1563.1" width="9.4" height="9.4" class="mk"/>
<rect x="388.6" y="1537.9" width="9.4" height="9.4" class="mk"/>
<rect x="395.2" y="1546.7" width="9.4" height="9.4" class="mk"/>
<rect x="425.6" y="1604.6" width="9.4" height="9.4" class="mk"/>
<rect x="446.5" y="1557.3" width="9.4" height="9.4" class="mk"/>
<rect x="452.7" y="1523.5" width="9.4" height="9.4" class="mk"/>
<rect x="460.6" y="1536.9" width="9.4" height="9.4" class="mk"/>
<rect x="471.7" y="1524.4" width="9.4" height="9.4" class="mk"/>
<path d="M1026.26 1755.55L1027.62 1754.9L1028.97 1754.24L1030.32 1753.59L1031.67 1752.93L1033.01 1752.27L1034.36 1751.61L1035.7 1750.94L1037.04 1750.27L1038.39 1749.6L1039.73 1748.93L1041.07 1748.26L1042.4 1747.58L1043.74 1746.9L1045.07 1746.22L1046.41 1745.54L1047.74 1744.86L1049.07 1744.17L1050.4 1743.48L1051.73 1742.79L1053.06 1742.1L1054.39 1741.41L1055.71 1740.71L1057.04 1740.02L1058.36 1739.32L1059.69 1738.62L1061.01 1737.92L1062.33 1737.21L1063.65 1736.51L1064.97 1735.8L1066.29 1735.09L1067.6 1734.38L1068.92 1733.67L1070.24 1732.96L1071.55 1732.24L1072.87 1731.53L1074.18 1730.81L1075.49 1730.09L1076.8 1729.37L1078.12 1728.65L1079.43 1727.93L1080.74 1727.21L1082.04 1726.48L1083.35 1725.76L1084.66 1725.03L1085.97 1724.3L1087.28 1723.57L1088.58 1722.84L1089.89 1722.11L1091.19 1721.38L1092.5 1720.65L1093.8 1719.92L1095.1 1719.18L1096.41 1718.45L1097.71 1717.71L1099.01 1716.97L1100.32 1716.24L1101.62 1715.5L1102.92 1714.76L1104.22 1714.02L1105.52 1713.28L1106.82 1712.54L1108.12 1711.8L1109.42 1711.06L1110.72 1710.31L1112.02 1709.57L1113.32 1708.83L1114.62 1708.08L1115.92 1707.34L1117.22 1706.59L1118.52 1705.85L1119.82 1705.11L1121.12 1704.36L1122.42 1703.61L1123.71 1702.87L1125.01 1702.12L1126.31 1701.38L1127.61 1700.63L1128.91 1699.89L1130.21 1699.14L1131.51 1698.39L1132.81 1697.65L1134.11 1696.9L1135.41 1696.16L1136.71 1695.41L1138.01 1694.66L1139.31 1693.92L1140.61 1693.17L1141.91 1692.43L1143.21 1691.68L1144.51 1690.94L1145.81 1690.19L1147.12 1689.45L1148.42 1688.71L1149.72 1687.96L1151.02 1687.22L1152.33 1686.48L1153.63 1685.74L1154.94 1685L1156.24 1684.26L1157.55 1683.52L1158.86 1682.78L1160.16 1682.04L1161.47 1681.3L1162.78 1680.57L1164.09 1679.83L1165.4 1679.09L1166.71 1678.36L1168.02 1677.62L1169.33 1676.89L1170.64 1676.16L1171.95 1675.43L1173.27 1674.7L1174.58 1673.97L1175.9 1673.24L1177.21 1672.51L1178.53 1671.79L1179.85 1671.06L1181.16 1670.34L1182.48 1669.62L1183.8 1668.9L1185.13 1668.18L1186.45 1667.46L1187.77 1666.74L1189.09 1666.02L1190.42 1665.31L1191.75 1664.6L1193.07 1663.89L1194.4 1663.17L1195.73 1662.47L1197.06 1661.76L1198.39 1661.05L1199.73 1660.35L1201.06 1659.65L1202.4 1658.95L1203.73 1658.25L1205.07 1657.55L1206.41 1656.85L1207.75 1656.16L1209.09 1655.47L1210.43 1654.78L1211.78 1654.09L1213.12 1653.4L1214.47 1652.72L1215.82 1652.03L1217.17 1651.35L1218.52 1650.67L1219.87 1650L1221.23 1649.32L1222.58 1648.65L1223.94 1647.98L1225.3 1647.31L1226.66 1646.65L1228.02 1645.98L1229.39 1645.32L1230.75 1644.66L1232.12 1644L1233.49 1643.35L1234.86 1642.7L1236.23 1642.05L1237.6 1641.4L1238.98 1640.76L1240.36 1640.11L1241.73 1639.47L1243.12 1638.84L1244.5 1638.2L1245.88 1637.57L1247.27 1636.94L1248.66 1636.31L1250.05 1635.69L1251.44 1635.07L1252.83 1634.45L1254.23 1633.84L1255.63 1633.22L1257.03 1632.61L1258.43 1632.01L1259.83 1631.4L1261.24 1630.8L1262.65 1630.2L1264.06 1629.61L1265.47 1629.02L1266.88 1628.43L1268.3 1627.85L1269.72 1627.27L1271.13 1626.7L1272.55 1626.13L1273.98 1625.56L1275.4 1625L1276.83 1624.45L1278.25 1623.9L1279.68 1623.36L1281.11 1622.82L1282.54 1622.29L1283.97 1621.76L1285.4 1621.24L1286.84 1620.73L1288.27 1620.23L1289.71 1619.73L1291.15 1619.24L1292.58 1618.75L1294.02 1618.28L1295.46 1617.81L1296.9 1617.35L1298.34 1616.89L1299.79 1616.45L1301.23 1616.01L1302.67 1615.59L1304.11 1615.17L1305.56 1614.76L1307 1614.36L1308.45 1613.97L1309.89 1613.59L1311.34 1613.22L1312.78 1612.86L1314.23 1612.5L1315.68 1612.16L1317.12 1611.83L1318.57 1611.52L1320.01 1611.21L1321.46 1610.91L1322.91 1610.63L1324.35 1610.35L1325.8 1610.09L1327.24 1609.84L1328.69 1609.61L1330.13 1609.38L1331.58 1609.17L1333.02 1608.97L1334.46 1608.78L1335.91 1608.61L1337.35 1608.45L1338.79 1608.3L1340.23 1608.17L1341.67 1608.05L1343.11 1607.95L1344.55 1607.86L1345.98 1607.78L1347.42 1607.72L1348.85 1607.67L1350.29 1607.64L1351.72 1607.63L1353.15 1607.63L1354.58 1607.64L1356.01 1607.67L1357.44 1607.72L1358.87 1607.78L1360.29 1607.86L1361.72 1607.96L1363.14 1608.07L1364.56 1608.2L1365.98 1608.34L1367.4 1608.5L1368.81 1608.68L1370.23 1608.87L1371.64 1609.08L1373.05 1609.31L1374.46 1609.55L1375.86 1609.81L1377.27 1610.09L1378.67 1610.39L1380.07 1610.7L1381.47 1611.03L1382.87 1611.38L1384.26 1611.74L1385.65 1612.12L1387.04 1612.52L1388.43 1612.94L1389.81 1613.37L1391.19 1613.83L1392.57 1614.3L1393.95 1614.79L1395.32 1615.29L1396.69 1615.82L1398.06 1616.36L1399.43 1616.93L1400.79 1617.51L1402.15 1618.11L1403.5 1618.72L1404.86 1619.36L1406.21 1620.02L1407.56 1620.69L1408.9 1621.39L1410.24 1622.1L1411.58 1622.83L1412.91 1623.58L1414.25 1624.35L1415.57 1625.14L1416.9 1625.95L1418.22 1626.78L1419.54 1627.63L1420.85 1628.5L1422.16 1629.39L1423.47 1630.3L1424.77 1631.23L1426.07 1632.18L1427.36 1633.15L1428.65 1634.14L1429.94 1635.15L1431.23 1636.18L1432.5 1637.23L1433.78 1638.3L1435.05 1639.39L1436.32 1640.51L1437.58 1641.64L1438.84 1642.8L1440.09 1643.97L1441.34 1645.17L1442.58 1646.39L1443.83 1647.63L1445.06 1648.89L1446.29 1650.17L1447.52 1651.48L1448.74 1652.81L1449.96 1654.15" style="stroke:#000;stroke-width:1.9;fill:none;stroke-dasharray:7.0 3.05;"/>
<path d="M1202.3 1723.7L1205.6 1720L1219.5 1708.4L1233.4 1692.4L1247.3 1679.2L1261.2 1666.7L1270 1662.5L1278.8 1655.6L1307.3 1640L1328.2 1627.3L1345.6 1615.1L1354.3 1602.1L1363 1587.3L1371.6 1576L1380.3 1565.6L1392.5 1556" style="stroke:#4ddbc9;stroke-width:2.16;fill:none;stroke-dasharray:2.16 3.56;"/>
<path d="M1194.5 1667.5L1202.1 1657L1205.6 1648.6L1219.5 1627.8L1226.4 1622.2L1243.1 1612.9L1254.2 1613.2L1271.7 1612.9L1289.1 1609L1302.1 1603.8L1319.5 1596.9L1332.5 1587.3L1341.2 1568.2L1349.9 1553.4L1358.6 1542.1L1368.2 1531.7L1370.3 1528" style="stroke:#D81B60;stroke-width:2.16;fill:none;stroke-dasharray:2.16 3.56;"/>
<path d="M1175.7 1731.1L1186.8 1720L1198.6 1709.1L1212.5 1695.2L1223 1684.8L1233.4 1675.1L1247.3 1668.8L1257.7 1661.2L1270 1651.4L1278.8 1647.1L1289.1 1640L1310.8 1626.4L1335.1 1613.4L1345.6 1594.3L1356.9 1576L1371.6 1563.8L1385.5 1549.5" style="stroke:#4ddbc9;stroke-width:2.2;fill:none;stroke-linejoin:round;"/>
<path d="M1171.5 1673.7L1177.8 1659.1L1184.7 1643.1L1191.7 1629.9L1201.4 1620.2L1212.5 1613.2L1225.1 1604.9L1234.8 1604.9L1247.3 1604.2L1261.2 1602.1L1276.1 1599.9L1293.4 1594.3L1310.8 1586.4L1321.2 1580.4L1340.4 1545.6L1357.7 1524.8L1364.5 1519" style="stroke:#D81B60;stroke-width:2.2;fill:none;stroke-linejoin:round;"/>
<path d="M1164.6 1653.2V1710.5M1172.6 1626.1V1679.6M1180.8 1611.5V1625.4M1191 1609.7V1665.7M1190.8 1755V1877M1201.3 1694.5V1877M1203.4 1665V1735.9M1212.5 1632.7V1877M1214 1694.5V1877M1225.4 1620.8V1654.2M1227.9 1659.4V1743.1M1232.5 1651.4V1725.7M1240.6 1604.9V1877M1244.3 1637.5V1719.7M1258.2 1621.2V1877M1278.6 1583.4V1646M1278.5 1544.9V1565.6M1292.6 1583.4V1628.1M1288.2 1568V1583.4M1304.7 1571.7V1616.8M1310.8 1559.5V1583.4M1316.9 1559.5V1610.8M1327.8 1535V1548.6" class="eb"/>
<path d="M1159.5 1653.2h10.2M1159.5 1710.5h10.2M1167.5 1626.1h10.2M1167.5 1679.6h10.2M1175.7 1611.5h10.2M1175.7 1625.4h10.2M1185.9 1609.7h10.2M1185.9 1665.7h10.2M1185.7 1755h10.2M1196.2 1694.5h10.2M1198.3 1665h10.2M1198.3 1735.9h10.2M1207.4 1632.7h10.2M1208.9 1694.5h10.2M1220.3 1620.8h10.2M1220.3 1654.2h10.2M1222.8 1659.4h10.2M1222.8 1743.1h10.2M1227.4 1651.4h10.2M1227.4 1725.7h10.2M1235.5 1604.9h10.2M1239.2 1637.5h10.2M1239.2 1719.7h10.2M1253.1 1621.2h10.2M1273.5 1583.4h10.2M1273.5 1646h10.2M1273.4 1544.9h10.2M1273.4 1565.6h10.2M1287.5 1583.4h10.2M1287.5 1628.1h10.2M1283.1 1568h10.2M1283.1 1583.4h10.2M1299.6 1571.7h10.2M1299.6 1616.8h10.2M1305.7 1559.5h10.2M1305.7 1583.4h10.2M1311.8 1559.5h10.2M1311.8 1610.8h10.2M1322.7 1535h10.2M1322.7 1548.6h10.2" class="cap"/>
<path d="M1212 1639.8L1207.3 1649.2L1216.7 1649.2Z" class="mk"/>
<path d="M1203.4 1686.3L1198.7 1695.7L1208.1 1695.7Z" class="mk"/>
<path d="M1232.7 1674L1228 1683.4L1237.4 1683.4Z" class="mk"/>
<path d="M1244.6 1662.3L1239.9 1671.7L1249.3 1671.7Z" class="mk"/>
<path d="M1258.1 1648.8L1253.4 1658.2L1262.8 1658.2Z" class="mk"/>
<path d="M1258.1 1699.7L1253.4 1709.1L1262.8 1709.1Z" class="mk"/>
<path d="M1240.5 1753.6L1235.8 1763L1245.2 1763Z" class="mk"/>
<path d="M1278.6 1603.6L1273.9 1613L1283.3 1613Z" class="mk"/>
<path d="M1292.8 1598.3L1288.1 1607.7L1297.5 1607.7Z" class="mk"/>
<path d="M1304.7 1586.8L1300 1596.2L1309.4 1596.2Z" class="mk"/>
<path d="M1317 1576.3L1312.3 1585.7L1321.7 1585.7Z" class="mk"/>
<path d="M1337.5 1527.1L1332.8 1536.5L1342.2 1536.5Z" class="mk"/>
<path d="M1363.8 1505.1L1359.1 1514.5L1368.5 1514.5Z" class="mk"/>
<path d="M1370.9 1499.8L1366.2 1509.2L1375.6 1509.2Z" class="mk"/>
<path d="M1382.1 1498.3L1377.4 1507.7L1386.8 1507.7Z" class="mk"/>
<rect x="1159.6" y="1670.3" width="9.4" height="9.4" class="mk"/>
<rect x="1167.9" y="1652.8" width="9.4" height="9.4" class="mk"/>
<rect x="1167.9" y="1630.3" width="9.4" height="9.4" class="mk"/>
<rect x="1176.1" y="1613.9" width="9.4" height="9.4" class="mk"/>
<rect x="1186.3" y="1613.5" width="9.4" height="9.4" class="mk"/>
<rect x="1185.7" y="1641.3" width="9.4" height="9.4" class="mk"/>
<rect x="1207.8" y="1664.8" width="9.4" height="9.4" class="mk"/>
<rect x="1220.7" y="1630.3" width="9.4" height="9.4" class="mk"/>
<rect x="1235.7" y="1615.1" width="9.4" height="9.4" class="mk"/>
<rect x="1223.1" y="1683.3" width="9.4" height="9.4" class="mk"/>
<rect x="1209.3" y="1744.5" width="9.4" height="9.4" class="mk"/>
<rect x="1258.8" y="1576.3" width="9.4" height="9.4" class="mk"/>
<rect x="1273.9" y="1549.3" width="9.4" height="9.4" class="mk"/>
<rect x="1283.6" y="1571" width="9.4" height="9.4" class="mk"/>
<rect x="1300" y="1548.8" width="9.4" height="9.4" class="mk"/>
<rect x="1306.1" y="1564.8" width="9.4" height="9.4" class="mk"/>
<rect x="1323.1" y="1536.3" width="9.4" height="9.4" class="mk"/>
<rect x="1340.8" y="1522.3" width="9.4" height="9.4" class="mk"/>
<rect x="1360.1" y="1519.3" width="9.4" height="9.4" class="mk"/>
<rect x="1377.4" y="1511.1" width="9.4" height="9.4" class="mk"/>
<path d="M1167.5 1643.8h10.2M1185.9 1630.6h10.2M1196.2 1753.5h10.2M1207.4 1638.6h10.2M1207.4 1664.6h10.2M1207.4 1694.5h10.2M1208.3 1728.1h10.2M1208.3 1734.7h10.2M1253.2 1719.4h10.2M1235.5 1719.7h10.2M1235.5 1637.5h10.2" class="cap"/>
<rect x="104" y="80.6" width="709.4" height="414.8" class="spine"/>
<text x="104" y="532.4" font-size="25.5" text-anchor="middle" font-family="'DejaVu Sans', 'Liberation Sans', sans-serif">0</text>
<text x="205.34" y="532.4" font-size="25.5" text-anchor="middle" font-family="'DejaVu Sans', 'Liberation Sans', sans-serif">20</text>
<text x="306.69" y="532.4" font-size="25.5" text-anchor="middle" font-family="'DejaVu Sans', 'Liberation Sans', sans-serif">40</text>
<text x="408.03" y="532.4" font-size="25.5" text-anchor="middle" font-family="'DejaVu Sans', 'Liberation Sans', sans-serif">60</text>
<text x="509.37" y="532.4" font-size="25.5" text-anchor="middle" font-family="'DejaVu Sans', 'Liberation Sans', sans-serif">80</text>
<text x="610.71" y="532.4" font-size="25.5" text-anchor="middle" font-family="'DejaVu Sans', 'Liberation Sans', sans-serif">100</text>
<text x="712.06" y="532.4" font-size="25.5" text-anchor="middle" font-family="'DejaVu Sans', 'Liberation Sans', sans-serif">120</text>
<text x="813.4" y="532.4" font-size="25.5" text-anchor="middle" font-family="'DejaVu Sans', 'Liberation Sans', sans-serif">140</text>
<text x="86.6" y="504.7" font-size="25.5" text-anchor="end" font-family="'DejaVu Sans', 'Liberation Sans', sans-serif">0</text>
<text x="86.6" y="435.57" font-size="25.5" text-anchor="end" font-family="'DejaVu Sans', 'Liberation Sans', sans-serif">10</text>
<text x="86.6" y="366.43" font-size="25.5" text-anchor="end" font-family="'DejaVu Sans', 'Liberation Sans', sans-serif">20</text>
<text x="86.6" y="297.3" font-size="25.5" text-anchor="end" font-family="'DejaVu Sans', 'Liberation Sans', sans-serif">30</text>
<text x="86.6" y="228.17" font-size="25.5" text-anchor="end" font-family="'DejaVu Sans', 'Liberation Sans', sans-serif">40</text>
<text x="86.6" y="159.03" font-size="25.5" text-anchor="end" font-family="'DejaVu Sans', 'Liberation Sans', sans-serif">50</text>
<text x="86.6" y="89.9" font-size="25.5" text-anchor="end" font-family="'DejaVu Sans', 'Liberation Sans', sans-serif">60</text>
<path d="M104 495.4v8.9M205.34 495.4v8.9M306.69 495.4v8.9M408.03 495.4v8.9M509.37 495.4v8.9M610.71 495.4v8.9M712.06 495.4v8.9M813.4 495.4v8.9M104 495.4h-8.9M104 426.27h-8.9M104 357.13h-8.9M104 288h-8.9M104 218.87h-8.9M104 149.73h-8.9M104 80.6h-8.9" class="tick"/>
<text x="458.7" y="568.8" font-size="25.5" text-anchor="middle" font-family="'DejaVu Sans', 'Liberation Sans', sans-serif">Pressure [Pa]</text>
<g transform="translate(40 288) rotate(-90)">
<text x="-82.64" y="0" font-size="25.5" font-family="'DejaVu Sans', 'Liberation Sans', sans-serif" font-style="italic">v</text>
<text x="-67.55" y="4.2" font-size="17.85" font-family="'DejaVu Sans', 'Liberation Sans', sans-serif" font-style="italic">mean</text>
<text x="-8.82" y="0" font-size="25.5" font-family="'DejaVu Sans', 'Liberation Sans', sans-serif">[mm/s]</text>
</g>
<rect x="974.8" y="80.6" width="709.3" height="414.8" class="spine"/>
<text x="974.8" y="532.4" font-size="25.5" text-anchor="middle" font-family="'DejaVu Sans', 'Liberation Sans', sans-serif">0</text>
<text x="1076.13" y="532.4" font-size="25.5" text-anchor="middle" font-family="'DejaVu Sans', 'Liberation Sans', sans-serif">20</text>
<text x="1177.46" y="532.4" font-size="25.5" text-anchor="middle" font-family="'DejaVu Sans', 'Liberation Sans', sans-serif">40</text>
<text x="1278.79" y="532.4" font-size="25.5" text-anchor="middle" font-family="'DejaVu Sans', 'Liberation Sans', sans-serif">60</text>
<text x="1380.11" y="532.4" font-size="25.5" text-anchor="middle" font-family="'DejaVu Sans', 'Liberation Sans', sans-serif">80</text>
<text x="1481.44" y="532.4" font-size="25.5" text-anchor="middle" font-family="'DejaVu Sans', 'Liberation Sans', sans-serif">100</text>
<text x="1582.77" y="532.4" font-size="25.5" text-anchor="middle" font-family="'DejaVu Sans', 'Liberation Sans', sans-serif">120</text>
<text x="1684.1" y="532.4" font-size="25.5" text-anchor="middle" font-family="'DejaVu Sans', 'Liberation Sans', sans-serif">140</text>
<text x="957.4" y="504.7" font-size="25.5" text-anchor="end" font-family="'DejaVu Sans', 'Liberation Sans', sans-serif">0</text>
<text x="957.4" y="435.57" font-size="25.5" text-anchor="end" font-family="'DejaVu Sans', 'Liberation Sans', sans-serif">10</text>
<text x="957.4" y="366.43" font-size="25.5" text-anchor="end" font-family="'DejaVu Sans', 'Liberation Sans', sans-serif">20</text>
<text x="957.4" y="297.3" font-size="25.5" text-anchor="end" font-family="'DejaVu Sans', 'Liberation Sans', sans-serif">30</text>
<text x="957.4" y="228.17" font-size="25.5" text-anchor="end" font-family="'DejaVu Sans', 'Liberation Sans', sans-serif">40</text>
<text x="957.4" y="159.03" font-size="25.5" text-anchor="end" font-family="'DejaVu Sans', 'Liberation Sans', sans-serif">50</text>
<text x="957.4" y="89.9" font-size="25.5" text-anchor="end" font-family="'DejaVu Sans', 'Liberation Sans', sans-serif">60</text>
<path d="M974.8 495.4v8.9M1076.13 495.4v8.9M1177.46 495.4v8.9M1278.79 495.4v8.9M1380.11 495.4v8.9M1481.44 495.4v8.9M1582.77 495.4v8.9M1684.1 495.4v8.9M974.8 495.4h-8.9M974.8 426.27h-8.9M974.8 357.13h-8.9M974.8 288h-8.9M974.8 218.87h-8.9M974.8 149.73h-8.9M974.8 80.6h-8.9" class="tick"/>
<text x="1329.45" y="568.8" font-size="25.5" text-anchor="middle" font-family="'DejaVu Sans', 'Liberation Sans', sans-serif">Pressure [Pa]</text>
<g transform="translate(910.8 288) rotate(-90)">
<text x="-82.64" y="0" font-size="25.5" font-family="'DejaVu Sans', 'Liberation Sans', sans-serif" font-style="italic">v</text>
<text x="-67.55" y="4.2" font-size="17.85" font-family="'DejaVu Sans', 'Liberation Sans', sans-serif" font-style="italic">mean</text>
<text x="-8.82" y="0" font-size="25.5" font-family="'DejaVu Sans', 'Liberation Sans', sans-serif">[mm/s]</text>
</g>
<rect x="104" y="770.6" width="709.4" height="414.8" class="spine"/>
<text x="104" y="1222.4" font-size="25.5" text-anchor="middle" font-family="'DejaVu Sans', 'Liberation Sans', sans-serif">0</text>
<text x="205.34" y="1222.4" font-size="25.5" text-anchor="middle" font-family="'DejaVu Sans', 'Liberation Sans', sans-serif">20</text>
<text x="306.69" y="1222.4" font-size="25.5" text-anchor="middle" font-family="'DejaVu Sans', 'Liberation Sans', sans-serif">40</text>
<text x="408.03" y="1222.4" font-size="25.5" text-anchor="middle" font-family="'DejaVu Sans', 'Liberation Sans', sans-serif">60</text>
<text x="509.37" y="1222.4" font-size="25.5" text-anchor="middle" font-family="'DejaVu Sans', 'Liberation Sans', sans-serif">80</text>
<text x="610.71" y="1222.4" font-size="25.5" text-anchor="middle" font-family="'DejaVu Sans', 'Liberation Sans', sans-serif">100</text>
<text x="712.06" y="1222.4" font-size="25.5" text-anchor="middle" font-family="'DejaVu Sans', 'Liberation Sans', sans-serif">120</text>
<text x="813.4" y="1222.4" font-size="25.5" text-anchor="middle" font-family="'DejaVu Sans', 'Liberation Sans', sans-serif">140</text>
<text x="86.6" y="1194.7" font-size="25.5" text-anchor="end" font-family="'DejaVu Sans', 'Liberation Sans', sans-serif">0</text>
<text x="86.6" y="1125.57" font-size="25.5" text-anchor="end" font-family="'DejaVu Sans', 'Liberation Sans', sans-serif">10</text>
<text x="86.6" y="1056.43" font-size="25.5" text-anchor="end" font-family="'DejaVu Sans', 'Liberation Sans', sans-serif">20</text>
<text x="86.6" y="987.3" font-size="25.5" text-anchor="end" font-family="'DejaVu Sans', 'Liberation Sans', sans-serif">30</text>
<text x="86.6" y="918.17" font-size="25.5" text-anchor="end" font-family="'DejaVu Sans', 'Liberation Sans', sans-serif">40</text>
<text x="86.6" y="849.03" font-size="25.5" text-anchor="end" font-family="'DejaVu Sans', 'Liberation Sans', sans-serif">50</text>
<text x="86.6" y="779.9" font-size="25.5" text-anchor="end" font-family="'DejaVu Sans', 'Liberation Sans', sans-serif">60</text>
<path d="M104 1185.4v8.9M205.34 1185.4v8.9M306.69 1185.4v8.9M408.03 1185.4v8.9M509.37 1185.4v8.9M610.71 1185.4v8.9M712.06 1185.4v8.9M813.4 1185.4v8.9M104 1185.4h-8.9M104 1116.27h-8.9M104 1047.13h-8.9M104 978h-8.9M104 908.87h-8.9M104 839.73h-8.9M104 770.6h-8.9" class="tick"/>
<text x="458.7" y="1258.8" font-size="25.5" text-anchor="middle" font-family="'DejaVu Sans', 'Liberation Sans', sans-serif">Pressure [Pa]</text>
<g transform="translate(40 978) rotate(-90)">
<text x="-82.64" y="0" font-size="25.5" font-family="'DejaVu Sans', 'Liberation Sans', sans-serif" font-style="italic">v</text>
<text x="-67.55" y="4.2" font-size="17.85" font-family="'DejaVu Sans', 'Liberation Sans', sans-serif" font-style="italic">mean</text>
<text x="-8.82" y="0" font-size="25.5" font-family="'DejaVu Sans', 'Liberation Sans', sans-serif">[mm/s]</text>
</g>
<rect x="974.8" y="770.6" width="709.3" height="414.8" class="spine"/>
<text x="974.8" y="1222.4" font-size="25.5" text-anchor="middle" font-family="'DejaVu Sans', 'Liberation Sans', sans-serif">0</text>
<text x="1076.13" y="1222.4" font-size="25.5" text-anchor="middle" font-family="'DejaVu Sans', 'Liberation Sans', sans-serif">20</text>
<text x="1177.46" y="1222.4" font-size="25.5" text-anchor="middle" font-family="'DejaVu Sans', 'Liberation Sans', sans-serif">40</text>
<text x="1278.79" y="1222.4" font-size="25.5" text-anchor="middle" font-family="'DejaVu Sans', 'Liberation Sans', sans-serif">60</text>
<text x="1380.11" y="1222.4" font-size="25.5" text-anchor="middle" font-family="'DejaVu Sans', 'Liberation Sans', sans-serif">80</text>
<text x="1481.44" y="1222.4" font-size="25.5" text-anchor="middle" font-family="'DejaVu Sans', 'Liberation Sans', sans-serif">100</text>
<text x="1582.77" y="1222.4" font-size="25.5" text-anchor="middle" font-family="'DejaVu Sans', 'Liberation Sans', sans-serif">120</text>
<text x="1684.1" y="1222.4" font-size="25.5" text-anchor="middle" font-family="'DejaVu Sans', 'Liberation Sans', sans-serif">140</text>
<text x="957.4" y="1194.7" font-size="25.5" text-anchor="end" font-family="'DejaVu Sans', 'Liberation Sans', sans-serif">0</text>
<text x="957.4" y="1125.57" font-size="25.5" text-anchor="end" font-family="'DejaVu Sans', 'Liberation Sans', sans-serif">10</text>
<text x="957.4" y="1056.43" font-size="25.5" text-anchor="end" font-family="'DejaVu Sans', 'Liberation Sans', sans-serif">20</text>
<text x="957.4" y="987.3" font-size="25.5" text-anchor="end" font-family="'DejaVu Sans', 'Liberation Sans', sans-serif">30</text>
<text x="957.4" y="918.17" font-size="25.5" text-anchor="end" font-family="'DejaVu Sans', 'Liberation Sans', sans-serif">40</text>
<text x="957.4" y="849.03" font-size="25.5" text-anchor="end" font-family="'DejaVu Sans', 'Liberation Sans', sans-serif">50</text>
<text x="957.4" y="779.9" font-size="25.5" text-anchor="end" font-family="'DejaVu Sans', 'Liberation Sans', sans-serif">60</text>
<path d="M974.8 1185.4v8.9M1076.13 1185.4v8.9M1177.46 1185.4v8.9M1278.79 1185.4v8.9M1380.11 1185.4v8.9M1481.44 1185.4v8.9M1582.77 1185.4v8.9M1684.1 1185.4v8.9M974.8 1185.4h-8.9M974.8 1116.27h-8.9M974.8 1047.13h-8.9M974.8 978h-8.9M974.8 908.87h-8.9M974.8 839.73h-8.9M974.8 770.6h-8.9" class="tick"/>
<text x="1329.45" y="1258.8" font-size="25.5" text-anchor="middle" font-family="'DejaVu Sans', 'Liberation Sans', sans-serif">Pressure [Pa]</text>
<g transform="translate(910.8 978) rotate(-90)">
<text x="-82.64" y="0" font-size="25.5" font-family="'DejaVu Sans', 'Liberation Sans', sans-serif" font-style="italic">v</text>
<text x="-67.55" y="4.2" font-size="17.85" font-family="'DejaVu Sans', 'Liberation Sans', sans-serif" font-style="italic">mean</text>
<text x="-8.82" y="0" font-size="25.5" font-family="'DejaVu Sans', 'Liberation Sans', sans-serif">[mm/s]</text>
</g>
<rect x="126.1" y="1460.6" width="711.4" height="416.2" class="spine"/>
<path d="M232.9 1876.8v8.9M500.95 1876.8v8.9M769 1876.8v8.9M126.1 1876.79h-8.9M126.1 1738.06h-8.9M126.1 1599.33h-8.9M126.1 1460.6h-8.9" class="tick"/>
<path d="M126.23 1876.8v5.1M152.21 1876.8v5.1M173.43 1876.8v5.1M191.38 1876.8v5.1M206.92 1876.8v5.1M220.63 1876.8v5.1M313.59 1876.8v5.1M360.79 1876.8v5.1M394.28 1876.8v5.1M420.26 1876.8v5.1M441.48 1876.8v5.1M459.43 1876.8v5.1M474.97 1876.8v5.1M488.68 1876.8v5.1M581.64 1876.8v5.1M628.84 1876.8v5.1M662.33 1876.8v5.1M688.31 1876.8v5.1M709.53 1876.8v5.1M727.48 1876.8v5.1M743.02 1876.8v5.1M756.73 1876.8v5.1M126.1 1835.03h-5.1M126.1 1810.6h-5.1M126.1 1793.27h-5.1M126.1 1779.82h-5.1M126.1 1768.84h-5.1M126.1 1759.55h-5.1M126.1 1751.5h-5.1M126.1 1744.41h-5.1M126.1 1696.3h-5.1M126.1 1671.87h-5.1M126.1 1654.54h-5.1M126.1 1641.09h-5.1M126.1 1630.11h-5.1M126.1 1620.82h-5.1M126.1 1612.77h-5.1M126.1 1605.68h-5.1M126.1 1557.57h-5.1M126.1 1533.14h-5.1M126.1 1515.81h-5.1M126.1 1502.36h-5.1M126.1 1491.38h-5.1M126.1 1482.09h-5.1M126.1 1474.04h-5.1M126.1 1466.95h-5.1" class="mtick"/>
<text x="233.5" y="1915" font-size="25.5" text-anchor="middle" font-family="'DejaVu Sans', 'Liberation Sans', sans-serif">10<tspan font-size="17.85" dy="-9.4">&#8722;1</tspan></text>
<text x="501.55" y="1915" font-size="25.5" text-anchor="middle" font-family="'DejaVu Sans', 'Liberation Sans', sans-serif">10<tspan font-size="17.85" dy="-9.4">0</tspan></text>
<text x="769.6" y="1915" font-size="25.5" text-anchor="middle" font-family="'DejaVu Sans', 'Liberation Sans', sans-serif">10<tspan font-size="17.85" dy="-9.4">1</tspan></text>
<text x="109.3" y="1887.29" font-size="25.5" text-anchor="end" font-family="'DejaVu Sans', 'Liberation Sans', sans-serif">10<tspan font-size="17.85" dy="-9.1">1</tspan></text>
<text x="109.3" y="1748.56" font-size="25.5" text-anchor="end" font-family="'DejaVu Sans', 'Liberation Sans', sans-serif">10<tspan font-size="17.85" dy="-9.1">2</tspan></text>
<text x="109.3" y="1609.83" font-size="25.5" text-anchor="end" font-family="'DejaVu Sans', 'Liberation Sans', sans-serif">10<tspan font-size="17.85" dy="-9.1">3</tspan></text>
<text x="109.3" y="1471.1" font-size="25.5" text-anchor="end" font-family="'DejaVu Sans', 'Liberation Sans', sans-serif">10<tspan font-size="17.85" dy="-9.1">4</tspan></text>
<text x="443.63" y="1949.4" font-size="25.5" font-family="'DejaVu Sans', 'Liberation Sans', sans-serif" font-style="italic">u</text>
<text x="459.79" y="1953.6" font-size="17.85" font-family="'DejaVu Sans', 'Liberation Sans', sans-serif" font-style="italic">i</text>
<text x="464.75" y="1949.4" font-size="25.5" font-family="'DejaVu Sans', 'Liberation Sans', sans-serif">/</text>
<text x="473.34" y="1949.4" font-size="25.5" font-family="'DejaVu Sans', 'Liberation Sans', sans-serif" font-style="italic">v</text>
<text x="488.43" y="1953.6" font-size="17.85" font-family="'DejaVu Sans', 'Liberation Sans', sans-serif" font-style="italic">th,</text>
<text x="515.02" y="1953.6" font-size="17.85" font-family="'DejaVu Sans', 'Liberation Sans', sans-serif" font-style="italic">i</text>
<g transform="translate(41.8 1668.7) rotate(-90)">
<text x="-90.27" y="0" font-size="25.5" font-family="'DejaVu Sans', 'Liberation Sans', sans-serif" font-style="italic">F</text>
<text x="-75.6" y="4.2" font-size="17.85" font-family="'DejaVu Sans', 'Liberation Sans', sans-serif" font-style="italic">id</text>
<text x="-59.31" y="0" font-size="25.5" font-family="'DejaVu Sans', 'Liberation Sans', sans-serif">/</text>
<text x="-50.72" y="0" font-size="25.5" font-family="'DejaVu Sans', 'Liberation Sans', sans-serif" font-style="italic">&#960;</text>
<text x="-35.37" y="0" font-size="25.5" font-family="'DejaVu Sans', 'Liberation Sans', sans-serif" font-style="italic">a</text>
<text x="-19.14" y="-10.1" font-size="17.85" font-family="'DejaVu Sans', 'Liberation Sans', sans-serif">2</text>
<text x="-7.29" y="0" font-size="25.5" font-family="'DejaVu Sans', 'Liberation Sans', sans-serif" font-style="italic">n</text>
<text x="8.88" y="4.2" font-size="17.85" font-family="'DejaVu Sans', 'Liberation Sans', sans-serif" font-style="italic">i</text>
<text x="13.83" y="0" font-size="25.5" font-family="'DejaVu Sans', 'Liberation Sans', sans-serif" font-style="italic">m</text>
<text x="38.67" y="4.2" font-size="17.85" font-family="'DejaVu Sans', 'Liberation Sans', sans-serif" font-style="italic">i</text>
<text x="43.63" y="0" font-size="25.5" font-family="'DejaVu Sans', 'Liberation Sans', sans-serif" font-style="italic">v</text>
<text x="59.72" y="-10.1" font-size="17.85" font-family="'DejaVu Sans', 'Liberation Sans', sans-serif">2</text>
<text x="58.72" y="7" font-size="17.85" font-family="'DejaVu Sans', 'Liberation Sans', sans-serif" font-style="italic">th,</text>
<text x="85.31" y="7" font-size="17.85" font-family="'DejaVu Sans', 'Liberation Sans', sans-serif" font-style="italic">i</text>
</g>
<rect x="996.9" y="1460.6" width="711.1" height="416.2" class="spine"/>
<path d="M1103.7 1876.8v8.9M1371.75 1876.8v8.9M1639.8 1876.8v8.9M996.9 1876.79h-8.9M996.9 1738.06h-8.9M996.9 1599.33h-8.9M996.9 1460.6h-8.9" class="tick"/>
<path d="M997.03 1876.8v5.1M1023.01 1876.8v5.1M1044.23 1876.8v5.1M1062.18 1876.8v5.1M1077.72 1876.8v5.1M1091.43 1876.8v5.1M1184.39 1876.8v5.1M1231.59 1876.8v5.1M1265.08 1876.8v5.1M1291.06 1876.8v5.1M1312.28 1876.8v5.1M1330.23 1876.8v5.1M1345.77 1876.8v5.1M1359.48 1876.8v5.1M1452.44 1876.8v5.1M1499.64 1876.8v5.1M1533.13 1876.8v5.1M1559.11 1876.8v5.1M1580.33 1876.8v5.1M1598.28 1876.8v5.1M1613.82 1876.8v5.1M1627.53 1876.8v5.1M996.9 1835.03h-5.1M996.9 1810.6h-5.1M996.9 1793.27h-5.1M996.9 1779.82h-5.1M996.9 1768.84h-5.1M996.9 1759.55h-5.1M996.9 1751.5h-5.1M996.9 1744.41h-5.1M996.9 1696.3h-5.1M996.9 1671.87h-5.1M996.9 1654.54h-5.1M996.9 1641.09h-5.1M996.9 1630.11h-5.1M996.9 1620.82h-5.1M996.9 1612.77h-5.1M996.9 1605.68h-5.1M996.9 1557.57h-5.1M996.9 1533.14h-5.1M996.9 1515.81h-5.1M996.9 1502.36h-5.1M996.9 1491.38h-5.1M996.9 1482.09h-5.1M996.9 1474.04h-5.1M996.9 1466.95h-5.1" class="mtick"/>
<text x="1104.3" y="1915" font-size="25.5" text-anchor="middle" font-family="'DejaVu Sans', 'Liberation Sans', sans-serif">10<tspan font-size="17.85" dy="-9.4">&#8722;1</tspan></text>
<text x="1372.35" y="1915" font-size="25.5" text-anchor="middle" font-family="'DejaVu Sans', 'Liberation Sans', sans-serif">10<tspan font-size="17.85" dy="-9.4">0</tspan></text>
<text x="1640.4" y="1915" font-size="25.5" text-anchor="middle" font-family="'DejaVu Sans', 'Liberation Sans', sans-serif">10<tspan font-size="17.85" dy="-9.4">1</tspan></text>
<text x="980.1" y="1887.29" font-size="25.5" text-anchor="end" font-family="'DejaVu Sans', 'Liberation Sans', sans-serif">10<tspan font-size="17.85" dy="-9.1">1</tspan></text>
<text x="980.1" y="1748.56" font-size="25.5" text-anchor="end" font-family="'DejaVu Sans', 'Liberation Sans', sans-serif">10<tspan font-size="17.85" dy="-9.1">2</tspan></text>
<text x="980.1" y="1609.83" font-size="25.5" text-anchor="end" font-family="'DejaVu Sans', 'Liberation Sans', sans-serif">10<tspan font-size="17.85" dy="-9.1">3</tspan></text>
<text x="980.1" y="1471.1" font-size="25.5" text-anchor="end" font-family="'DejaVu Sans', 'Liberation Sans', sans-serif">10<tspan font-size="17.85" dy="-9.1">4</tspan></text>
<text x="1314.28" y="1949.4" font-size="25.5" font-family="'DejaVu Sans', 'Liberation Sans', sans-serif" font-style="italic">u</text>
<text x="1330.44" y="1953.6" font-size="17.85" font-family="'DejaVu Sans', 'Liberation Sans', sans-serif" font-style="italic">i</text>
<text x="1335.4" y="1949.4" font-size="25.5" font-family="'DejaVu Sans', 'Liberation Sans', sans-serif">/</text>
<text x="1343.99" y="1949.4" font-size="25.5" font-family="'DejaVu Sans', 'Liberation Sans', sans-serif" font-style="italic">v</text>
<text x="1359.08" y="1953.6" font-size="17.85" font-family="'DejaVu Sans', 'Liberation Sans', sans-serif" font-style="italic">th,</text>
<text x="1385.67" y="1953.6" font-size="17.85" font-family="'DejaVu Sans', 'Liberation Sans', sans-serif" font-style="italic">i</text>
<g transform="translate(912.6 1668.7) rotate(-90)">
<text x="-90.27" y="0" font-size="25.5" font-family="'DejaVu Sans', 'Liberation Sans', sans-serif" font-style="italic">F</text>
<text x="-75.6" y="4.2" font-size="17.85" font-family="'DejaVu Sans', 'Liberation Sans', sans-serif" font-style="italic">id</text>
<text x="-59.31" y="0" font-size="25.5" font-family="'DejaVu Sans', 'Liberation Sans', sans-serif">/</text>
<text x="-50.72" y="0" font-size="25.5" font-family="'DejaVu Sans', 'Liberation Sans', sans-serif" font-style="italic">&#960;</text>
<text x="-35.37" y="0" font-size="25.5" font-family="'DejaVu Sans', 'Liberation Sans', sans-serif" font-style="italic">a</text>
<text x="-19.14" y="-10.1" font-size="17.85" font-family="'DejaVu Sans', 'Liberation Sans', sans-serif">2</text>
<text x="-7.29" y="0" font-size="25.5" font-family="'DejaVu Sans', 'Liberation Sans', sans-serif" font-style="italic">n</text>
<text x="8.88" y="4.2" font-size="17.85" font-family="'DejaVu Sans', 'Liberation Sans', sans-serif" font-style="italic">i</text>
<text x="13.83" y="0" font-size="25.5" font-family="'DejaVu Sans', 'Liberation Sans', sans-serif" font-style="italic">m</text>
<text x="38.67" y="4.2" font-size="17.85" font-family="'DejaVu Sans', 'Liberation Sans', sans-serif" font-style="italic">i</text>
<text x="43.63" y="0" font-size="25.5" font-family="'DejaVu Sans', 'Liberation Sans', sans-serif" font-style="italic">v</text>
<text x="59.72" y="-10.1" font-size="17.85" font-family="'DejaVu Sans', 'Liberation Sans', sans-serif">2</text>
<text x="58.72" y="7" font-size="17.85" font-family="'DejaVu Sans', 'Liberation Sans', sans-serif" font-style="italic">th,</text>
<text x="85.31" y="7" font-size="17.85" font-family="'DejaVu Sans', 'Liberation Sans', sans-serif" font-style="italic">i</text>
</g>
<rect x="536.5" y="93.5" width="263.5" height="272.2" rx="4.5" ry="4.5" fill="#fff" fill-opacity="0.8" stroke="#cccccc" stroke-width="2"/>
<path d="M546 120.3H598" style="stroke:#4ddbc9;stroke-width:1.8;fill:none;"/>
<path d="M546 167.6H598" style="stroke:#4ddbc9;stroke-width:1.8;fill:none;stroke-dasharray:6.6 2.85;"/>
<path d="M546 216.4H598" style="stroke:#D81B60;stroke-width:2.3;fill:none;"/>
<path d="M546 264.9H598" style="stroke:#D81B60;stroke-width:2.3;fill:none;stroke-dasharray:8.5 3.7;"/>
<text x="617.7" y="129.3" font-size="25.5" font-family="'DejaVu Sans', 'Liberation Sans', sans-serif" font-style="italic">F</text>
<text x="631.7" y="136.1" font-size="17.85" font-family="'DejaVu Sans', 'Liberation Sans', sans-serif" font-style="italic">id</text>
<text x="633.4" y="118.1" font-size="17.85" font-family="'DejaVu Sans', 'Liberation Sans', sans-serif" font-style="italic">weak,<tspan dx="3">int</tspan></text>
<text x="745.9" y="129.3" font-size="25.5" font-family="'DejaVu Sans', 'Liberation Sans', sans-serif">(-)</text>
<text x="617.7" y="177.25" font-size="25.5" font-family="'DejaVu Sans', 'Liberation Sans', sans-serif" font-style="italic">F</text>
<text x="631.7" y="184.05" font-size="17.85" font-family="'DejaVu Sans', 'Liberation Sans', sans-serif" font-style="italic">id</text>
<text x="633.4" y="166.05" font-size="17.85" font-family="'DejaVu Sans', 'Liberation Sans', sans-serif" font-style="italic">weak,<tspan dx="3">int</tspan></text>
<text x="745.9" y="177.25" font-size="25.5" font-family="'DejaVu Sans', 'Liberation Sans', sans-serif">(+)</text>
<text x="617.7" y="225.2" font-size="25.5" font-family="'DejaVu Sans', 'Liberation Sans', sans-serif" font-style="italic">F</text>
<text x="631.7" y="232" font-size="17.85" font-family="'DejaVu Sans', 'Liberation Sans', sans-serif" font-style="italic">id</text>
<text x="633.4" y="212" font-size="17.85" font-family="'DejaVu Sans', 'Liberation Sans', sans-serif" font-style="italic">hybrid</text>
<text x="749.2" y="225.2" font-size="25.5" font-family="'DejaVu Sans', 'Liberation Sans', sans-serif">(-)</text>
<text x="617.7" y="273.15" font-size="25.5" font-family="'DejaVu Sans', 'Liberation Sans', sans-serif" font-style="italic">F</text>
<text x="631.7" y="279.95" font-size="17.85" font-family="'DejaVu Sans', 'Liberation Sans', sans-serif" font-style="italic">id</text>
<text x="633.4" y="259.95" font-size="17.85" font-family="'DejaVu Sans', 'Liberation Sans', sans-serif" font-style="italic">hybrid</text>
<text x="749.2" y="273.15" font-size="25.5" font-family="'DejaVu Sans', 'Liberation Sans', sans-serif">(+)</text>
<path d="M572 292.3V317.4" class="eb"/>
<path d="M566.9 292.3h10.2M566.9 317.4h10.2" class="cap"/>
<path d="M572 300.15L567.3 309.55L576.7 309.55Z" class="mk"/>
<path d="M572 329.5V354.6" class="eb"/>
<path d="M566.9 329.5h10.2M566.9 354.6h10.2" class="cap"/>
<rect x="567.3" y="337.35" width="9.4" height="9.4" class="mk"/>
<text x="617.7" y="314" font-size="25.5" text-anchor="start" font-family="'DejaVu Sans', 'Liberation Sans', sans-serif">Exp. Data (-)</text>
<text x="617.7" y="351" font-size="25.5" text-anchor="start" font-family="'DejaVu Sans', 'Liberation Sans', sans-serif">Exp. Data (+)</text>
<rect x="1407.3" y="93.5" width="263.5" height="272.2" rx="4.5" ry="4.5" fill="#fff" fill-opacity="0.8" stroke="#cccccc" stroke-width="2"/>
<path d="M1416.8 120.3H1468.8" style="stroke:#4ddbc9;stroke-width:1.8;fill:none;"/>
<path d="M1416.8 167.6H1468.8" style="stroke:#4ddbc9;stroke-width:1.8;fill:none;stroke-dasharray:6.6 2.85;"/>
<path d="M1416.8 216.4H1468.8" style="stroke:#D81B60;stroke-width:2.3;fill:none;"/>
<path d="M1416.8 264.9H1468.8" style="stroke:#D81B60;stroke-width:2.3;fill:none;stroke-dasharray:8.5 3.7;"/>
<text x="1488.5" y="129.3" font-size="25.5" font-family="'DejaVu Sans', 'Liberation Sans', sans-serif" font-style="italic">F</text>
<text x="1502.5" y="136.1" font-size="17.85" font-family="'DejaVu Sans', 'Liberation Sans', sans-serif" font-style="italic">id</text>
<text x="1504.2" y="118.1" font-size="17.85" font-family="'DejaVu Sans', 'Liberation Sans', sans-serif" font-style="italic">weak,<tspan dx="3">int</tspan></text>
<text x="1616.7" y="129.3" font-size="25.5" font-family="'DejaVu Sans', 'Liberation Sans', sans-serif">(-)</text>
<text x="1488.5" y="177.25" font-size="25.5" font-family="'DejaVu Sans', 'Liberation Sans', sans-serif" font-style="italic">F</text>
<text x="1502.5" y="184.05" font-size="17.85" font-family="'DejaVu Sans', 'Liberation Sans', sans-serif" font-style="italic">id</text>
<text x="1504.2" y="166.05" font-size="17.85" font-family="'DejaVu Sans', 'Liberation Sans', sans-serif" font-style="italic">weak,<tspan dx="3">int</tspan></text>
<text x="1616.7" y="177.25" font-size="25.5" font-family="'DejaVu Sans', 'Liberation Sans', sans-serif">(+)</text>
<text x="1488.5" y="225.2" font-size="25.5" font-family="'DejaVu Sans', 'Liberation Sans', sans-serif" font-style="italic">F</text>
<text x="1502.5" y="232" font-size="17.85" font-family="'DejaVu Sans', 'Liberation Sans', sans-serif" font-style="italic">id</text>
<text x="1504.2" y="212" font-size="17.85" font-family="'DejaVu Sans', 'Liberation Sans', sans-serif" font-style="italic">hybrid</text>
<text x="1620" y="225.2" font-size="25.5" font-family="'DejaVu Sans', 'Liberation Sans', sans-serif">(-)</text>
<text x="1488.5" y="273.15" font-size="25.5" font-family="'DejaVu Sans', 'Liberation Sans', sans-serif" font-style="italic">F</text>
<text x="1502.5" y="279.95" font-size="17.85" font-family="'DejaVu Sans', 'Liberation Sans', sans-serif" font-style="italic">id</text>
<text x="1504.2" y="259.95" font-size="17.85" font-family="'DejaVu Sans', 'Liberation Sans', sans-serif" font-style="italic">hybrid</text>
<text x="1620" y="273.15" font-size="25.5" font-family="'DejaVu Sans', 'Liberation Sans', sans-serif">(+)</text>
<path d="M1442.8 292.3V317.4" class="eb"/>
<path d="M1437.7 292.3h10.2M1437.7 317.4h10.2" class="cap"/>
<path d="M1442.8 300.15L1438.1 309.55L1447.5 309.55Z" class="mk"/>
<path d="M1442.8 329.5V354.6" class="eb"/>
<path d="M1437.7 329.5h10.2M1437.7 354.6h10.2" class="cap"/>
<rect x="1438.1" y="337.35" width="9.4" height="9.4" class="mk"/>
<text x="1488.5" y="314" font-size="25.5" text-anchor="start" font-family="'DejaVu Sans', 'Liberation Sans', sans-serif">Exp. Data (-)</text>
<text x="1488.5" y="351" font-size="25.5" text-anchor="start" font-family="'DejaVu Sans', 'Liberation Sans', sans-serif">Exp. Data (+)</text>
<rect x="536.5" y="783.5" width="263.5" height="272.2" rx="4.5" ry="4.5" fill="#fff" fill-opacity="0.8" stroke="#cccccc" stroke-width="2"/>
<path d="M546 810.3H598" style="stroke:#4ddbc9;stroke-width:1.8;fill:none;"/>
<path d="M546 857.6H598" style="stroke:#4ddbc9;stroke-width:1.8;fill:none;stroke-dasharray:6.6 2.85;"/>
<path d="M546 906.4H598" style="stroke:#D81B60;stroke-width:2.3;fill:none;"/>
<path d="M546 954.9H598" style="stroke:#D81B60;stroke-width:2.3;fill:none;stroke-dasharray:8.5 3.7;"/>
<text x="617.7" y="819.3" font-size="25.5" font-family="'DejaVu Sans', 'Liberation Sans', sans-serif" font-style="italic">F</text>
<text x="631.7" y="826.1" font-size="17.85" font-family="'DejaVu Sans', 'Liberation Sans', sans-serif" font-style="italic">id</text>
<text x="633.4" y="808.1" font-size="17.85" font-family="'DejaVu Sans', 'Liberation Sans', sans-serif" font-style="italic">weak,<tspan dx="3">int</tspan></text>
<text x="745.9" y="819.3" font-size="25.5" font-family="'DejaVu Sans', 'Liberation Sans', sans-serif">(-)</text>
<text x="617.7" y="867.25" font-size="25.5" font-family="'DejaVu Sans', 'Liberation Sans', sans-serif" font-style="italic">F</text>
<text x="631.7" y="874.05" font-size="17.85" font-family="'DejaVu Sans', 'Liberation Sans', sans-serif" font-style="italic">id</text>
<text x="633.4" y="856.05" font-size="17.85" font-family="'DejaVu Sans', 'Liberation Sans', sans-serif" font-style="italic">weak,<tspan dx="3">int</tspan></text>
<text x="745.9" y="867.25" font-size="25.5" font-family="'DejaVu Sans', 'Liberation Sans', sans-serif">(+)</text>
<text x="617.7" y="915.2" font-size="25.5" font-family="'DejaVu Sans', 'Liberation Sans', sans-serif" font-style="italic">F</text>
<text x="631.7" y="922" font-size="17.85" font-family="'DejaVu Sans', 'Liberation Sans', sans-serif" font-style="italic">id</text>
<text x="633.4" y="902" font-size="17.85" font-family="'DejaVu Sans', 'Liberation Sans', sans-serif" font-style="italic">hybrid</text>
<text x="749.2" y="915.2" font-size="25.5" font-family="'DejaVu Sans', 'Liberation Sans', sans-serif">(-)</text>
<text x="617.7" y="963.15" font-size="25.5" font-family="'DejaVu Sans', 'Liberation Sans', sans-serif" font-style="italic">F</text>
<text x="631.7" y="969.95" font-size="17.85" font-family="'DejaVu Sans', 'Liberation Sans', sans-serif" font-style="italic">id</text>
<text x="633.4" y="949.95" font-size="17.85" font-family="'DejaVu Sans', 'Liberation Sans', sans-serif" font-style="italic">hybrid</text>
<text x="749.2" y="963.15" font-size="25.5" font-family="'DejaVu Sans', 'Liberation Sans', sans-serif">(+)</text>
<path d="M572 982.3V1007.4" class="eb"/>
<path d="M566.9 982.3h10.2M566.9 1007.4h10.2" class="cap"/>
<path d="M572 990.15L567.3 999.55L576.7 999.55Z" class="mk"/>
<path d="M572 1019.5V1044.6" class="eb"/>
<path d="M566.9 1019.5h10.2M566.9 1044.6h10.2" class="cap"/>
<rect x="567.3" y="1027.35" width="9.4" height="9.4" class="mk"/>
<text x="617.7" y="1004" font-size="25.5" text-anchor="start" font-family="'DejaVu Sans', 'Liberation Sans', sans-serif">Exp. Data (-)</text>
<text x="617.7" y="1041" font-size="25.5" text-anchor="start" font-family="'DejaVu Sans', 'Liberation Sans', sans-serif">Exp. Data (+)</text>
<rect x="1407.3" y="783.5" width="263.5" height="272.2" rx="4.5" ry="4.5" fill="#fff" fill-opacity="0.8" stroke="#cccccc" stroke-width="2"/>
<path d="M1416.8 810.3H1468.8" style="stroke:#4ddbc9;stroke-width:1.8;fill:none;"/>
<path d="M1416.8 857.6H1468.8" style="stroke:#4ddbc9;stroke-width:1.8;fill:none;stroke-dasharray:6.6 2.85;"/>
<path d="M1416.8 906.4H1468.8" style="stroke:#D81B60;stroke-width:2.3;fill:none;"/>
<path d="M1416.8 954.9H1468.8" style="stroke:#D81B60;stroke-width:2.3;fill:none;stroke-dasharray:8.5 3.7;"/>
<text x="1488.5" y="819.3" font-size="25.5" font-family="'DejaVu Sans', 'Liberation Sans', sans-serif" font-style="italic">F</text>
<text x="1502.5" y="826.1" font-size="17.85" font-family="'DejaVu Sans', 'Liberation Sans', sans-serif" font-style="italic">id</text>
<text x="1504.2" y="808.1" font-size="17.85" font-family="'DejaVu Sans', 'Liberation Sans', sans-serif" font-style="italic">weak,<tspan dx="3">int</tspan></text>
<text x="1616.7" y="819.3" font-size="25.5" font-family="'DejaVu Sans', 'Liberation Sans', sans-serif">(-)</text>
<text x="1488.5" y="867.25" font-size="25.5" font-family="'DejaVu Sans', 'Liberation Sans', sans-serif" font-style="italic">F</text>
<text x="1502.5" y="874.05" font-size="17.85" font-family="'DejaVu Sans', 'Liberation Sans', sans-serif" font-style="italic">id</text>
<text x="1504.2" y="856.05" font-size="17.85" font-family="'DejaVu Sans', 'Liberation Sans', sans-serif" font-style="italic">weak,<tspan dx="3">int</tspan></text>
<text x="1616.7" y="867.25" font-size="25.5" font-family="'DejaVu Sans', 'Liberation Sans', sans-serif">(+)</text>
<text x="1488.5" y="915.2" font-size="25.5" font-family="'DejaVu Sans', 'Liberation Sans', sans-serif" font-style="italic">F</text>
<text x="1502.5" y="922" font-size="17.85" font-family="'DejaVu Sans', 'Liberation Sans', sans-serif" font-style="italic">id</text>
<text x="1504.2" y="902" font-size="17.85" font-family="'DejaVu Sans', 'Liberation Sans', sans-serif" font-style="italic">hybrid</text>
<text x="1620" y="915.2" font-size="25.5" font-family="'DejaVu Sans', 'Liberation Sans', sans-serif">(-)</text>
<text x="1488.5" y="963.15" font-size="25.5" font-family="'DejaVu Sans', 'Liberation Sans', sans-serif" font-style="italic">F</text>
<text x="1502.5" y="969.95" font-size="17.85" font-family="'DejaVu Sans', 'Liberation Sans', sans-serif" font-style="italic">id</text>
<text x="1504.2" y="949.95" font-size="17.85" font-family="'DejaVu Sans', 'Liberation Sans', sans-serif" font-style="italic">hybrid</text>
<text x="1620" y="963.15" font-size="25.5" font-family="'DejaVu Sans', 'Liberation Sans', sans-serif">(+)</text>
<path d="M1442.8 982.3V1007.4" class="eb"/>
<path d="M1437.7 982.3h10.2M1437.7 1007.4h10.2" class="cap"/>
<path d="M1442.8 990.15L1438.1 999.55L1447.5 999.55Z" class="mk"/>
<path d="M1442.8 1019.5V1044.6" class="eb"/>
<path d="M1437.7 1019.5h10.2M1437.7 1044.6h10.2" class="cap"/>
<rect x="1438.1" y="1027.35" width="9.4" height="9.4" class="mk"/>
<text x="1488.5" y="1004" font-size="25.5" text-anchor="start" font-family="'DejaVu Sans', 'Liberation Sans', sans-serif">Exp. Data (-)</text>
<text x="1488.5" y="1041" font-size="25.5" text-anchor="start" font-family="'DejaVu Sans', 'Liberation Sans', sans-serif">Exp. Data (+)</text>
<rect x="547.8" y="1473" width="277.4" height="300.5" rx="4.5" ry="4.5" fill="#fff" fill-opacity="0.8" stroke="#cccccc" stroke-width="2"/>
<path d="M557.8 1499.7H607" style="stroke:#4ddbc9;stroke-width:2.16;fill:none;stroke-dasharray:2.16 3.56;"/>
<path d="M557.8 1547H607" style="stroke:#D81B60;stroke-width:2.16;fill:none;stroke-dasharray:2.16 3.56;"/>
<path d="M557 1592.2H607" style="stroke:#4ddbc9;stroke-width:2.2;fill:none;stroke-linejoin:round;"/>
<path d="M557 1639H607" style="stroke:#D81B60;stroke-width:2.2;fill:none;stroke-linejoin:round;"/>
<path d="M557 1677.7H607" style="stroke:#000;stroke-width:1.9;fill:none;stroke-dasharray:7.0 3.05;"/>
<text x="625.4" y="1508" font-size="24.3" font-family="'DejaVu Sans', 'Liberation Sans', sans-serif" font-style="italic">F</text>
<text x="638.74" y="1514.8" font-size="17.01" font-family="'DejaVu Sans', 'Liberation Sans', sans-serif" font-style="italic">id</text>
<text x="640.36" y="1496.4" font-size="17.01" font-family="'DejaVu Sans', 'Liberation Sans', sans-serif" font-style="italic">weak,<tspan dx="0">int</tspan></text>
<text x="721.1" y="1508" font-size="24.3" font-family="'DejaVu Sans', 'Liberation Sans', sans-serif" textLength="74.1" lengthAdjust="spacingAndGlyphs">(1<tspan font-style="italic">mA</tspan>)</text>
<text x="625.4" y="1554.4" font-size="24.3" font-family="'DejaVu Sans', 'Liberation Sans', sans-serif" font-style="italic">F</text>
<text x="638.74" y="1561.2" font-size="17.01" font-family="'DejaVu Sans', 'Liberation Sans', sans-serif" font-style="italic">id</text>
<text x="640.36" y="1540.8" font-size="17.01" font-family="'DejaVu Sans', 'Liberation Sans', sans-serif" font-style="italic">hybrid</text>
<text x="625.4" y="1600" font-size="24.3" font-family="'DejaVu Sans', 'Liberation Sans', sans-serif" font-style="italic">F</text>
<text x="638.74" y="1606.8" font-size="17.01" font-family="'DejaVu Sans', 'Liberation Sans', sans-serif" font-style="italic">id</text>
<text x="640.36" y="1588.4" font-size="17.01" font-family="'DejaVu Sans', 'Liberation Sans', sans-serif" font-style="italic">weak,<tspan dx="0">int</tspan></text>
<text x="720.3" y="1600" font-size="24.3" font-family="'DejaVu Sans', 'Liberation Sans', sans-serif" textLength="98" lengthAdjust="spacingAndGlyphs">(1.5<tspan font-style="italic">mA</tspan>)</text>
<text x="625.4" y="1646.7" font-size="24.3" font-family="'DejaVu Sans', 'Liberation Sans', sans-serif" font-style="italic">F</text>
<text x="638.74" y="1653.5" font-size="17.01" font-family="'DejaVu Sans', 'Liberation Sans', sans-serif" font-style="italic">id</text>
<text x="640.36" y="1633.1" font-size="17.01" font-family="'DejaVu Sans', 'Liberation Sans', sans-serif" font-style="italic">hybrid</text>
<text x="625.4" y="1686.2" font-size="24.3" text-anchor="start" font-family="'DejaVu Sans', 'Liberation Sans', sans-serif">Hutchinson</text>
<path d="M582 1701.7V1725.5" class="eb"/>
<path d="M576.9 1701.7h10.2M576.9 1725.5h10.2" class="cap"/>
<path d="M582 1708.9L577.3 1718.3L586.7 1718.3Z" class="mk"/>
<path d="M582 1737.35V1761.45" class="eb"/>
<path d="M576.9 1737.35h10.2M576.9 1761.45h10.2" class="cap"/>
<rect x="577.3" y="1744.7" width="9.4" height="9.4" class="mk"/>
<text x="625.4" y="1722.2" font-size="24.3" text-anchor="start" font-family="'DejaVu Sans', 'Liberation Sans', sans-serif">Exp. Data (-)</text>
<text x="625.4" y="1757.9" font-size="24.3" text-anchor="start" font-family="'DejaVu Sans', 'Liberation Sans', sans-serif">Exp. Data (+)</text>
<rect x="1418.6" y="1473" width="277.4" height="300.5" rx="4.5" ry="4.5" fill="#fff" fill-opacity="0.8" stroke="#cccccc" stroke-width="2"/>
<path d="M1428.6 1499.7H1477.8" style="stroke:#4ddbc9;stroke-width:2.16;fill:none;stroke-dasharray:2.16 3.56;"/>
<path d="M1428.6 1547H1477.8" style="stroke:#D81B60;stroke-width:2.16;fill:none;stroke-dasharray:2.16 3.56;"/>
<path d="M1427.8 1592.2H1477.8" style="stroke:#4ddbc9;stroke-width:2.2;fill:none;stroke-linejoin:round;"/>
<path d="M1427.8 1639H1477.8" style="stroke:#D81B60;stroke-width:2.2;fill:none;stroke-linejoin:round;"/>
<path d="M1427.8 1677.7H1477.8" style="stroke:#000;stroke-width:1.9;fill:none;stroke-dasharray:7.0 3.05;"/>
<text x="1496.2" y="1508" font-size="24.3" font-family="'DejaVu Sans', 'Liberation Sans', sans-serif" font-style="italic">F</text>
<text x="1509.54" y="1514.8" font-size="17.01" font-family="'DejaVu Sans', 'Liberation Sans', sans-serif" font-style="italic">id</text>
<text x="1511.16" y="1496.4" font-size="17.01" font-family="'DejaVu Sans', 'Liberation Sans', sans-serif" font-style="italic">weak,<tspan dx="0">int</tspan></text>
<text x="1591.9" y="1508" font-size="24.3" font-family="'DejaVu Sans', 'Liberation Sans', sans-serif" textLength="74.1" lengthAdjust="spacingAndGlyphs">(1<tspan font-style="italic">mA</tspan>)</text>
<text x="1496.2" y="1554.4" font-size="24.3" font-family="'DejaVu Sans', 'Liberation Sans', sans-serif" font-style="italic">F</text>
<text x="1509.54" y="1561.2" font-size="17.01" font-family="'DejaVu Sans', 'Liberation Sans', sans-serif" font-style="italic">id</text>
<text x="1511.16" y="1540.8" font-size="17.01" font-family="'DejaVu Sans', 'Liberation Sans', sans-serif" font-style="italic">hybrid</text>
<text x="1496.2" y="1600" font-size="24.3" font-family="'DejaVu Sans', 'Liberation Sans', sans-serif" font-style="italic">F</text>
<text x="1509.54" y="1606.8" font-size="17.01" font-family="'DejaVu Sans', 'Liberation Sans', sans-serif" font-style="italic">id</text>
<text x="1511.16" y="1588.4" font-size="17.01" font-family="'DejaVu Sans', 'Liberation Sans', sans-serif" font-style="italic">weak,<tspan dx="0">int</tspan></text>
<text x="1591.1" y="1600" font-size="24.3" font-family="'DejaVu Sans', 'Liberation Sans', sans-serif" textLength="98" lengthAdjust="spacingAndGlyphs">(1.5<tspan font-style="italic">mA</tspan>)</text>
<text x="1496.2" y="1646.7" font-size="24.3" font-family="'DejaVu Sans', 'Liberation Sans', sans-serif" font-style="italic">F</text>
<text x="1509.54" y="1653.5" font-size="17.01" font-family="'DejaVu Sans', 'Liberation Sans', sans-serif" font-style="italic">id</text>
<text x="1511.16" y="1633.1" font-size="17.01" font-family="'DejaVu Sans', 'Liberation Sans', sans-serif" font-style="italic">hybrid</text>
<text x="1496.2" y="1686.2" font-size="24.3" text-anchor="start" font-family="'DejaVu Sans', 'Liberation Sans', sans-serif">Hutchinson</text>
<path d="M1452.8 1701.7V1725.5" class="eb"/>
<path d="M1447.7 1701.7h10.2M1447.7 1725.5h10.2" class="cap"/>
<path d="M1452.8 1708.9L1448.1 1718.3L1457.5 1718.3Z" class="mk"/>
<path d="M1452.8 1737.35V1761.45" class="eb"/>
<path d="M1447.7 1737.35h10.2M1447.7 1761.45h10.2" class="cap"/>
<rect x="1448.1" y="1744.7" width="9.4" height="9.4" class="mk"/>
<text x="1496.2" y="1722.2" font-size="24.3" text-anchor="start" font-family="'DejaVu Sans', 'Liberation Sans', sans-serif">Exp. Data (-)</text>
<text x="1496.2" y="1757.9" font-size="24.3" text-anchor="start" font-family="'DejaVu Sans', 'Liberation Sans', sans-serif">Exp. Data (+)</text>
</svg></body></html>
